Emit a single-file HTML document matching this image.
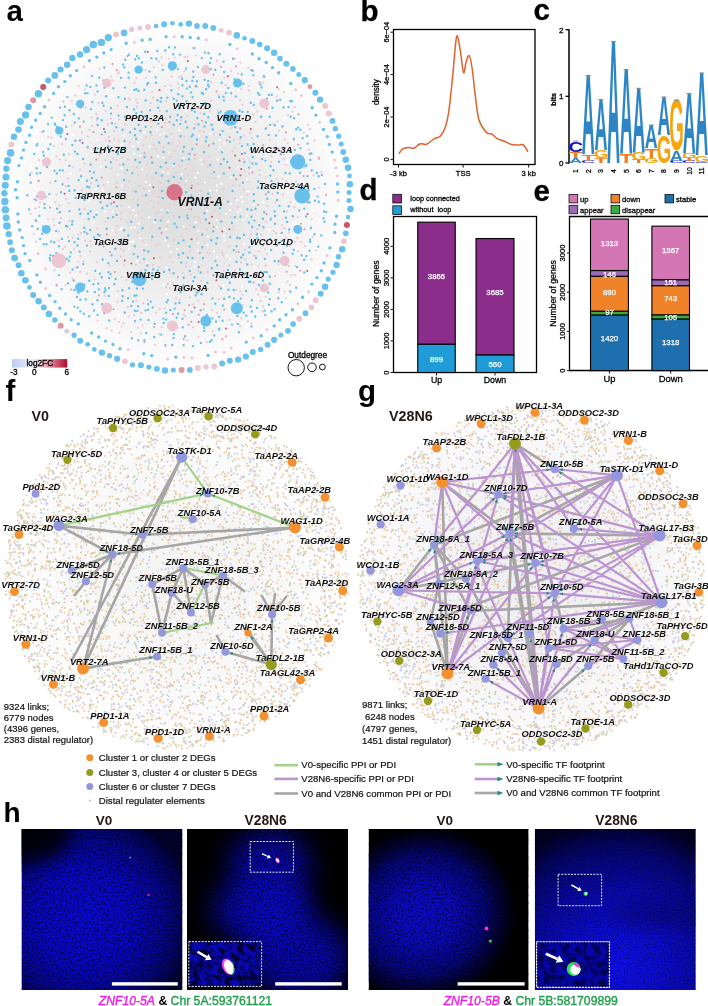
<!DOCTYPE html>
<html><head><meta charset="utf-8"><title>Figure</title>
<style>
html,body{margin:0;padding:0;background:#fff;}
body{width:708px;height:1006px;overflow:hidden;position:relative;}
svg{position:absolute;left:0;top:0;display:block;}
svg text{font-family:'Liberation Sans', Arial, Helvetica, sans-serif;}
</style></head><body>
<svg width="708" height="1006" viewBox="0 0 708 1006">
<defs><radialGradient id="ga" cx="177" cy="197" r="168" gradientUnits="userSpaceOnUse"><stop offset="0" stop-color="#dcdcdc"/><stop offset="0.3" stop-color="#e3e3e3"/><stop offset="0.6" stop-color="#efefef"/><stop offset="0.85" stop-color="#f7f7f7"/><stop offset="1" stop-color="#fdfdfd"/></radialGradient><linearGradient id="lfc" x1="0" x2="1" y1="0" y2="0"><stop offset="0" stop-color="#b9cdf3"/><stop offset="0.38" stop-color="#eef0f8"/><stop offset="0.5" stop-color="#f2d8de"/><stop offset="1" stop-color="#b3092f"/></linearGradient></defs>
<circle cx="177" cy="197" r="170" fill="url(#ga)"/>
<path d="M192.1 202.2h0M167.9 211.1h0M161.5 209.6h0M186.4 180.9h0M168.2 221.4h0M168 173.2h0M181.6 174.1h0M195.2 177.7h0M183.6 226.6h0M149.1 191h0M150 185.2h0M162.7 171.8h0M173.6 165.3h0M197.6 173h0M204.8 182.6h0M195.6 222.5h0M210.3 190.4h0M207.3 211.2h0M165.7 229.5h0M154.5 222.4h0M148.9 217.4h0M146.1 182h0M163.2 157.7h0M183.6 158h0M202 164.3h0M217 185.5h0M216.6 190.6h0M198.2 230.7h0M216.6 220.1h0M165.2 240.6h0M138.8 223.9h0M136.1 215.7h0M133.6 209.9h0M142.3 169.4h0M157.9 156.4h0M168.9 152.6h0M200.4 159.7h0M218.8 176.5h0M221.3 183.9h0M226 213.8h0M217.1 227.3h0M207.8 236.9h0M198.2 243.1h0M177.3 249.2h0M168.3 246.3h0M134.7 227.1h0M128.7 207.2h0M217.4 159.6h0M231.4 177.5h0M231.1 204h0M230.2 210.1h0M224 228.3h0M207.4 245.2h0M197.8 250.8h0M170.7 251.8h0M146.7 245.1h0M140.3 238.2h0M131.2 227.7h0M121.3 192.1h0M121.8 185.7h0M140.1 155.8h0M149.3 146.5h0M132.7 241.5h0M121.5 227.9h0M118.3 174.7h0M121.6 168.2h0M134.2 153.8h0M237.1 200h0M238.1 212.2h0M223.8 235.7h0M164.2 133h0M179.5 130.2h0M199 135.6h0M219.7 147.3h0M223.2 151.1h0M241.4 197.1h0M242.3 201.9h0M240.4 209.6h0M224.3 240.5h0M214 251.4h0M195 262.1h0M130.4 242.3h0M120.4 229.4h0M112.5 211.7h0M112.3 198.1h0M133.3 146.2h0M138.4 142.6h0M160.5 134.6h0M194.7 266.7h0M166.5 267.9h0M147.6 262.9h0M129.1 248.7h0M112.6 230.5h0M105.2 211.6h0M107.8 182.1h0M140.6 137.2h0M144.2 132.5h0M157.1 130.2h0M210.8 133.5h0M219.8 140.2h0M224.6 143.3h0M247.4 179.4h0M248.1 191.4h0M247 215.6h0M243.2 220.4h0M217.5 256.6h0M254 204h0M227.4 255.6h0M136.8 261.2h0M103 190.5h0M121.7 144.5h0M101.1 167h0M124.2 135.7h0M244 243.7h0M230 258.7h0M96.7 212.2h0M95.6 189.5h0M163.3 284.7h0M93.5 222.2h0M89.4 200.4h0M141.3 117.1h0M185.7 111h0M219.8 121.1h0M251.4 151.7h0M263.4 202.6h0M125.9 120.2h0M223.6 119.1h0M200.5 286.2h0M269.2 229.5h0M192.1 293.9h0M166.7 294.1h0M83.1 179.8h0M96.7 139.8h0M223.2 285.7h0M70.6 173.6h0M276.2 158.3h0M285.4 188.4h0M255.4 267.6h0M221.3 294.2h0M98.4 271.2h0M288.2 192.7h0M242 286.5h0M112.1 288.2h0M70.9 158.5h0M116.6 295.7h0M84.9 126.2h0M88 123h0M221.6 89.2h0M270.9 127.2h0M286.8 161.7h0M292.5 201.8h0M229.3 301.4h0M69.5 144.3h0M72.6 135.2h0M111.9 96.1h0M239.2 91h0M264 113.5h0M288.6 148.6h0M294.2 222.8h0M293.5 235.1h0M50.5 204.2h0M156.6 70.1h0M291 138.9h0M278.9 272.9h0M52.8 151.2h0M70.9 118.1h0M88.6 98.3h0M123.1 75.5h0M176.6 65.9h0M182.3 65.2h0M284.4 118h0M290.7 130.8h0M296.8 253h0M254.6 302.9h0M150.7 326h0M119.6 316.9h0M118.9 314.8h0M48.9 235h0M316.4 206.7h0M313.2 210.5h0M283.4 285.1h0M150 334.4h0M98.5 310.3h0M44.3 232.8h0M226.3 329.7h0M168.3 338.8h0M161.7 339.2h0M34.5 179.3h0M76 98.3h0M124.7 63.6h0M27.3 196.8h0M31.3 166.4h0M49.6 117.6h0M71.3 90.7h0M93 75.8h0M321.8 226.8h0M302 275.9h0M247 326.5h0" stroke="#ffffff" stroke-width="2.3" stroke-linecap="round"/>
<path d="M183.9 205.6h0M169.7 204.5h0M185.3 184.5h0M188.7 208.9h0M167.4 187.5h0M178.8 183.2h0M173.4 215.4h0M158.3 202.6h0M158.6 196.7h0M159.7 190.4h0M160.9 183.1h0M194.7 217.1h0M162.8 217.9h0M156.6 212.9h0M153.4 207.3h0M151.1 200.5h0M152.6 193.3h0M158.2 181h0M175.8 172h0M187.8 175.7h0M198.1 183.9h0M200.9 191h0M202.1 196.6h0M166.2 226.1h0M146.7 202.5h0M152.3 178.7h0M168.1 168.5h0M178.9 165.9h0M185.5 169h0M191.9 170.4h0M206.7 207.7h0M198.9 216.9h0M190.3 225.6h0M212.3 204.6h0M200.6 222.5h0M186.3 229.4h0M141.9 196.4h0M143.9 188.9h0M147 175.6h0M188.6 163.9h0M170 157.2h0M195 158.9h0M207.2 167.2h0M211.5 173.8h0M214.7 178.2h0M214.5 211.1h0M181.7 236.5h0M174.1 239.3h0M151 228.3h0M142.1 218h0M138.8 212.6h0M137.7 200.2h0M139.6 185.6h0M223.5 189h0M223.7 197h0M219.2 213.7h0M207.4 229.1h0M197.1 238.3h0M173.1 240.9h0M133 199.4h0M132.5 191.4h0M138 174.8h0M146.8 164.7h0M174.8 151.2h0M204 162.2h0M163.1 146.9h0M171.3 145.3h0M177.8 146.1h0M208.8 156.6h0M204.6 241.8h0M157.3 245.2h0M151.7 240.2h0M138.4 232.6h0M130.1 213.2h0M126.7 199.4h0M125.6 186h0M129.1 181.1h0M137.1 167.2h0M156 148.9h0M233.1 185.7h0M235 198.4h0M230.7 217.2h0M189.8 250.9h0M142.8 241.1h0M127.6 222.7h0M121.4 213.3h0M121 206h0M124.9 173.6h0M153.8 144.8h0M172.6 142.5h0M178.9 141.3h0M179.1 257.7h0M169.9 256.9h0M159.9 257.7h0M121.1 219.1h0M116.7 182.8h0M128.1 159.6h0M143.3 145h0M171.3 134h0M184.2 136.3h0M239.5 185.7h0M238.2 207.3h0M206.8 252.8h0M244.1 189.9h0M232.7 229.7h0M209.6 253.6h0M186.5 263.2h0M172.4 262.3h0M124.3 237.3h0M117 226.1h0M119.7 164.8h0M122.4 157.8h0M146.1 137.4h0M151.6 135.4h0M186.1 266.3h0M159.2 267.3h0M153.3 264.9h0M116.2 232.5h0M111.6 167.9h0M116.2 160.1h0M129.9 142.5h0M199.8 130.6h0M204 131.9h0M213.7 134.3h0M232.5 151.5h0M244.9 171.1h0M248.2 182h0M247.6 194.8h0M229 246.6h0M222.2 252.9h0M151 126.9h0M165 122.5h0M181 120.2h0M195.5 124h0M234.7 148.5h0M243.7 159.4h0M249.1 173.9h0M223.1 255.9h0M198.2 270.6h0M182.7 272.8h0M170 272h0M140.6 262.7h0M123.9 250.7h0M121 249.1h0M116.7 243.4h0M105.9 221.8h0M100.5 199.3h0M103.7 184.8h0M113.1 158.5h0M105.3 160.3h0M114.4 146.6h0M118.7 140.5h0M151.5 121.2h0M165.5 118.6h0M187.2 115.8h0M234.2 139.5h0M239.7 143.5h0M249.8 161.5h0M250.8 234.1h0M236.3 252h0M207.8 271.9h0M190.8 275h0M141.3 270.5h0M136 265h0M120.9 256.7h0M111.3 244.2h0M201 281.1h0M172.9 283.4h0M167.8 284.1h0M123.8 265h0M97.2 228.4h0M91.3 195h0M91.1 183.4h0M99.7 154.9h0M114.2 138.7h0M125.2 124.7h0M132 120.8h0M159.6 111h0M200.4 113.1h0M231.7 127.9h0M240.2 138.8h0M259.6 170.1h0M259.8 175.2h0M257.3 229.2h0M245.5 249.8h0M229.5 265.6h0M223.9 270.9h0M217.5 274.6h0M105.8 140.1h0M108.9 136.9h0M114.1 130.9h0M210 111.3h0M229.2 121.5h0M244.2 135.6h0M266.1 177.5h0M267.2 205.8h0M266.2 221.8h0M261.2 234.5h0M245.2 259.8h0M241 262.6h0M234.6 270.6h0M190 288.4h0M170.1 288.2h0M166.1 287.4h0M143.2 284.4h0M130.9 277.9h0M127.3 272.5h0M96.8 243h0M84.5 209.2h0M250.6 133.1h0M252.2 138.2h0M272.4 193.9h0M275.3 202.6h0M271.3 217.8h0M259.2 251.3h0M255.5 256.1h0M253.8 255.7h0M219.1 286.4h0M208 288.9h0M140.9 285.6h0M126.2 280.1h0M121.3 277.2h0M109.6 265.7h0M91.2 246h0M90.6 241.3h0M81.8 190.1h0M84.4 163.3h0M115.1 123.8h0M119 119.5h0M137 106.7h0M150.6 103.2h0M166.1 101.1h0M217.5 110.6h0M96.7 262.1h0M90.1 251.4h0M85.2 240.7h0M81 233.2h0M80 169.7h0M107.9 124.3h0M111.1 118.5h0M137.3 102.9h0M152.9 97.7h0M211.1 100.5h0M237.8 115.8h0M246.8 121.2h0M271.7 156.2h0M271.4 162.1h0M276.6 179.1h0M273.8 231h0M266.7 244.8h0M265.3 249h0M251.5 264.2h0M239.6 275.7h0M189.8 297.5h0M179.6 300h0M176.2 298.4h0M72.7 167.4h0M87.8 136.4h0M117.7 105.8h0M130.1 99.6h0M135.9 99.6h0M152.1 92h0M160.5 90.6h0M178.6 88h0M248.7 115.6h0M255.4 121.9h0M269.9 139.9h0M282.1 179.2h0M282.8 194.6h0M282 225.2h0M276.1 233.4h0M267.1 254.1h0M258 266.5h0M198.2 300.5h0M192.9 304.3h0M147.6 300h0M77.9 234.5h0M68.7 203h0M218.4 94.9h0M242.5 105h0M253.2 114.6h0M266.7 127.7h0M283.6 159.1h0M285.8 165h0M286.2 181.5h0M290.4 202.1h0M286.9 211.3h0M284.5 228.2h0M265.8 265.7h0M254.9 275.7h0M240.3 291.3h0M235.9 289.9h0M218.5 299.2h0M164.6 308.3h0M159.8 309.1h0M143 303.2h0M136.5 301h0M117.7 291.3h0M83.6 261.4h0M80.3 256h0M72.8 237.5h0M69.6 229.1h0M69.4 221.1h0M66.1 199h0M65.6 186.2h0M67.7 178.5h0M81.7 139.4h0M89.3 129.8h0M92.1 125.8h0M96.6 119.8h0M105.9 110.8h0M128.6 98.1h0M165 86h0M170.9 85.7h0M178.1 83.5h0M156.1 312.5h0M94.6 279.7h0M87.3 273.7h0M78.1 261.6h0M74.1 249.2h0M68.2 237h0M61 218.1h0M59.2 205.4h0M65.7 160.3h0M69.2 153.9h0M81.8 132.2h0M91.7 117.5h0M96.2 113.9h0M240.1 100.2h0M256.8 111.6h0M283.7 154.6h0M294.5 207.4h0M289.1 232.4h0M285.6 237.7h0M259.9 277h0M242.5 294.7h0M211.8 309.9h0M203.5 309.2h0M183.6 314.5h0M59.9 222.3h0M58.1 212.9h0M55.3 202.2h0M56.4 194.4h0M59.8 159.5h0M98 103.3h0M134.4 82.8h0M145.7 78h0M171.5 76.7h0M178.8 77.1h0M181 76.3h0M211.1 82.2h0M225.7 85.2h0M273.5 124.1h0M278.8 130.7h0M285 139.7h0M287.7 143.4h0M296 181.2h0M298.2 192.4h0M297.7 217h0M290.1 245.7h0M278.4 264.2h0M256.2 289.4h0M217 313h0M185.6 316.6h0M141.2 312.9h0M127.9 306.9h0M117.6 301.7h0M104.6 296h0M80.3 271.8h0M76 267.5h0M65.2 246.8h0M58.9 231.6h0M168.1 323.3h0M134.2 315.2h0M128.8 316.4h0M106.3 303.6h0M62.6 249h0M58.3 240.6h0M54.2 225.5h0M53.4 219.6h0M50.2 182.7h0M56.6 156.5h0M62.2 144.1h0M71.9 125.5h0M85.6 107.7h0M136.4 77.9h0M184.4 71.1h0M224.5 78h0M234.1 83.3h0M241.1 89.2h0M249 90.7h0M277.6 121.5h0M303.2 186.2h0M299.6 228.9h0M297.4 237.9h0M294.7 242h0M275 276.2h0M258.3 294.6h0M242.8 305.3h0M54.1 146.3h0M62.3 129.1h0M94.6 94.4h0M112.4 80.4h0M145.4 70h0M153.7 67h0M162.3 65.1h0M248.6 86h0M301.2 242.1h0M297.8 251.4h0M288.6 265.9h0M265.7 296.8h0M260.6 300.9h0M229.5 319.9h0M192.9 327.3h0M177.4 328.2h0M161.7 327.2h0M142.4 325.4h0M72.4 278.5h0M70 272.7h0M48.1 219h0M277.8 100.5h0M288.1 115.3h0M308.9 149.8h0M313.5 175.4h0M311.8 219h0M310.4 229h0M305.1 246.2h0M295.5 266.1h0M291.3 274.8h0M287.6 281.5h0M278.9 292.3h0M263.2 306.2h0M241.7 317.9h0M236.8 323.5h0M212.5 331.1h0M159.2 334.1h0M137.9 327.8h0M123.3 323.2h0M118.8 321.9h0M114.5 319.2h0M39.1 207.2h0M40 202.3h0M39.3 193.4h0M37.9 180.6h0M51.4 137.8h0M70.2 110.8h0M110.8 76.6h0M118 73.7h0M118.8 72.4h0M158.9 61.3h0M168.7 58.8h0M174.8 57.6h0M184.7 57.2h0M231.2 71h0M238.1 73.7h0M187.2 56.6h0M195.9 55.5h0M217 60.8h0M263.2 82.5h0M276.8 96.3h0M292.2 111.5h0M303.9 132.5h0M318.7 187.6h0M312.6 236.9h0M294.9 275.1h0M290 285.1h0M284.8 291.5h0M262.4 311.3h0M247.9 321.2h0M240.1 326.2h0M198.5 337.1h0M187.2 340.5h0M140.9 333.5h0M131 332.1h0M121.8 326.5h0M65.8 284.9h0M54.5 270.3h0M35.2 208.5h0M39 159.9h0M48.3 136.9h0M72 100.7h0M75.2 95.4h0M85 89.5h0M161.6 57.4h0M119.3 332.7h0M111.6 330.5h0M106.5 328.3h0M97.8 320.5h0M56.7 284.7h0M45 268.4h0M46.1 269.6h0M36.1 241.6h0M33.7 234h0M30.6 213.8h0M31.7 172.6h0M41.6 132.3h0M63.6 102.2h0M63.2 101h0M78.4 86.2h0M99.8 69h0M192.8 48h0M209.2 53.6h0M234.7 58.6h0M240.5 62.6h0M248.3 67.8h0M263.5 75.7h0M278.7 89.1h0M283.9 92.1h0M294.6 106.9h0M307.8 124.9h0M309.9 129.2h0M314.7 140.3h0M318.3 157h0M321.7 172h0M316.5 250.6h0M311.5 259.4h0M289.5 291h0M285.7 298.5h0M251.5 323.6h0M206.7 342.1h0M172.4 345.5h0M154.9 344.8h0" stroke="#ecc6d2" stroke-width="2.2" stroke-linecap="round"/>
<path d="M191.2 209.3h0M191.9 185.5h0M210.3 197.5h0M161.6 232.9h0M213.6 227h0M151.3 157.4h0M194.9 154.8h0M144.4 153h0M196.7 144.3h0M116.4 187.2h0M209 145.4h0M236.1 179.4h0M199.8 253h0M161.9 127h0M169.5 122.1h0M226.8 140.3h0M101.7 177.6h0M145 120.8h0M202.1 120.8h0M229.6 137.1h0M252.5 172.5h0M258.2 205h0M238.7 251.7h0M177.9 277h0M106.9 234.2h0M110.1 252h0M103.7 246.5h0M96.3 159.6h0M109.6 141.1h0M265.8 194.4h0M181.1 103.9h0M198.5 108.1h0M240.3 128.4h0M266.7 214.1h0M114.9 272h0M93.6 148.7h0M101.7 134.5h0M263.3 145.4h0M93.5 132.1h0M189.2 305.3h0M195.6 85.9h0M216.5 91.5h0M278.4 148.9h0M204.1 304.2h0M184.7 310.2h0M172.9 314.1h0M253.7 282.6h0M80 126.7h0M224.2 309.5h0M198.7 314.8h0M191.2 321.8h0M188.6 324.7h0M113.5 309.2h0M98.9 295.5h0M50 207.6h0M213.4 74.6h0M238.4 84.9h0M266.7 108.7h0M285.8 132.4h0M303.7 176.1h0M300.9 223.8h0M285.8 264.7h0M81.2 107.8h0M298.2 144.7h0M304.5 229.3h0M286.7 271.7h0M154.2 327h0M38.7 180.9h0M221.1 66.8h0M236.1 66.4h0M259.5 82.3h0M300.2 270.8h0M183.7 339h0M71.2 289.5h0M36.3 221.2h0M34.6 199.2h0M116.7 70h0M56.5 285.4h0M38.2 253.6h0M112.5 63.9h0M127.4 56.1h0M298.3 114.4h0M319.1 158.6h0M326.1 195.1h0M226 336.3h0M222.5 339.3h0M144.4 342.2h0" stroke="#dc98aa" stroke-width="2.1" stroke-linecap="round"/>
<path d="M191.3 188.1h0M153.3 187.2h0M212.1 216.8h0M209.3 223.3h0M191.6 239.2h0M222.3 231.6h0M120.8 198.6h0M114 202.3h0M229.5 167.7h0M229.4 229.3h0M240.4 175.4h0M153.9 258.2h0M235.1 155.5h0M239.5 160.6h0M241.3 169h0M241.8 153.9h0M131.3 263.4h0M124.6 260.6h0M216.4 280.2h0M103.9 129.1h0M250.8 128.9h0M82.6 143h0M159.4 90h0M194.6 307.4h0M64.6 193.8h0M198.5 322h0M67.4 134.1h0M227.9 76.2h0M307.5 213.9h0M53.2 256h0M187.8 60.9h0M226 328.6h0M147.8 52.1h0M277.1 87.3h0M307.2 271h0" stroke="#c9546f" stroke-width="2.0" stroke-linecap="round"/>
<path d="M186.1 192.3h0M187.7 199.5h0M174.1 188.7h0M191.3 195.8h0M162.8 198.1h0M162.2 191.1h0M187.1 215.4h0M179.4 217h0M167.6 212.5h0M168.4 181h0M173.8 176.9h0M181 178.6h0M193.7 203.7h0M187.7 218.3h0M174.7 223.7h0M161.9 175.5h0M202.6 204.7h0M176.8 227.1h0M160.8 220.6h0M155.3 219.9h0M146.1 195.3h0M156.1 173h0M208.2 193.8h0M205.7 201.2h0M204.5 213.2h0M205.8 219.5h0M194 226.9h0M159.6 228.3h0M160.6 167h0M166 162.7h0M174.2 163.8h0M182 160.6h0M152.2 162.8h0M188.8 159.2h0M217.3 205h0M167.2 237.6h0M137.9 205h0M135.8 191.5h0M220.1 208.2h0M202.2 234.4h0M183.5 240.4h0M178.5 243h0M152.3 236.7h0M142.5 228.2h0M163.6 151.9h0M183.1 151.6h0M189.4 153.9h0M210.1 165h0M214.1 172.1h0M184 146.9h0M192.4 149h0M204.1 152h0M223.8 173.5h0M228 201.6h0M221.4 221.6h0M213.2 231.3h0M189.8 246.6h0M131.2 221.7h0M132.3 173.1h0M139.7 162.2h0M144.6 157h0M220.8 164.1h0M232.6 190.9h0M217.2 238.1h0M211.2 240.3h0M202.2 247.2h0M183 253.3h0M178.6 254.7h0M124.1 179.9h0M127.2 170.1h0M135.3 159.8h0M159.2 142.5h0M168.7 143.2h0M192.5 258.2h0M187.9 257.7h0M148.3 251.5h0M144.2 250.2h0M128.3 235.5h0M124.2 230.3h0M116.7 214.9h0M116.9 206.3h0M123.3 164.5h0M137.8 149.3h0M166.4 136.4h0M180.5 136.3h0M191.5 136.6h0M197 139.5h0M205.9 141.3h0M222.1 152.2h0M223.8 159.3h0M227.3 161.9h0M233.8 175.3h0M234.8 217.3h0M231.9 222.8h0M216.3 243.6h0M192.8 134.8h0M206.5 137.3h0M213.4 143.6h0M242.9 182.8h0M240.5 216.5h0M230.2 237.1h0M202.9 258.2h0M181.3 262.4h0M134.8 246.3h0M113 217.1h0M111.3 203.6h0M198.7 266.9h0M169.3 269.8h0M144 259.1h0M137.9 256.8h0M133.7 254.1h0M125.4 244.1h0M121.4 239.5h0M108.2 218.1h0M107.2 205.8h0M117.9 153.8h0M121.4 150.9h0M124.7 147.9h0M136.2 138.9h0M150.5 132.2h0M173.7 124.7h0M180.3 123.9h0M187.2 127.4h0M194.1 128.3h0M247.4 209.2h0M237.2 237.7h0M124.6 140.9h0M135 135.2h0M140.4 130.9h0M145.7 126.8h0M158.3 123.6h0M176.8 120.3h0M185.6 121.7h0M198.5 124.4h0M204.4 126.4h0M212.8 129.5h0M220 134.8h0M229.9 141.7h0M244.4 162.1h0M249 167.6h0M253.9 194.2h0M253.9 201h0M251.4 210h0M251.5 216.8h0M248.9 222.6h0M244 234.9h0M239.7 238.3h0M236.7 246.1h0M233.8 250.1h0M215.5 261.1h0M189.8 271.1h0M173.6 273.2h0M164 271.7h0M157.6 270.4h0M153.2 269.3h0M147.4 265.5h0M106.7 228.8h0M102.4 208h0M100.6 202.2h0M106.2 166.9h0M110.9 162.3h0M117.7 151.7h0M96.4 180.3h0M109.9 151.2h0M130.2 132.2h0M134.9 128.9h0M138.7 124.8h0M170.2 117h0M177.6 115h0M181.2 117.3h0M197.3 118h0M205.9 122.4h0M211.7 124.7h0M222.6 131.1h0M242 146.1h0M244.8 153.1h0M252.5 163.5h0M258.2 181.5h0M258 187.7h0M255.5 208.8h0M254.4 220.6h0M252.2 226.9h0M217.2 265.3h0M211.7 268.2h0M200.7 272.5h0M194.6 277.2h0M183.7 277.8h0M158.7 276.9h0M152.2 273.2h0M145.5 270.3h0M115.3 248.8h0M96.4 214.8h0M98.2 185.9h0M213.6 275.4h0M193.1 281.2h0M183.3 285.5h0M152 278.9h0M142.6 275.2h0M135.2 274.1h0M117 260.9h0M111.6 255.2h0M99.6 235.5h0M97.9 234.4h0M94 217.2h0M90.5 211.2h0M89.3 187.2h0M92 177.9h0M93.9 172.5h0M100.6 152.7h0M108.2 146.3h0M122.6 129.7h0M145 116.3h0M166.8 111.1h0M179 108.2h0M191.8 110.1h0M194.9 111.7h0M204.3 113.9h0M208.3 117.3h0M218.4 119.7h0M237.4 132.1h0M240.7 137.3h0M247.6 144.5h0M250.6 148.9h0M252.8 157h0M256.2 163.8h0M262.2 188.5h0M264.2 212.2h0M262.9 218.7h0M259.3 225.3h0M256.9 234.3h0M251.8 241.4h0M249.5 247.3h0M243.2 254.7h0M241.2 257.5h0M236.5 261.8h0M228 269.9h0M96.3 152.3h0M97.6 148.5h0M116.4 127.2h0M131.7 118.7h0M136.3 113.2h0M141.5 112h0M150.1 110.3h0M158.2 107.8h0M177.9 105.8h0M218.8 113.1h0M235.3 127.3h0M253.7 144h0M255.1 151.6h0M262.2 159h0M268.1 185.1h0M268.4 192.3h0M267.3 198.8h0M263.5 227.2h0M257.2 238.5h0M249.4 252.5h0M222.2 277.3h0M207.2 282.6h0M175.2 289.6h0M99.2 244.9h0M94.1 237.4h0M90.3 230h0M88.6 219h0M88.1 213.7h0M84.6 200h0M86.6 193.9h0M87.2 186.8h0M87.1 180.7h0M89.9 171.1h0M90.6 164.8h0M265.4 160.6h0M270.6 166.2h0M270.2 175.6h0M271.5 181h0M273.7 186.3h0M274.6 211.5h0M270.6 219.5h0M264.8 240.5h0M262.8 245.2h0M247.3 264.5h0M239.9 269.5h0M233.9 274.6h0M234.3 276.9h0M227.1 278h0M198.6 291.3h0M196.8 292.9h0M180.5 292.3h0M143 288.6h0M132.4 281.8h0M108.4 263.1h0M102.7 259.5h0M87.2 233.6h0M84.6 232h0M84.3 227.8h0M80.4 213.7h0M79.3 209.4h0M81.3 197.2h0M81.1 176.3h0M105 131.9h0M111.9 123.2h0M124.9 116.8h0M134 109.4h0M157.5 100.2h0M160.6 101.7h0M173.6 98.8h0M176.8 100.6h0M186.4 101.1h0M202.6 104.9h0M205.2 102.7h0M209.8 106.5h0M220.7 111.6h0M231.3 118.7h0M234.6 121h0M110.6 274.2h0M108.5 272.3h0M87.1 245.6h0M75.7 197.7h0M74.6 190.3h0M78.7 180.1h0M83.1 159h0M87.7 147.3h0M118.6 115.6h0M126.9 106.9h0M145.7 100.5h0M161.3 98h0M167.4 97.6h0M178.3 94.2h0M182.3 96.3h0M192.5 97.1h0M234.3 112.1h0M257.5 136.3h0M265.9 151.3h0M273.4 170.3h0M278.3 183.2h0M277.7 193h0M277.1 200h0M279.5 205.9h0M275 216h0M275 223.8h0M270.1 239.1h0M256.1 258.1h0M244.3 274.2h0M229.8 282.8h0M221 288.5h0M201.5 294.2h0M195.8 295.4h0M167.9 299.9h0M136.9 288.5h0M129.1 288.2h0M115.7 278.9h0M69.3 190.7h0M68.6 185.9h0M77.4 154h0M97.6 125h0M101.8 120.3h0M111 113.6h0M171.5 90.3h0M186.8 88.4h0M191.1 92.4h0M201.9 93h0M203.1 93.7h0M219.2 97.2h0M223.9 100.4h0M239.5 110.7h0M242.4 111.8h0M274.8 152h0M279 161.8h0M284.1 211.4h0M271.1 249.9h0M264.8 258.9h0M248.3 277.6h0M233.7 290h0M228.3 289.8h0M212.5 298.4h0M179.4 302.7h0M175.5 303.5h0M166.7 302.3h0M150.7 301.6h0M136.5 295.4h0M134.4 295.7h0M122.4 290.2h0M114.3 284.3h0M109.2 278h0M99.9 273.6h0M78.2 238.7h0M72.1 224.4h0M72.5 221.3h0M69.5 211.1h0M189.9 86.8h0M196.5 86.5h0M206.3 89.1h0M206 89.2h0M223.5 96.8h0M247.7 112h0M265.7 128.7h0M268.6 134.9h0M276.2 148.4h0M280.7 154.3h0M285.5 173h0M288.7 206.2h0M285.8 217.8h0M287.2 221.9h0M281.8 232.9h0M281.4 241.1h0M278.5 243.3h0M276.6 245.4h0M260.8 271.6h0M250.4 281.8h0M249 281.8h0M229.4 296.9h0M224.2 298.8h0M215.2 303.8h0M174.7 308.6h0M170.3 309.9h0M152.7 307.4h0M148.2 304.2h0M133 301.6h0M128.1 298.3h0M122.8 296.2h0M109.1 288h0M101.8 277.3h0M95.3 270.7h0M79.6 251.6h0M77.5 245.5h0M74.5 242.3h0M67.3 226.4h0M69.5 165.8h0M74.9 151.6h0M79.9 140.4h0M97.6 118.4h0M111 108.1h0M124.9 98.7h0M138.6 91h0M144.3 89.8h0M182.5 85.2h0M178.1 313.8h0M166.1 312.8h0M148.1 309.6h0M145.6 310.4h0M138.2 306.3h0M131.3 305.9h0M122.1 300.9h0M105.5 290.4h0M105.1 288.1h0M98.2 283.6h0M83.2 264.1h0M69 241.1h0M66 226h0M60.1 212h0M61 192.3h0M62.5 184.2h0M62.8 170.4h0M72.3 144.9h0M75.3 140.7h0M103.7 105.7h0M118.5 97.2h0M134.4 89.9h0M136.4 89.2h0M147.1 84.4h0M148.3 82.9h0M155.9 82.7h0M182.1 78.8h0M186.5 81h0M192.3 80.9h0M196.9 81.3h0M208 84.7h0M208.8 86.6h0M225.9 92.9h0M231.2 93.3h0M235.7 96.4h0M261 116.9h0M261.3 116.8h0M270.1 124.9h0M276 135.5h0M289.8 173.5h0M292.8 216.2h0M289.2 229.5h0M274.7 261.2h0M266.8 272.3h0M264.6 271.9h0M246.1 291h0M234 298.4h0M222.8 305.5h0M200.6 310.2h0M191.6 311.9h0M59.4 222.9h0M57.1 208.7h0M55.5 181.1h0M56.8 173.2h0M59.8 170.3h0M63.8 154.7h0M83.7 121.6h0M90.9 109.1h0M102.3 102.8h0M106.1 96.3h0M124.9 87.6h0M155.6 77.4h0M193.5 77h0M204.6 79.8h0M208.2 80.9h0M221.7 82.7h0M228.3 87.9h0M250.7 102.7h0M253.8 104.9h0M269.7 116.8h0M274.8 125.3h0M289.8 151.9h0M291.2 161.2h0M294.8 164.7h0M297.9 184.4h0M300.3 198h0M299.3 210.5h0M295.7 227.1h0M286.9 245.9h0M283.5 252.8h0M278.7 261h0M269.8 276.8h0M263 280.5h0M258.9 285h0M240.9 298.6h0M238.1 301.3h0M207.3 316.3h0M206.9 315h0M182.5 318.8h0M176.6 317.7h0M166.3 319.6h0M163.5 318.6h0M137.4 310.9h0M134.9 310.8h0M108.7 295.9h0M104.3 292.2h0M98.9 289.4h0M93.4 284.2h0M89.3 280.7h0M77.6 267.2h0M69.8 256.6h0M70.7 252.4h0M61.9 238.9h0M235.1 308.2h0M219.1 316.9h0M212.3 318.4h0M206.6 319.2h0M163.8 323h0M154.7 323.8h0M148.6 319.9h0M140.6 319.6h0M124.8 312.5h0M94.8 292h0M84.3 284.8h0M72.6 269.5h0M68.8 260.7h0M66.6 258.8h0M58.9 246.2h0M56.2 230.9h0M49.4 194.1h0M54.4 170.8h0M65.8 139h0M74.8 122.6h0M78.8 118.4h0M92.3 102.1h0M113.3 88.2h0M128.7 77.8h0M149.4 71.6h0M162.8 69.9h0M171.2 69.7h0M178 69.1h0M186.1 68.6h0M193.2 71.6h0M282.5 126.5h0M294.8 150h0M298.4 155.6h0M300 172.7h0M303.7 188.3h0M304.8 199.3h0M304.3 208.6h0M293.7 249.8h0M292.6 253.8h0M284.1 264.6h0M269.9 283.8h0M262.6 288.7h0M251.9 300.2h0M49.6 163h0M60.8 136.5h0M66.2 126.7h0M73.9 114h0M82.2 103.8h0M97.6 91.4h0M104.5 87.5h0M121 77.9h0M128.6 72.6h0M169.1 66.6h0M197.9 67.1h0M210.8 69.1h0M215.3 69.9h0M224.2 72h0M234.6 79.1h0M243.4 83.7h0M258 93h0M259.5 94.9h0M266.9 98.6h0M272.5 107.8h0M293.9 139h0M300.4 148.1h0M306.6 165.1h0M305.4 166.3h0M307.5 176.1h0M307.7 185.6h0M308.6 190.2h0M308 202.6h0M309.4 202.2h0M306.1 216.5h0M268.3 292.6h0M250.6 306.7h0M243.7 312.6h0M237.4 316h0M222.6 320.7h0M216 321.5h0M204 327.7h0M182.7 327.2h0M171.5 328.1h0M135 321.3h0M102.1 304.2h0M97.4 300.2h0M87.3 291.4h0M73.7 280.5h0M58.8 255.1h0M56.4 253.3h0M54.2 242.2h0M51.1 241.5h0M47.9 227.1h0M44.6 207.9h0M44.6 204.1h0M45.4 196.9h0M47 167h0M241.8 74.4h0M260.5 84.5h0M261.5 87.5h0M268.9 94.9h0M271.7 94.7h0M277 100.7h0M283.5 107.4h0M290.8 116.7h0M296.2 129.3h0M298.1 127.6h0M302.5 138.3h0M309.9 153.8h0M310.3 159.9h0M311.7 170.5h0M314.3 189.1h0M314.9 200.8h0M311 227.8h0M310.1 239.8h0M301.6 255.4h0M297.2 267.1h0M279.1 289.3h0M269.7 299.1h0M257 307.9h0M251.8 311.5h0M246.3 315.6h0M232 324.6h0M218.9 329.4h0M219.4 328.7h0M204.3 330.9h0M185 336.3h0M173.9 334.1h0M161.3 334.6h0M146.2 332.9h0M104.3 313.1h0M92.5 304.3h0M85.7 299.3h0M78.4 292.8h0M74.3 290h0M68.1 283.2h0M59.2 266h0M55.1 264.8h0M50.5 255.1h0M46.5 244.2h0M42.3 233.8h0M43 226.8h0M39.4 215.9h0M37 196.6h0M40.3 172.9h0M43.8 155.4h0M48.3 149h0M50.5 144.2h0M57.2 127h0M58.3 127.6h0M63 120.1h0M64.6 115.3h0M69.4 110.1h0M87.6 93.1h0M85.2 93.3h0M90.4 86.9h0M96.5 85.4h0M103.6 80.4h0M124.3 67.3h0M141.9 62.5h0M156.5 58.8h0M210 62.9h0M201.8 58.1h0M211 58.2h0M223.5 61.6h0M253.3 75.1h0M280.2 99.8h0M288.5 107.1h0M294.1 118.3h0M300.3 129.8h0M307.2 135.9h0M307.7 143.6h0M311.4 153.4h0M316.9 173h0M318.7 176.3h0M317.6 196.6h0M318.8 201.8h0M314.5 234.2h0M310.2 241.9h0M309.5 250.8h0M306.3 256.1h0M304.1 259.8h0M278.3 298.3h0M268.9 304.8h0M264.6 310.6h0M255.2 316.5h0M238.1 324.1h0M214.2 335.5h0M173.5 338.1h0M154.2 337h0M109.1 320.4h0M97.6 314.9h0M94 310.5h0M80.3 299.7h0M76.9 296.9h0M58.9 275.1h0M50.2 260.3h0M49.8 258h0M43.7 244.2h0M40.1 239.1h0M37.8 228.9h0M35.6 220.1h0M36.1 200.1h0M36.9 173.4h0M36.7 168.3h0M43.1 152h0M55.2 124.8h0M54.9 123.7h0M64.9 106.8h0M86.6 85.4h0M99.2 77.6h0M123.2 64.4h0M135.3 59.3h0M139 58.2h0M151.5 58.3h0M173.2 54.2h0M179.8 54.6h0M138.3 340.2h0M131.8 338.3h0M89.2 316.2h0M83.8 313.7h0M80.3 311.4h0M77.8 307.6h0M74.4 306.6h0M61.6 289.2h0M32.1 226.3h0M29.1 209.4h0M27.4 195.3h0M30.8 182.6h0M29.9 174.7h0M34.2 153.9h0M36.6 145.5h0M37.5 143.9h0M43.4 131.3h0M48 124.1h0M51.7 117.6h0M60 107.6h0M67.4 97.1h0M92 76.1h0M104.3 67.5h0M125.2 59.8h0M129 54.8h0M137.1 55.9h0M145.2 51.7h0M157.3 51h0M165.3 50.5h0M169 47.3h0M174.8 47.5h0M194.3 48.1h0M204.9 52.6h0M208.4 52.9h0M219.7 54.3h0M233 58.7h0M251.3 70.1h0M252.7 70.7h0M264.2 76.7h0M290.4 100.9h0M291.9 101.2h0M321.9 175.1h0M325.1 183.9h0M324.2 203.8h0M326.3 212.1h0M324.1 211.5h0M323.7 218.2h0M324.5 221.7h0M321.2 235.4h0M318.2 246.6h0M304.4 272.4h0M296.2 287.7h0M290.5 291.8h0M281.7 302.3h0M274.7 309.3h0M271.6 311.2h0M265.2 315.1h0M251.5 326.4h0M238.9 332.2h0M211.7 340.2h0M209.9 341.8h0M200.9 342.9h0M193 346.1h0M183.6 345.2h0M172.2 344.9h0M165.3 345.2h0M144.4 340.2h0" stroke="#67c1ec" stroke-width="2.4" stroke-linecap="round"/>
<path d="M336.5 216.3h0M335 224.2h0M334.8 232.5h0M329.9 247.9h0M324 263h0M321.3 270.8h0M316.9 277.6h0M311.9 284.1h0M302.6 297.2h0M292.4 309.8h0M286 314.8h0M279.7 319.8h0M274.2 325.9h0M261.2 335.7h0M246.2 342.1h0M208.1 355.4h0M175.8 357.1h0M151.7 355.6h0M143.8 353.8h0M120 348.8h0M113 344.5h0M105.6 341.1h0M98.7 337h0M91.7 333h0M78.3 323.9h0M71.2 319.8h0M65.5 314h0M59.8 308.2h0M55.1 301.6h0M49.7 295.5h0M40.4 282.3h0M36.9 274.9h0M29.8 260.5h0M25.1 253.6h0M23.5 245.6h0M22.2 237.6h0M19.7 229.9h0M18.3 222h0M17.9 213.9h0M17.1 197.8h0M15.6 189.7h0M17.5 181.7h0M18.9 165.6h0M21.6 157.9h0M23.5 150.1h0M25.9 142.4h0M29.6 135.2h0M31.6 127.3h0M35.7 120.2h0M40.2 113.5h0M44.6 106.8h0M53.7 93.4h0M58.4 86.8h0M64.8 81.6h0M70.3 75.7h0M76.6 70.6h0M89.4 60.6h0M96.8 57.1h0M103.8 52.9h0M111.2 49.6h0M126.2 43.3h0M142.2 40.3h0M150.2 39.4h0M166.1 36.7h0M182.2 36.7h0M190.2 37.5h0M198.3 38.3h0M229.9 44.5h0M252.3 54h0M259 58.7h0M266.2 62.5h0M272.5 67.6h0M278.6 72.8h0M290.8 83.5h0M312.2 107.8h0M315.9 115.1h0M323.4 129.4h0M327.3 136.6h0M329.3 144.5h0M332.2 152.1h0M337.5 184h0M337.8 192.1h0" stroke="#67c1ec" stroke-width="3.4" stroke-linecap="round"/>
<path d="M338.1 200.2h0M327.2 255.6h0M308.7 291.7h0M297.8 303.8h0M266.9 329.6h0M253.2 338.1h0M231.2 348h0M224 352.2h0M215.6 352.1h0M192 357.9h0M183.9 357.3h0M167.6 358.9h0M128.3 349.7h0M45.6 288.5h0M49 100h0M83.8 66.7h0M134.4 42.5h0M174.2 36.8h0M206.2 39.7h0M237 48.7h0M295.8 89.8h0M301.4 95.6h0M319.7 122.2h0M334.6 159.9h0M335.8 167.9h0M337.5 175.9h0" stroke="#ecc6d2" stroke-width="3.0" stroke-linecap="round"/>
<circle cx="86.6" cy="49.6" r="3.7" fill="#67c1ec"/>
<circle cx="93.3" cy="44.6" r="3.8" fill="#67c1ec"/>
<circle cx="101.4" cy="42.4" r="3.7" fill="#67c1ec"/>
<circle cx="108.3" cy="37.6" r="3.6" fill="#67c1ec"/>
<circle cx="116" cy="34.6" r="3" fill="#ecc6d2"/>
<circle cx="124.1" cy="32.9" r="3.3" fill="#67c1ec"/>
<circle cx="131.6" cy="29.4" r="2.6" fill="#ecc6d2"/>
<circle cx="139.8" cy="28" r="2.5" fill="#ecc6d2"/>
<circle cx="148" cy="27" r="3" fill="#ecc6d2"/>
<circle cx="156.1" cy="26" r="2.3" fill="#67c1ec"/>
<circle cx="164.2" cy="24.2" r="3" fill="#67c1ec"/>
<circle cx="172.4" cy="23.2" r="2.3" fill="#67c1ec"/>
<circle cx="180.7" cy="24.4" r="2.4" fill="#67c1ec"/>
<circle cx="188.9" cy="23.6" r="3.2" fill="#67c1ec"/>
<circle cx="197" cy="25.9" r="2.8" fill="#67c1ec"/>
<circle cx="205.3" cy="25.9" r="3" fill="#67c1ec"/>
<circle cx="213.3" cy="27.9" r="2.9" fill="#67c1ec"/>
<circle cx="221.2" cy="30.3" r="2.4" fill="#ecc6d2"/>
<circle cx="229" cy="32.7" r="2.9" fill="#ecc6d2"/>
<circle cx="236.8" cy="35.4" r="3.3" fill="#67c1ec"/>
<circle cx="244.5" cy="38.2" r="2.3" fill="#67c1ec"/>
<circle cx="252.3" cy="40.9" r="3" fill="#67c1ec"/>
<circle cx="259.7" cy="44.5" r="2.8" fill="#67c1ec"/>
<circle cx="267.1" cy="48.3" r="3" fill="#67c1ec"/>
<circle cx="274.1" cy="52.8" r="3.2" fill="#67c1ec"/>
<circle cx="280" cy="58.6" r="2.8" fill="#67c1ec"/>
<circle cx="286.4" cy="63.8" r="3" fill="#67c1ec"/>
<circle cx="292.9" cy="68.9" r="2.8" fill="#67c1ec"/>
<circle cx="298.8" cy="74.5" r="2.5" fill="#67c1ec"/>
<circle cx="304.8" cy="80.2" r="3.1" fill="#67c1ec"/>
<circle cx="309.9" cy="86.7" r="2.4" fill="#dc98aa"/>
<circle cx="315.4" cy="92.8" r="3" fill="#67c1ec"/>
<circle cx="320.1" cy="99.6" r="3.2" fill="#67c1ec"/>
<circle cx="325.2" cy="106.1" r="3" fill="#ecc6d2"/>
<circle cx="328.8" cy="113.6" r="3" fill="#ecc6d2"/>
<circle cx="332.5" cy="120.9" r="2.9" fill="#67c1ec"/>
<circle cx="335.3" cy="128.7" r="2.7" fill="#67c1ec"/>
<circle cx="338.7" cy="136.2" r="2.6" fill="#67c1ec"/>
<circle cx="341.2" cy="144" r="2.5" fill="#67c1ec"/>
<circle cx="343.2" cy="152" r="2.9" fill="#67c1ec"/>
<circle cx="345.8" cy="159.8" r="3.2" fill="#67c1ec"/>
<circle cx="348" cy="167.8" r="3.3" fill="#67c1ec"/>
<circle cx="349.5" cy="175.9" r="2.4" fill="#67c1ec"/>
<circle cx="349.8" cy="184.2" r="3.3" fill="#67c1ec"/>
<circle cx="349.1" cy="192.5" r="2.5" fill="#67c1ec"/>
<circle cx="349" cy="200.6" r="2.5" fill="#67c1ec"/>
<circle cx="350.5" cy="209" r="3.3" fill="#67c1ec"/>
<circle cx="348.1" cy="217" r="2.3" fill="#67c1ec"/>
<circle cx="346.9" cy="225.1" r="3" fill="#c9546f"/>
<circle cx="345.8" cy="233.3" r="2.9" fill="#67c1ec"/>
<circle cx="343.9" cy="241.3" r="2.8" fill="#ecc6d2"/>
<circle cx="342.2" cy="249.3" r="3.3" fill="#67c1ec"/>
<circle cx="338.4" cy="256.7" r="2.8" fill="#67c1ec"/>
<circle cx="336.6" cy="264.9" r="3.2" fill="#67c1ec"/>
<circle cx="333" cy="272.3" r="2.6" fill="#67c1ec"/>
<circle cx="328.2" cy="279.1" r="2.6" fill="#67c1ec"/>
<circle cx="325.1" cy="286.7" r="3.3" fill="#67c1ec"/>
<circle cx="320.7" cy="293.7" r="3" fill="#67c1ec"/>
<circle cx="315.6" cy="300.2" r="3" fill="#ecc6d2"/>
<circle cx="311.4" cy="307.4" r="2.8" fill="#ecc6d2"/>
<circle cx="305.5" cy="313.2" r="2.9" fill="#67c1ec"/>
<circle cx="299.3" cy="318.7" r="3" fill="#ecc6d2"/>
<circle cx="293.1" cy="324.1" r="2.8" fill="#67c1ec"/>
<circle cx="288" cy="330.8" r="2.9" fill="#67c1ec"/>
<circle cx="280.9" cy="335" r="2.5" fill="#67c1ec"/>
<circle cx="274.2" cy="339.8" r="3.1" fill="#67c1ec"/>
<circle cx="267.6" cy="344.8" r="3" fill="#67c1ec"/>
<circle cx="260.7" cy="349.4" r="2.7" fill="#67c1ec"/>
<circle cx="252.8" cy="352" r="3" fill="#67c1ec"/>
<circle cx="245.9" cy="356.6" r="3.1" fill="#67c1ec"/>
<circle cx="238.1" cy="359.6" r="3.2" fill="#67c1ec"/>
<circle cx="229.8" cy="360.7" r="3" fill="#67c1ec"/>
<circle cx="222.1" cy="363.5" r="3" fill="#67c1ec"/>
<circle cx="214.3" cy="366.5" r="3" fill="#ecc6d2"/>
<circle cx="206" cy="366.9" r="2.7" fill="#ecc6d2"/>
<circle cx="197.9" cy="368" r="3" fill="#ecc6d2"/>
<circle cx="189.8" cy="369.9" r="2.9" fill="#67c1ec"/>
<circle cx="181.6" cy="370" r="3" fill="#dc98aa"/>
<circle cx="173.3" cy="369.9" r="2.5" fill="#67c1ec"/>
<circle cx="165" cy="370.5" r="3.2" fill="#67c1ec"/>
<circle cx="156.9" cy="368.8" r="2.9" fill="#67c1ec"/>
<circle cx="148.9" cy="367.1" r="2.6" fill="#67c1ec"/>
<circle cx="140.9" cy="365.3" r="3" fill="#67c1ec"/>
<circle cx="132.5" cy="364.8" r="2.6" fill="#67c1ec"/>
<circle cx="124.9" cy="361.3" r="2.8" fill="#ecc6d2"/>
<circle cx="117.1" cy="358.8" r="3.1" fill="#67c1ec"/>
<circle cx="109.5" cy="355.7" r="2.6" fill="#67c1ec"/>
<circle cx="101.9" cy="352.6" r="3.2" fill="#67c1ec"/>
<circle cx="94.3" cy="349.4" r="2.4" fill="#67c1ec"/>
<circle cx="87.7" cy="344.3" r="2.4" fill="#67c1ec"/>
<circle cx="80.2" cy="340.8" r="3" fill="#67c1ec"/>
<circle cx="74.1" cy="335.2" r="2.6" fill="#67c1ec"/>
<circle cx="66.8" cy="331.2" r="2.4" fill="#ecc6d2"/>
<circle cx="60.7" cy="325.7" r="3" fill="#dc98aa"/>
<circle cx="54.8" cy="319.9" r="2.7" fill="#67c1ec"/>
<circle cx="48.9" cy="314" r="3.3" fill="#67c1ec"/>
<circle cx="43.8" cy="307.6" r="3" fill="#67c1ec"/>
<circle cx="38.6" cy="301.2" r="3.3" fill="#67c1ec"/>
<circle cx="33.2" cy="294.9" r="3" fill="#67c1ec"/>
<circle cx="29.5" cy="287.4" r="2.4" fill="#67c1ec"/>
<circle cx="25.4" cy="280.3" r="3.3" fill="#67c1ec"/>
<circle cx="21.3" cy="273.2" r="3.3" fill="#67c1ec"/>
<circle cx="18.6" cy="265.3" r="3" fill="#67c1ec"/>
<circle cx="14.6" cy="258.1" r="3.4" fill="#67c1ec"/>
<circle cx="11.8" cy="250.3" r="3" fill="#67c1ec"/>
<circle cx="10.1" cy="242.2" r="2.9" fill="#67c1ec"/>
<circle cx="8.7" cy="234.1" r="3.2" fill="#67c1ec"/>
<circle cx="6.9" cy="226.1" r="3.8" fill="#67c1ec"/>
<circle cx="6.1" cy="217.9" r="3.4" fill="#67c1ec"/>
<circle cx="5.3" cy="209.7" r="3.8" fill="#67c1ec"/>
<circle cx="4.9" cy="201.5" r="3.7" fill="#67c1ec"/>
<circle cx="4.4" cy="193.3" r="3.2" fill="#67c1ec"/>
<circle cx="5.2" cy="185.2" r="3.5" fill="#67c1ec"/>
<circle cx="6" cy="177" r="3.5" fill="#67c1ec"/>
<circle cx="6.3" cy="168.7" r="3.1" fill="#67c1ec"/>
<circle cx="7.6" cy="160.6" r="3.6" fill="#67c1ec"/>
<circle cx="10.6" cy="152.9" r="3.8" fill="#67c1ec"/>
<circle cx="11.4" cy="144.5" r="3" fill="#ecc6d2"/>
<circle cx="14" cy="136.7" r="3.2" fill="#67c1ec"/>
<circle cx="18.5" cy="129.6" r="3.3" fill="#67c1ec"/>
<circle cx="20.4" cy="121.5" r="3.5" fill="#67c1ec"/>
<circle cx="25.6" cy="114.9" r="3.6" fill="#67c1ec"/>
<circle cx="28.5" cy="107" r="3.3" fill="#67c1ec"/>
<circle cx="33.2" cy="100.2" r="3" fill="#dc98aa"/>
<circle cx="38.4" cy="93.8" r="3.7" fill="#67c1ec"/>
<circle cx="43.2" cy="87.1" r="3" fill="#c9546f"/>
<circle cx="48.2" cy="80.5" r="3" fill="#67c1ec"/>
<circle cx="54.8" cy="75.4" r="3.4" fill="#67c1ec"/>
<circle cx="60.5" cy="69.5" r="3.1" fill="#67c1ec"/>
<circle cx="67.1" cy="64.7" r="3.3" fill="#67c1ec"/>
<circle cx="72.4" cy="58" r="3.2" fill="#67c1ec"/>
<circle cx="80" cy="54.5" r="3.2" fill="#67c1ec"/>
<circle cx="138.6" cy="69.6" r="4.2" fill="#67c1ec"/>
<circle cx="172.4" cy="65.8" r="4.6" fill="#67c1ec"/>
<circle cx="106.8" cy="83" r="4.6" fill="#ecc6d2"/>
<circle cx="80.1" cy="103.9" r="4.2" fill="#67c1ec"/>
<circle cx="59.2" cy="130.6" r="4.2" fill="#67c1ec"/>
<circle cx="46.5" cy="161.9" r="4.6" fill="#ecc6d2"/>
<circle cx="41.4" cy="195.4" r="4.6" fill="#ecc6d2"/>
<circle cx="205.8" cy="69.6" r="4.5" fill="#ecc6d2"/>
<circle cx="237.6" cy="83" r="4.5" fill="#67c1ec"/>
<circle cx="264.3" cy="103.4" r="5" fill="#ecc6d2"/>
<circle cx="230.4" cy="117.9" r="7.8" fill="#67c1ec"/>
<circle cx="297.8" cy="161.9" r="7.6" fill="#67c1ec"/>
<circle cx="302.2" cy="195.8" r="7.8" fill="#67c1ec"/>
<circle cx="46.3" cy="229.4" r="4.5" fill="#67c1ec"/>
<circle cx="59" cy="260.7" r="7.4" fill="#ecc6d2"/>
<circle cx="80.1" cy="287.4" r="5" fill="#67c1ec"/>
<circle cx="106.8" cy="308.2" r="5.4" fill="#ecc6d2"/>
<circle cx="139.3" cy="279" r="7.2" fill="#67c1ec"/>
<circle cx="172.4" cy="326" r="5.4" fill="#ecc6d2"/>
<circle cx="297.8" cy="229.4" r="4.5" fill="#67c1ec"/>
<circle cx="284.6" cy="260.7" r="5" fill="#ecc6d2"/>
<circle cx="264.3" cy="287.9" r="4.5" fill="#ecc6d2"/>
<circle cx="236.8" cy="308.2" r="6" fill="#67c1ec"/>
<circle cx="205.8" cy="321" r="5.5" fill="#67c1ec"/>
<circle cx="174.5" cy="192.3" r="8.2" fill="#d9738c"/>
<g font-style="italic" font-weight="bold" font-size="9.3" fill="#111">
<text x="172.5" y="108.9">VRT2-7D</text>
<text x="125" y="120.9">PPD1-2A</text>
<text x="216.5" y="120.9">VRN1-D</text>
<text x="93.5" y="152.9">LHY-7B</text>
<text x="250" y="152.9">WAG2-3A</text>
<text x="259" y="189.4">TaGRP2-4A</text>
<text x="76" y="199.4">TaPRR1-6B</text>
<text x="93.5" y="245.4">TaGI-3B</text>
<text x="250" y="245.4">WCO1-1D</text>
<text x="126" y="278.4">VRN1-B</text>
<text x="214" y="278.4">TaPRR1-6D</text>
<text x="172.5" y="291.4">TaGI-3A</text>
</g>
<text x="177.5" y="206.2" font-size="12.2" fill="#111" font-weight="bold" font-style="italic">VRN1-A</text>
<text x="6.5" y="20.8" font-size="29.5" font-weight="bold">a</text>
<rect x="11.9" y="359.1" width="55.3" height="8.5" fill="url(#lfc)"/>
<text x="39.8" y="366.3" font-size="8.3" text-anchor="middle" stroke="#000" stroke-width="0.3">log2FC</text>
<text x="13.8" y="375.3" font-size="8.2" text-anchor="middle" stroke="#000" stroke-width="0.3">-3</text>
<text x="34.2" y="375.3" font-size="8.2" text-anchor="middle" stroke="#000" stroke-width="0.3">0</text>
<text x="66.8" y="375.3" font-size="8.2" text-anchor="middle" stroke="#000" stroke-width="0.3">6</text>
<text x="307.5" y="357.7" font-size="8.3" text-anchor="middle" stroke="#000" stroke-width="0.3">Outdegree</text>
<g fill="none" stroke="#111" stroke-width="1"><circle cx="296.2" cy="367.7" r="8.2"/><circle cx="312" cy="367.3" r="4.3"/><circle cx="322.4" cy="367" r="2.9"/></g>
<g stroke="#000" stroke-width="0.28">
<text x="360.5" y="20.8" font-size="29.5" font-weight="bold">b</text>
<rect x="393.5" y="29.5" width="141.5" height="135" fill="none" stroke="#000" stroke-width="1.3"/>
<line x1="390.5" y1="32.2" x2="393.5" y2="32.2" stroke="#111" stroke-width="1"/>
<text x="389.3" y="32.2" font-size="7.4" text-anchor="middle" transform="rotate(-90 389.3 32.2)">6e−04</text>
<line x1="390.5" y1="74.6" x2="393.5" y2="74.6" stroke="#111" stroke-width="1"/>
<text x="389.3" y="74.6" font-size="7.4" text-anchor="middle" transform="rotate(-90 389.3 74.6)">4e−04</text>
<line x1="390.5" y1="117" x2="393.5" y2="117" stroke="#111" stroke-width="1"/>
<text x="389.3" y="117" font-size="7.4" text-anchor="middle" transform="rotate(-90 389.3 117)">2e−04</text>
<line x1="390.5" y1="159.4" x2="393.5" y2="159.4" stroke="#111" stroke-width="1"/>
<text x="389.3" y="159.4" font-size="7.4" text-anchor="middle" transform="rotate(-90 389.3 159.4)">0</text>
<text x="379.2" y="92" font-size="8.2" text-anchor="middle" transform="rotate(-90 379.2 92)">density</text>
<line x1="398.5" y1="164.5" x2="398.5" y2="167.5" stroke="#111" stroke-width="1"/>
<text x="398.5" y="175.5" font-size="7.6" text-anchor="middle">-3 kb</text>
<line x1="463.2" y1="164.5" x2="463.2" y2="167.5" stroke="#111" stroke-width="1"/>
<text x="463.2" y="175.5" font-size="7.6" text-anchor="middle">TSS</text>
<line x1="528.7" y1="164.5" x2="528.7" y2="167.5" stroke="#111" stroke-width="1"/>
<text x="528.7" y="175.5" font-size="7.6" text-anchor="middle">3 kb</text>
<path d="M399 153.8C399.6 152.9 401.1 149.8 402.8 148.8C404.4 147.7 407.1 147.6 409.0 147.5C410.9 147.4 412.1 148.9 414.0 148.2C415.9 147.6 418.2 144.4 420.2 143.8C422.3 143.1 424.2 145.1 426.5 144.2C428.8 143.4 431.7 140.1 434.0 138.8C436.3 137.4 438.4 138.1 440.2 136.2C442.1 134.4 443.8 131.9 445.2 127.5C446.7 123.1 447.8 118.8 449.0 110.0C450.2 101.2 451.7 85.4 452.8 75.0C453.8 64.6 454.5 54.0 455.2 47.5C456.0 41.0 456.4 35.3 457.2 35.8C458.1 36.2 459.2 43.9 460.2 50.0C461.3 56.1 462.5 70.4 463.5 72.5C464.5 74.6 465.1 65.3 466.0 62.5C466.9 59.7 468.0 54.7 469.0 55.5C470.0 56.3 471.0 60.9 472.0 67.5C473.0 74.1 474.1 86.2 475.2 95.0C476.4 103.8 477.1 113.8 479.0 120.0C480.9 126.2 484.4 130.1 486.5 132.5C488.6 134.9 490.1 133.2 491.9 134.2C493.7 135.2 495.1 137.4 497.2 138.6C499.3 139.8 502.0 140.3 504.4 141.3C506.8 142.3 509.2 143.9 511.6 144.5C514.0 145.1 516.9 144.9 518.7 144.9C520.5 144.9 521.2 144.2 522.3 144.5C523.3 144.8 524.0 145.4 525.0 146.7C526.0 147.9 527.5 151.1 528.0 152.0" fill="none" stroke="#e0612a" stroke-width="1.5" stroke-linejoin="round"/>
<text x="533.5" y="20.2" font-size="29.5" font-weight="bold">c</text>
<line x1="569" y1="29.2" x2="569" y2="163.6" stroke="#000" stroke-width="1.5"/>
<line x1="565.5" y1="29.7" x2="569" y2="29.7" stroke="#000" stroke-width="1.3"/>
<text x="563.4" y="32.6" font-size="8" text-anchor="end" stroke="#000" stroke-width="0.3">2</text>
<line x1="565.5" y1="96.3" x2="569" y2="96.3" stroke="#000" stroke-width="1.3"/>
<text x="563.4" y="99.2" font-size="8" text-anchor="end" stroke="#000" stroke-width="0.3">1</text>
<line x1="565.5" y1="163" x2="569" y2="163" stroke="#000" stroke-width="1.3"/>
<text x="563.4" y="165.9" font-size="8" text-anchor="end" stroke="#000" stroke-width="0.3">0</text>
<text x="556.5" y="99.3" font-size="7.2" text-anchor="middle" font-weight="bold" transform="rotate(-90 556.5 99.3)">bits</text>
<text transform="translate(569.25 163.00) scale(0.01787 0.00679)" x="0" y="0" font-size="1000" font-weight="bold" stroke="none" fill="#2c86c6">A</text>
<text transform="translate(569.25 158.33) scale(0.02263 0.00969)" x="-20" y="0" font-size="1000" font-weight="bold" stroke="none" fill="#ef7e22">T</text>
<text transform="translate(569.25 151.66) scale(0.02016 0.01507)" x="-40" y="-10" font-size="1000" font-weight="bold" stroke="none" fill="#1414c8">C</text>
<line x1="573.2" y1="141.0" x2="578.2" y2="141.0" stroke="#888" stroke-width="1"/>
<text x="575.7" y="171" font-size="6.8" text-anchor="middle" dominant-baseline="central" transform="rotate(-90 575.7 171)">1</text>
<text transform="translate(581.85 163.00) scale(0.02016 0.00283)" x="-40" y="-10" font-size="1000" font-weight="bold" stroke="none" fill="#1414c8">C</text>
<text transform="translate(581.85 161.00) scale(0.02263 0.00969)" x="-20" y="0" font-size="1000" font-weight="bold" stroke="none" fill="#ef7e22">T</text>
<text transform="translate(581.85 154.33) scale(0.01787 0.11440)" x="0" y="0" font-size="1000" font-weight="bold" stroke="none" fill="#2c86c6">A</text>
<line x1="585.8" y1="75.6" x2="590.8" y2="75.6" stroke="#888" stroke-width="1"/>
<text x="588.3" y="171" font-size="6.8" text-anchor="middle" dominant-baseline="central" transform="rotate(-90 588.3 171)">2</text>
<text transform="translate(594.45 163.00) scale(0.02263 0.00776)" x="-20" y="0" font-size="1000" font-weight="bold" stroke="none" fill="#ef7e22">T</text>
<text transform="translate(594.45 157.66) scale(0.01870 0.01131)" x="-40" y="-10" font-size="1000" font-weight="bold" stroke="none" fill="#f5a60f">G</text>
<text transform="translate(594.45 149.66) scale(0.01787 0.07271)" x="0" y="0" font-size="1000" font-weight="bold" stroke="none" fill="#2c86c6">A</text>
<line x1="598.4" y1="99.6" x2="603.4" y2="99.6" stroke="#888" stroke-width="1"/>
<text x="600.9" y="171" font-size="6.8" text-anchor="middle" dominant-baseline="central" transform="rotate(-90 600.9 171)">3</text>
<text transform="translate(607.05 163.00) scale(0.01787 0.17644)" x="0" y="0" font-size="1000" font-weight="bold" stroke="none" fill="#2c86c6">A</text>
<line x1="611.0" y1="41.6" x2="616.0" y2="41.6" stroke="#888" stroke-width="1"/>
<text x="613.5" y="171" font-size="6.8" text-anchor="middle" dominant-baseline="central" transform="rotate(-90 613.5 171)">4</text>
<text transform="translate(619.65 163.00) scale(0.02263 0.01357)" x="-20" y="0" font-size="1000" font-weight="bold" stroke="none" fill="#ef7e22">T</text>
<text transform="translate(619.65 153.66) scale(0.01787 0.12215)" x="0" y="0" font-size="1000" font-weight="bold" stroke="none" fill="#2c86c6">A</text>
<line x1="623.6" y1="69.6" x2="628.6" y2="69.6" stroke="#888" stroke-width="1"/>
<text x="626.1" y="171" font-size="6.8" text-anchor="middle" dominant-baseline="central" transform="rotate(-90 626.1 171)">5</text>
<text transform="translate(632.25 163.00) scale(0.02263 0.00485)" x="-20" y="0" font-size="1000" font-weight="bold" stroke="none" fill="#ef7e22">T</text>
<text transform="translate(632.25 159.66) scale(0.01870 0.01131)" x="-40" y="-10" font-size="1000" font-weight="bold" stroke="none" fill="#f5a60f">G</text>
<text transform="translate(632.25 151.66) scale(0.01787 0.09210)" x="0" y="0" font-size="1000" font-weight="bold" stroke="none" fill="#2c86c6">A</text>
<line x1="636.2" y1="88.3" x2="641.2" y2="88.3" stroke="#888" stroke-width="1"/>
<text x="638.7" y="171" font-size="6.8" text-anchor="middle" dominant-baseline="central" transform="rotate(-90 638.7 171)">6</text>
<text transform="translate(644.85 163.00) scale(0.01870 0.00754)" x="-40" y="-10" font-size="1000" font-weight="bold" stroke="none" fill="#f5a60f">G</text>
<text transform="translate(644.85 157.66) scale(0.02263 0.01357)" x="-20" y="0" font-size="1000" font-weight="bold" stroke="none" fill="#ef7e22">T</text>
<text transform="translate(644.85 148.33) scale(0.01787 0.03393)" x="0" y="0" font-size="1000" font-weight="bold" stroke="none" fill="#2c86c6">A</text>
<line x1="648.8" y1="125.0" x2="653.8" y2="125.0" stroke="#888" stroke-width="1"/>
<text x="651.3" y="171" font-size="6.8" text-anchor="middle" dominant-baseline="central" transform="rotate(-90 651.3 171)">7</text>
<text transform="translate(657.45 163.00) scale(0.01870 0.03957)" x="-40" y="-10" font-size="1000" font-weight="bold" stroke="none" fill="#f5a60f">G</text>
<text transform="translate(657.45 134.99) scale(0.01787 0.05526)" x="0" y="0" font-size="1000" font-weight="bold" stroke="none" fill="#2c86c6">A</text>
<line x1="661.4" y1="97.0" x2="666.4" y2="97.0" stroke="#888" stroke-width="1"/>
<text x="663.9" y="171" font-size="6.8" text-anchor="middle" dominant-baseline="central" transform="rotate(-90 663.9 171)">8</text>
<text transform="translate(670.05 163.00) scale(0.02016 0.00283)" x="-40" y="-10" font-size="1000" font-weight="bold" stroke="none" fill="#1414c8">C</text>
<text transform="translate(670.05 161.00) scale(0.01787 0.01454)" x="0" y="0" font-size="1000" font-weight="bold" stroke="none" fill="#2c86c6">A</text>
<text transform="translate(670.05 150.99) scale(0.01870 0.07160)" x="-40" y="-10" font-size="1000" font-weight="bold" stroke="none" fill="#f5a60f">G</text>
<line x1="674.0" y1="100.3" x2="679.0" y2="100.3" stroke="#888" stroke-width="1"/>
<text x="676.5" y="171" font-size="6.8" text-anchor="middle" dominant-baseline="central" transform="rotate(-90 676.5 171)">9</text>
<text transform="translate(682.65 163.00) scale(0.02016 0.00283)" x="-40" y="-10" font-size="1000" font-weight="bold" stroke="none" fill="#1414c8">C</text>
<text transform="translate(682.65 161.00) scale(0.02263 0.00485)" x="-20" y="0" font-size="1000" font-weight="bold" stroke="none" fill="#ef7e22">T</text>
<text transform="translate(682.65 157.66) scale(0.01870 0.00659)" x="-40" y="-10" font-size="1000" font-weight="bold" stroke="none" fill="#f5a60f">G</text>
<text transform="translate(682.65 152.99) scale(0.01787 0.08628)" x="0" y="0" font-size="1000" font-weight="bold" stroke="none" fill="#2c86c6">A</text>
<line x1="686.6" y1="93.6" x2="691.6" y2="93.6" stroke="#888" stroke-width="1"/>
<text x="689.1" y="171" font-size="6.8" text-anchor="middle" dominant-baseline="central" transform="rotate(-90 689.1 171)">10</text>
<text transform="translate(695.25 163.00) scale(0.02016 0.00188)" x="-40" y="-10" font-size="1000" font-weight="bold" stroke="none" fill="#1414c8">C</text>
<text transform="translate(695.25 161.67) scale(0.01870 0.00942)" x="-40" y="-10" font-size="1000" font-weight="bold" stroke="none" fill="#f5a60f">G</text>
<text transform="translate(695.25 155.00) scale(0.01787 0.11925)" x="0" y="0" font-size="1000" font-weight="bold" stroke="none" fill="#2c86c6">A</text>
<line x1="699.2" y1="73.0" x2="704.2" y2="73.0" stroke="#888" stroke-width="1"/>
<text x="701.7" y="171" font-size="6.8" text-anchor="middle" dominant-baseline="central" transform="rotate(-90 701.7 171)">11</text>
<text x="359.5" y="199.6" font-size="29.5" font-weight="bold">d</text>
<rect x="392.8" y="194.3" width="8.7" height="8.7" fill="#8b2d8b" stroke="#111" stroke-width="0.8"/>
<rect x="392.8" y="205.8" width="8.7" height="8.7" fill="#1f9bd7" stroke="#111" stroke-width="0.8"/>
<text x="410.3" y="201.3" font-size="7.3">loop connected</text>
<text x="410.3" y="212.2" font-size="7.3">without&#160; loop</text>
<rect x="393.5" y="216.5" width="143" height="156" fill="none" stroke="#000" stroke-width="1.3"/>
<line x1="390.5" y1="372.5" x2="393.5" y2="372.5" stroke="#111" stroke-width="1"/>
<text x="388.6" y="372.5" font-size="7.6" text-anchor="middle" transform="rotate(-90 388.6 372.5)">0</text>
<line x1="390.5" y1="340.9" x2="393.5" y2="340.9" stroke="#111" stroke-width="1"/>
<text x="388.6" y="340.9" font-size="7.6" text-anchor="middle" transform="rotate(-90 388.6 340.9)">1000</text>
<line x1="390.5" y1="309.4" x2="393.5" y2="309.4" stroke="#111" stroke-width="1"/>
<text x="388.6" y="309.4" font-size="7.6" text-anchor="middle" transform="rotate(-90 388.6 309.4)">2000</text>
<line x1="390.5" y1="277.9" x2="393.5" y2="277.9" stroke="#111" stroke-width="1"/>
<text x="388.6" y="277.9" font-size="7.6" text-anchor="middle" transform="rotate(-90 388.6 277.9)">3000</text>
<line x1="390.5" y1="246.3" x2="393.5" y2="246.3" stroke="#111" stroke-width="1"/>
<text x="388.6" y="246.3" font-size="7.6" text-anchor="middle" transform="rotate(-90 388.6 246.3)">4000</text>
<text x="379" y="293.7" font-size="8.7" text-anchor="middle" transform="rotate(-90 379 293.7)">Number of genes</text>
<rect x="417.75" y="344.14" width="37.50" height="28.36" fill="#1f9bd7" stroke="#000" stroke-width="1.1"/>
<rect x="417.75" y="222.16" width="37.50" height="121.97" fill="#8b2d8b" stroke="#000" stroke-width="1.1"/>
<text x="436.5" y="362.3" font-size="7.8" fill="#fff" text-anchor="middle" stroke="#fff" stroke-width="0.25">899</text>
<text x="436.5" y="279.1" font-size="7.8" fill="#fff" text-anchor="middle" stroke="#fff" stroke-width="0.25">3866</text>
<line x1="436.50" y1="372.5" x2="436.50" y2="375.5" stroke="#111" stroke-width="1"/>
<text x="436.5" y="382.6" font-size="8.8" text-anchor="middle">Up</text>
<rect x="476.00" y="354.83" width="38.00" height="17.67" fill="#1f9bd7" stroke="#000" stroke-width="1.1"/>
<rect x="476.00" y="238.57" width="38.00" height="116.26" fill="#8b2d8b" stroke="#000" stroke-width="1.1"/>
<text x="495" y="366.6" font-size="7.8" fill="#fff" text-anchor="middle" stroke="#fff" stroke-width="0.25">560</text>
<text x="495" y="295.3" font-size="7.8" fill="#fff" text-anchor="middle" stroke="#fff" stroke-width="0.25">3685</text>
<line x1="495.00" y1="372.5" x2="495.00" y2="375.5" stroke="#111" stroke-width="1"/>
<text x="495" y="382.6" font-size="8.8" text-anchor="middle">Down</text>
<text x="533.5" y="200.8" font-size="29.5" font-weight="bold">e</text>
<rect x="569" y="194.4" width="8.7" height="8.5" fill="#d376b3" stroke="#111" stroke-width="0.8"/>
<text x="580" y="201.6" font-size="7.6">up</text>
<rect x="611" y="194.4" width="8.7" height="8.5" fill="#f0822a" stroke="#111" stroke-width="0.8"/>
<text x="622" y="201.6" font-size="7.6">down</text>
<rect x="665" y="194.4" width="8.7" height="8.5" fill="#1e6fae" stroke="#111" stroke-width="0.8"/>
<text x="676" y="201.6" font-size="7.6">stable</text>
<rect x="569" y="205.3" width="8.7" height="8.5" fill="#9d68b5" stroke="#111" stroke-width="0.8"/>
<text x="580" y="212.5" font-size="7.6">appear</text>
<rect x="611" y="205.3" width="8.7" height="8.5" fill="#3aa846" stroke="#111" stroke-width="0.8"/>
<text x="622" y="212.5" font-size="7.6">disappear</text>
<path d="M712 216.5H569.5V370.5H712" fill="none" stroke="#000" stroke-width="1.3"/>
<line x1="566.9" y1="370.6" x2="569.9" y2="370.6" stroke="#111" stroke-width="1"/>
<text x="564.8" y="370.6" font-size="7.6" text-anchor="middle" transform="rotate(-90 564.8 370.6)">0</text>
<line x1="566.9" y1="331.4" x2="569.9" y2="331.4" stroke="#111" stroke-width="1"/>
<text x="564.8" y="331.4" font-size="7.6" text-anchor="middle" transform="rotate(-90 564.8 331.4)">1000</text>
<line x1="566.9" y1="292.2" x2="569.9" y2="292.2" stroke="#111" stroke-width="1"/>
<text x="564.8" y="292.2" font-size="7.6" text-anchor="middle" transform="rotate(-90 564.8 292.2)">2000</text>
<line x1="566.9" y1="253.0" x2="569.9" y2="253.0" stroke="#111" stroke-width="1"/>
<text x="564.8" y="253.0" font-size="7.6" text-anchor="middle" transform="rotate(-90 564.8 253.0)">3000</text>
<text x="556" y="293.4" font-size="8.7" text-anchor="middle" transform="rotate(-90 556 293.4)">Number of genes</text>
<rect x="590.50" y="314.94" width="37.90" height="55.66" fill="#1e6fae" stroke="#000" stroke-width="1.1"/>
<rect x="590.50" y="311.13" width="37.90" height="3.80" fill="#3aa846" stroke="#000" stroke-width="1.1"/>
<rect x="590.50" y="276.25" width="37.90" height="34.89" fill="#f0822a" stroke="#000" stroke-width="1.1"/>
<rect x="590.50" y="270.52" width="37.90" height="5.72" fill="#9d68b5" stroke="#000" stroke-width="1.1"/>
<rect x="590.50" y="219.05" width="37.90" height="51.47" fill="#d376b3" stroke="#000" stroke-width="1.1"/>
<text x="609.5" y="340.8" font-size="7.8" fill="#fff" text-anchor="middle" stroke="#fff" stroke-width="0.25">1420</text>
<text x="609.5" y="315.3" font-size="7.8" fill="#fff" text-anchor="middle" stroke="#fff" stroke-width="0.25">97</text>
<text x="609.5" y="294.7" font-size="7.8" fill="#fff" text-anchor="middle" stroke="#fff" stroke-width="0.25">890</text>
<text x="609.5" y="277.1" font-size="7.8" fill="#fff" text-anchor="middle" stroke="#fff" stroke-width="0.25">146</text>
<text x="609.5" y="246.2" font-size="7.8" fill="#fff" text-anchor="middle" stroke="#fff" stroke-width="0.25">1313</text>
<line x1="609.45" y1="370.6" x2="609.45" y2="373.6" stroke="#111" stroke-width="1"/>
<text x="609.5" y="382.2" font-size="9.4" text-anchor="middle">Up</text>
<rect x="651.90" y="318.93" width="37.60" height="51.67" fill="#1e6fae" stroke="#000" stroke-width="1.1"/>
<rect x="651.90" y="314.78" width="37.60" height="4.16" fill="#3aa846" stroke="#000" stroke-width="1.1"/>
<rect x="651.90" y="285.65" width="37.60" height="29.13" fill="#f0822a" stroke="#000" stroke-width="1.1"/>
<rect x="651.90" y="279.73" width="37.60" height="5.92" fill="#9d68b5" stroke="#000" stroke-width="1.1"/>
<rect x="651.90" y="226.15" width="37.60" height="53.59" fill="#d376b3" stroke="#000" stroke-width="1.1"/>
<text x="670.7" y="344.7" font-size="7.8" fill="#fff" text-anchor="middle" stroke="#fff" stroke-width="0.25">1318</text>
<text x="670.7" y="319.7" font-size="7.8" fill="#fff" text-anchor="middle" stroke="#fff" stroke-width="0.25">106</text>
<text x="670.7" y="301.2" font-size="7.8" fill="#fff" text-anchor="middle" stroke="#fff" stroke-width="0.25">743</text>
<text x="670.7" y="285.3" font-size="7.8" fill="#fff" text-anchor="middle" stroke="#fff" stroke-width="0.25">151</text>
<text x="670.7" y="252.7" font-size="7.8" fill="#fff" text-anchor="middle" stroke="#fff" stroke-width="0.25">1367</text>
<line x1="670.70" y1="370.6" x2="670.70" y2="373.6" stroke="#111" stroke-width="1"/>
<text x="670.7" y="382.2" font-size="9.4" text-anchor="middle">Down</text>
</g>
<defs><radialGradient id="gf" cx="177" cy="577" r="172" gradientUnits="userSpaceOnUse"><stop offset="0" stop-color="#f4f4f5"/><stop offset="0.6" stop-color="#f9f9fa"/><stop offset="1" stop-color="#fefefe"/></radialGradient><radialGradient id="gg" cx="532" cy="578" r="174" gradientUnits="userSpaceOnUse"><stop offset="0" stop-color="#ececf2"/><stop offset="0.55" stop-color="#f4f4f7"/><stop offset="1" stop-color="#fcfcfd"/></radialGradient></defs>
<circle cx="177" cy="577" r="171" fill="url(#gf)"/>
<path d="M80 483L320 531M174 524L246 649M314 526L181 639M71 598L102 496M256 584L252 704M190 443L229 539M140 544L167 434M216 727L85 687M151 681L132 463M212 696L52 488M246 522L237 607M227 642L179 691M263 579L147 654M212 501L271 613M134 429L194 528M177 526L279 664M143 615L142 535M207 641L62 514M255 540L138 655M117 568L262 479M193 526L255 706M274 639L145 721M119 668L166 495M153 630L114 595M152 515L221 610M270 569L180 652M95 522L267 548M227 595L81 614M245 468L324 541M135 532L272 561M225 642L79 570M331 576L113 651M76 584L207 502M103 628L25 546M277 551L178 663M290 648L168 719M92 678L141 458M131 501L302 575M152 707L55 559M145 692L135 473M253 583L159 697M61 604L231 453M103 682L91 469M93 693L147 457M281 561L102 652M252 707L78 561M131 458L245 582M200 458L266 609M93 494L300 547M272 594L240 678M200 692L124 568M123 587L132 531M148 641L126 591M65 602L124 477M181 626L109 514M166 638L38 581M96 659L119 590M70 546L166 425M234 453L292 605M100 660L67 579M288 547L121 644M225 539L286 559M89 500L170 432M125 629L112 530M327 551L241 710M49 489L185 475M43 656L95 516M163 638L62 559M52 623L77 482M256 584L157 726M193 500L239 554M291 569L227 664M98 475L233 549M184 471L257 546M148 672L94 548M175 524L253 588M38 617L236 486M272 586L109 665M151 479L324 576M71 670L119 537" stroke="#ececec" stroke-width="0.35" fill="none"/>
<path d="M299.2 579.4h0M212.7 450.3h0M334.2 611.2h0M292.8 540.9h0M226.5 521.5h0M205 523.7h0M37.7 665.9h0M292.5 573.3h0M141.7 671.9h0M184.4 533.6h0M290.2 615.5h0M221.3 658.3h0M169.8 735.6h0M300.9 661h0M41.8 543.5h0M237.8 681.5h0M76.5 544.3h0M103.2 638.9h0M279.4 572.6h0M89.1 650.3h0M102.3 609.9h0M300.1 505.9h0M171.8 589.7h0M234.6 608.4h0M14.6 616.2h0M223.1 738.7h0M232.1 496.4h0M61.1 495h0M108.8 637.4h0M32.6 575.9h0M185.2 710.8h0M325.6 624.4h0M219 448.2h0M159.4 717.5h0M187.9 623.9h0M106.3 503.4h0M223.4 413.1h0M289.2 475.3h0M282.5 690.9h0M293.6 690.5h0M51.4 636h0M324.5 570.9h0M322.9 629.5h0M25.2 614.5h0M145.1 541.4h0M112.3 434.1h0M243 657.8h0M288.4 550.1h0M85.8 679.5h0M198.2 673h0M98 559.6h0M300.9 584.1h0M210.7 425.3h0M252.1 702.1h0M210.5 598.4h0M267.5 700.6h0M123.1 597.3h0M49.2 529.7h0M151.3 649.2h0M225.3 726.6h0M21.3 596.5h0M127.5 527h0M106.4 638.2h0M154.8 486.1h0M257.4 648.6h0M319.9 558.4h0M235.2 552.3h0M182.2 586h0M203 502h0M186.2 441.7h0M174.1 742.7h0M113.5 709.4h0M290.2 574.1h0M20.6 527.5h0M328.3 607h0M132.7 529.8h0M36.2 506.2h0M183.4 503h0M49.6 656.7h0M91.4 556.5h0M287.5 636.8h0M311.2 511.7h0M309.3 487.4h0M280.1 668.7h0M161.8 591.9h0M271.7 502.3h0M216.6 566h0M198.3 506h0M80.9 506.3h0M71.4 601.5h0M289 550.3h0M36.5 564.6h0M220.4 615.3h0M176.5 746.9h0M274.6 649.3h0M82.1 455.7h0M56.4 690.1h0M235.1 549.6h0M6.1 584.3h0M199.3 655.9h0M309.4 511.9h0M259.9 434.2h0M109.6 676h0M41.1 491.7h0M198.4 478h0M248.2 480.6h0M308.1 532.6h0M97.5 473.2h0M280.4 533.3h0M170.8 532.9h0M215.9 426.3h0M62.6 493.7h0M131.5 708.8h0M148.1 429.5h0M246.6 541.3h0M79.8 483.5h0M244.5 713.9h0M77.3 556.9h0M231.5 441.4h0M109.2 669.4h0M34.5 639.2h0M240.9 493.6h0M74 590.3h0M290.3 681.8h0M306.2 633.5h0M345.3 554.1h0M281.5 695h0M72.9 613.3h0M233.8 696.4h0M238.3 569.5h0M229 537.3h0M317.5 577.4h0M16.4 610.6h0M120.8 688.5h0M150.5 697.5h0M68 507h0M192.4 661.5h0M168.9 432h0M14.9 631.8h0M211.9 623.9h0M223.9 438.4h0M19.4 618.8h0M94.2 433.8h0M181.6 416.9h0M126.2 662.7h0M189.3 741.7h0M280.9 524.7h0M90.8 707.6h0M240.9 720.3h0M175.1 725h0M327.5 640h0M200.8 527.3h0M78.3 534.6h0M339.7 538h0M251.4 485.9h0M253.8 431.8h0M206.1 743.6h0M203 520.8h0M325.9 492.6h0M116.1 609.8h0M58.3 497.8h0M43.7 546.4h0M235.6 679.8h0M291.3 595.5h0M22.8 576.5h0M9 591.9h0M333.3 567h0M156.8 505.8h0M273.3 674.2h0M177.2 680.3h0M321.5 597.4h0M50.5 488.6h0M193.6 713.4h0M240 571.4h0M168.6 407.7h0M283.7 641.4h0M118.3 709.9h0M171.6 612.7h0M87.6 551.9h0M176 492.5h0M83.8 681.6h0M69 612.1h0M315.4 486.3h0M142.4 531.3h0M254.9 430.1h0M302.2 691.4h0M66.9 678.2h0M165.6 735.5h0M117.2 589.9h0M254 617h0M277.4 512.9h0M146.4 574.9h0M162.1 609h0M96.8 492.3h0M146.1 577.8h0M229.4 479.5h0M182.3 613.3h0M161.5 696.8h0M26.1 523.3h0M244.4 458.6h0M83.4 434.2h0M81.5 547.8h0M83.3 692.8h0M114.6 709h0M89.6 668.3h0M219.4 436h0M111.8 466.8h0M277 608.5h0M211 661.4h0M334.3 534.6h0M90.3 704.3h0M71.8 573.4h0M184.1 518.2h0M174.1 681.9h0M137.2 603.7h0M63.6 678.2h0M70.4 571.6h0M330 633.7h0M123.6 611.4h0M55.7 488.8h0M341.9 582.2h0M188.9 674.1h0M302 517.3h0M131.3 680.4h0M24.1 503.6h0M200 462.9h0M265.5 586.9h0M226.9 735h0M312.2 548.5h0M32.2 615.1h0M70.6 465.1h0M68.9 514.3h0M255.3 566.7h0M148.5 447.1h0M231.3 593.3h0M145 725.9h0M217.7 507.2h0M57.4 661.6h0M83.6 602.4h0M173 460.5h0M53.7 630.5h0M124.1 686h0M69.4 669.1h0M34.3 483.9h0M282.1 654.5h0M276.6 445.3h0M176.1 534.3h0M94.6 627.4h0M247.5 670.4h0M58.4 603.1h0M277.7 496.8h0M244.1 562.4h0M196.1 579h0M86.4 472.6h0M255.5 515.2h0M158.2 535.4h0M154.1 524.4h0M221.5 704.6h0M180.1 586h0M131.9 736.6h0M261.1 565.1h0M184 717.4h0M165.4 530h0M239.2 527.5h0M188.6 504.2h0M147.3 720.6h0M114.5 573.7h0M60.6 561.6h0M262.4 615.1h0M255.1 427.4h0M271.8 617.4h0M157.1 612.4h0M60.6 695.1h0M211.2 700.3h0M255 518.3h0M131.3 610.2h0M283.7 496.4h0M169.9 731.9h0M232.7 521.1h0M117.4 417.4h0M311.8 610.2h0M219.4 618.4h0M144.5 732.5h0M224.6 597.7h0M260.2 427.2h0M223.1 425.1h0M121.5 668.5h0M56.3 543h0M143 632h0M317.9 571.2h0M120.9 427.3h0M212.7 662.5h0M167 453.8h0M142.4 620.7h0M34 667.5h0M163.9 724.1h0M169.6 589.7h0M97.2 494.4h0M71.6 479.8h0M55.7 653h0M304.6 526.7h0M157.4 499.5h0M147.9 691.9h0M180.8 585.9h0M112.3 496.5h0M183.5 422.2h0M282 539.6h0M127.4 487.4h0M316.4 670.8h0M186 696.7h0M111.7 729.4h0M116.3 654.5h0M162.9 748.2h0M294.1 633h0M166.8 492.9h0M301.9 540.1h0M142.5 561.3h0M58.3 452.6h0M274.2 672.9h0M176.2 503.5h0M38.8 616.9h0M272.8 608.1h0M224.2 716h0M56.4 668.1h0M65.4 507.5h0M151.8 671.9h0M20.1 575.3h0M187.3 589.1h0M290.1 602.7h0M88.7 635.5h0M147.3 493.8h0M188.4 570.9h0M129.3 566.5h0M22.2 576.5h0M92.8 572.6h0M329.8 501.3h0M219.3 737.3h0M15 570.3h0M307.5 499.6h0M103.2 561.2h0M12.8 537.1h0M263 486.4h0M169.4 599.8h0M57.5 652.9h0M152.1 458.8h0M70 619.9h0M271.5 449h0M69.5 709.6h0M141.2 472h0M277 492.7h0M209 534.5h0M127.8 448.9h0M268.1 546.4h0M317.2 556h0M88.4 471.2h0M240.8 591.1h0M337.7 604.6h0M92.6 608.6h0M67.5 660.5h0M178 712.2h0M275.6 517h0M226.6 475.8h0M168.4 575.7h0M295.3 502.1h0M280.7 599h0M209.7 483.5h0M33.4 552.1h0M95.6 710.9h0M250.2 431.3h0M220.9 436.9h0M189.2 418.5h0M317.2 611.8h0M222.8 741.2h0M241.6 514.7h0M190.6 648.7h0M81.8 686.4h0M280.2 559.1h0M224.9 666.2h0M189 710.5h0M57.8 648.8h0M340 596.6h0M113.4 665.4h0M159 410h0M139.5 418.1h0M239.5 465.7h0M181.5 745.7h0M184.3 727.5h0M122.9 635.4h0M193.2 562.3h0M264.9 600.4h0M196.2 590.5h0M67.9 464.4h0M139 716.8h0M21.7 589.8h0M160.1 700.3h0M190.5 527.9h0M136.3 726.9h0M185 583.4h0M228.4 472.8h0M67 546.8h0M150.3 490.6h0M28.8 648.9h0M35.4 546.3h0M237.4 465.5h0M85.7 567.3h0M179.5 481h0M210.5 531.1h0M114.5 600.3h0M271.9 654.9h0M228.9 679.8h0M262.4 651.2h0M138.9 528.7h0M21.8 519.1h0M66.7 454.8h0M37.2 599.1h0M278 589.2h0M330 598.6h0M150.4 713.4h0M37.1 623.7h0M282.3 653.1h0M241.4 674h0M235.4 690.4h0M129.8 622.6h0M154.2 499.3h0M77.5 607.1h0M82.1 568h0M72.8 450.3h0M323.9 551.8h0M268.9 497h0M153 635.4h0M140.3 536.9h0M47.5 634.8h0M23.6 565.8h0M285 684.5h0M35 671.6h0M210.8 432.2h0M70.4 669.3h0M99 532.1h0M321.1 599.6h0M124.8 737.4h0M47.6 631.8h0M315.8 665.7h0M62.5 623h0M209 557.4h0M93.2 452.5h0M92.2 499.3h0M180.9 716.3h0M336.1 620.3h0M291.8 577.3h0M305.3 671.6h0M270 593.2h0M219.9 441.6h0M77.9 444.4h0M251.8 468.7h0M128.6 635.6h0M205.6 685.5h0M95.4 477.7h0M161.9 739.6h0M187.2 507.8h0M160.8 675h0M315.6 620.5h0M335.1 594h0M148.4 532.9h0M172.7 510.8h0M116.1 675.9h0M223.8 640.2h0M8 562.6h0M81 503.4h0M232.6 710.1h0M130.2 547.6h0M298.3 458.4h0M151.9 669.3h0M218.7 730.7h0M185.9 597.1h0M255.1 676.4h0M95 497h0M233.1 599.6h0M160.2 701.8h0M230.5 559.1h0M159.7 418.1h0M35.5 506.1h0M182.9 443.5h0M194.3 606h0M287.3 686.8h0M222.9 584.7h0M29.2 551.4h0M300.8 640.8h0M281.7 692.1h0M128.8 496.4h0M190.5 660.4h0M131 539.3h0M273.5 666.5h0M300.4 633.6h0M241 558.4h0M108.6 594h0M316.8 626.7h0M219.6 413.7h0M172.8 529.2h0M18.9 568.1h0M62.2 607.4h0M143.7 690.6h0M208.3 518.2h0M169.3 585.6h0M234.4 446.6h0M200 460.2h0M253.1 561.2h0M338.1 631h0M230.2 431h0M225 473.8h0M209 569.9h0M181.9 553.9h0M85.3 491.1h0M170.9 642.3h0M298.3 536.4h0M199.5 740.5h0M109.5 686.8h0M38.9 610.5h0M202.2 696.6h0M275.8 556.1h0M228.5 683.4h0M120.8 699.1h0M113.6 523.7h0M243.4 724.8h0M114.5 436.4h0M127.2 497.9h0M144 646.1h0M44.4 476.1h0M50.5 561.9h0M291.7 451.9h0M111.9 581.3h0M218.8 732.8h0M324.4 625h0M263.2 665.6h0M168.7 489.8h0M269.7 639.6h0M311.7 504.1h0M222.9 494.3h0M120.4 725.3h0M174.2 532.3h0M59.8 701.6h0M205.4 557.4h0M127.5 685.7h0M140.5 464.8h0M240.5 493.6h0M175.6 722.9h0M169.9 636.1h0M87.2 492.9h0M301.5 462.1h0M341.8 586.5h0M27.7 564.7h0M99.8 601.9h0M104.9 650.6h0M70.5 474.2h0M180.3 535.1h0M219 510.5h0M58.9 519.2h0M194.8 727.1h0M147.4 658.1h0M307.3 517.1h0M108.9 439.5h0M35 517.5h0M40.3 615.6h0M236.6 436.7h0M237.6 512.1h0M101.4 646.3h0M78.4 559.1h0M84.2 710.9h0M54 694.7h0M322.6 495.9h0M69.5 640.4h0M51.3 516.3h0M61.9 575.1h0M259 659.8h0M132.9 423.4h0M188.4 581.8h0M159.3 717.8h0M160.5 662.8h0M168.1 645.1h0M138.1 518.6h0M115.1 625.6h0M137.2 495.8h0M156 580.2h0M325 591.1h0M270.1 557.4h0M65.3 657.6h0M60.4 610.5h0M311.8 579.7h0M182.9 470.4h0M306.3 489.1h0M119.7 686.7h0M32.8 618.5h0M181.1 475.7h0M290.9 674.3h0M63.4 457.6h0M257.5 495.6h0M287.4 643.9h0M206.9 588.4h0M21.3 634h0M82.5 637.1h0M165.4 479.8h0M328.6 653.5h0M224.3 452.5h0M149.7 642h0M110.1 567.4h0M132.7 658.4h0M345.7 551.2h0M342.1 551.1h0M238.4 459h0M101.4 649h0M149 427.6h0M70.1 691.3h0M303.4 576.6h0M149.3 427.1h0M113.6 558h0M245.7 623.5h0M143.3 649.9h0M247.9 531.5h0M193.5 615.4h0M32.2 524.3h0M211.1 625.6h0M143 722.7h0M322.7 549.1h0M17.3 575.3h0M321.7 669.1h0M183.4 574.5h0M211 637.7h0M246 444.3h0M173.1 738.1h0M305 662.2h0M21.8 527.9h0M226.4 678.3h0M113.8 434h0M335.2 620.1h0M242 677.7h0M224.8 480h0M170 582.8h0M143.3 424.6h0M134.9 681h0M172.7 452.5h0M74.9 495.9h0M159.3 717.9h0M246.7 698.9h0M45.2 526.4h0M120.3 468.7h0M115.6 419.9h0M211.7 729.7h0M90.9 584.2h0M73.3 637.2h0M107.7 427.9h0M142.1 521.1h0M75.7 689.4h0M34.9 653.2h0M307.8 494.8h0M180.9 581.4h0M235.7 694.6h0M100.8 523.8h0M298.1 647.3h0M260.3 682.4h0M151.9 625.3h0M156.7 556.4h0M152 715.4h0M95.1 602h0M62.5 655.6h0M211.5 735.5h0M136 491.4h0M86.5 465.5h0M250.1 730.4h0M185.3 732.8h0M90.5 469.2h0M289.7 585.8h0M196.9 471.5h0M157.3 549h0M76.7 511.8h0M46.7 560.8h0M243.7 427.8h0M216.1 568.9h0M285.5 470.5h0M230.1 675.3h0M7.8 573.4h0M283.6 487.5h0M290.8 615.6h0M52.5 620.1h0M289 572.2h0M215.4 724.6h0M164.6 537.1h0M67.6 520.8h0M186.1 607h0M134.2 419.2h0M133.4 418.2h0M169.1 593.1h0M140.4 702.1h0M104.8 456h0M286.3 630.5h0M131.9 739.6h0M103.9 698.1h0M201.6 411.5h0M123.5 604.1h0M183 565.6h0M150.8 732.9h0M207.8 414.3h0M31 549.9h0M180.2 638h0M272.1 507.2h0M310.9 471.4h0M262.7 494.3h0M94.2 623.3h0M122.9 586.3h0M186.2 485.2h0M146.9 608.6h0M148.3 649.9h0M141.5 421h0M80.2 658.9h0M57 501.6h0M258.3 458.2h0M168.6 543.1h0M339.8 579.9h0M228.4 447.8h0M274.9 516.5h0M209.9 421.7h0M200.2 578.6h0M53.2 599.4h0M22.3 583.7h0M136.1 499.9h0M345.4 603.2h0M286.6 555.9h0M123.6 432.6h0M206.4 511.3h0M74.5 538.5h0M253.8 507.8h0M166.1 583.5h0M127 499.9h0M194.5 529.3h0M298.3 460.9h0M200.5 436.3h0M61.8 458.2h0M245.5 658.3h0M123.3 428.2h0M169.6 531.2h0M34.7 517.6h0M256.7 624.9h0M192.3 587.4h0M153.3 695.7h0M60.1 454.6h0M253.9 443.7h0M44.4 648.7h0M118.1 420.5h0M247 437.8h0M183.2 483.5h0M237.3 734.7h0M297.9 550h0M151.5 422h0M312.9 613.7h0M339.8 608.6h0M177.5 730.8h0M329.2 595.9h0M191.3 508.7h0M222.2 726h0M170.6 465.6h0M327.3 585.2h0M281.6 609.1h0M241.2 434.2h0M220.3 531.8h0M81.6 514.2h0M159.9 587.3h0M29.5 501.4h0M318.2 547.9h0M187.2 645h0M182.4 525.5h0M203.6 704.5h0M279.7 565.8h0M70.1 483h0M170.8 745.5h0M239.8 538.2h0M174.6 491.2h0M131.2 619.2h0M244.5 490.1h0M297.8 662h0M92.8 553.6h0M169.2 511.7h0M98.2 457.8h0M155.9 691.4h0M59.7 629.9h0M52 603.6h0M315.7 629.7h0M213.5 521.3h0M252.7 576.6h0M315.7 525.9h0M191.7 543.6h0M160.5 497.1h0M144.2 594.6h0M119.1 580.2h0M88.2 491.5h0M67.4 451.3h0M273.3 542.2h0M45.1 624.4h0M270.1 682.2h0M42.6 566.5h0M201.5 699.5h0M5.9 560.4h0M40.4 638.9h0M284.5 591.4h0M101.7 651h0M127.8 724.7h0M165.4 408.6h0M335.9 572.5h0M221.4 561.5h0M133.2 513.2h0M39.9 525.1h0M94.7 485.4h0M261.4 565.5h0M248.2 555.6h0M265.2 647.2h0M282.3 464.6h0M118.4 722h0M175.9 627.8h0M298.4 693.3h0M199.2 510.4h0M291 494.8h0M260.7 448.3h0M95.3 657.2h0M40 475.2h0M294.6 700.9h0M134.7 634.5h0M200.8 745.3h0M211.2 604.2h0M118.9 696.6h0M91.6 644.5h0M158.9 731h0M329.8 524.2h0M201.5 432.5h0M47.5 482.4h0M288.6 459.8h0M188.8 502.9h0M220 594.1h0M21.8 600.6h0M37.1 527.5h0M259.6 516.5h0M49.4 565.6h0M26.9 564.9h0M137.9 665.2h0M271.1 650.7h0M90.4 562.2h0M203.4 555.6h0M15.7 544.9h0M220.9 569.8h0M140.4 530.9h0M324.2 503.7h0M64.4 621.2h0M41 532.6h0M247.8 717.2h0M241.7 662.3h0M163.1 473.6h0M260.3 721h0M271.7 708.2h0M284.6 671.7h0M336.2 518h0M253.4 484.7h0M171.1 476.7h0M216.9 600.9h0M39.3 490.8h0M257.4 435h0M316.3 505.8h0M344.5 582h0M239 560.3h0M160.3 663.7h0M253.2 717.1h0M234.2 734.6h0M162.7 429.1h0M278.8 693.3h0M160.3 650.8h0M116.5 514h0M170.5 471.6h0M144.3 613.9h0M206.8 546.9h0M269.1 649.8h0M338.6 572.2h0M296.4 480h0M319.1 668.5h0M171.7 477.8h0M158.2 630.2h0M287.6 542.8h0M112.9 532.1h0M31.8 561.1h0M117.9 716.8h0M130 706.1h0M294 700.1h0M114.2 657.3h0M207.6 536.1h0M6 578.8h0M93.5 704.6h0M275.6 652h0M138.8 539.9h0M204.3 655.8h0M315.3 560.2h0M87.6 636.2h0M225.6 418.5h0M179.5 454.4h0M87.2 717.2h0M263.5 454.9h0M102.9 699.5h0M303.4 592.2h0M202.4 556.9h0M78.8 638.1h0M78 687h0M239 688h0M115 564.1h0M53.6 515.7h0M64.4 612.8h0M180.3 707.6h0M198.9 554h0M149.7 703.1h0M227.3 585.2h0M159.7 597.8h0M334.4 555.4h0M270 454h0M96.3 580.3h0M144.2 623h0M114.8 581.3h0M119.1 417.1h0M189 426.6h0M313.4 579.5h0M317.1 623h0M144.8 575.2h0M80.4 697.5h0M81.6 475.9h0M316.6 502.2h0M201.1 714.5h0M116.8 440.2h0M27.1 544.3h0M84 603.1h0M60.1 505.6h0M252.7 719.3h0M210.2 485.6h0M310.2 603.4h0M157.5 489.2h0M150 655h0M83.3 662.9h0M225.1 565.8h0M346.5 583.4h0M165.2 631.4h0M255.9 614.4h0M267 460.7h0M275.1 450.5h0M228.8 534.8h0M294.9 688h0M57.3 458h0M115.9 584.9h0M100.9 628.3h0M253.9 452.1h0M76.1 627.8h0M161.1 409.4h0M180 526.1h0M270.9 632.2h0M348 580.3h0M138.4 735.4h0M90.7 588.3h0M13.6 606.8h0M343.6 588.7h0M156.9 557.6h0M48.6 516.3h0M303.8 551.9h0M210.1 548.5h0M140.6 631.4h0M146.1 668.1h0M48.5 471.8h0M221.1 655.8h0M297.1 693.5h0M333 507.3h0M215.6 437.2h0M129.5 599.6h0M27.7 560.8h0M195.2 552.6h0M324.7 654.1h0M188.6 520.9h0M99.5 507.1h0M178.9 447.4h0M215.8 686.1h0M301 580.2h0M338.3 549.3h0M262 429.2h0M131.3 429.1h0M37.1 665.6h0M136.2 427.3h0M203 640.1h0M198.9 673.1h0M125.7 610.5h0M67.6 675.7h0M312.5 501.5h0M240.3 614.1h0M46.2 527.2h0M179.9 505.7h0M220 524.6h0M149.4 598h0M243.7 617.8h0M69.5 636.7h0M55.8 559.6h0M214 581.1h0M87.9 628.8h0M304.4 644.1h0M210.6 612.2h0M143.9 668.2h0M21.7 643.4h0M196 439.5h0M326 522.3h0M193.9 576.1h0M101.3 559.4h0M107.2 446h0M346 583.9h0M101.4 720.1h0M196.7 434.4h0M109.2 676.5h0M330.9 612.2h0M66.6 445.6h0M30.6 487h0M291.4 450h0M80.2 448.6h0M65.7 652.4h0M186.8 731.6h0M109.4 604.3h0M83.5 670.3h0M201 697h0M141 596.6h0M228.1 486.7h0M206.5 615.4h0M14.9 540.7h0M106.4 636.1h0M130.3 513.9h0M81.4 541.1h0M47 637.9h0M138.4 699.4h0M18.1 515.8h0M27.5 521.9h0M242.6 424.7h0M202.9 620.4h0M313.3 655h0M119.7 529.9h0M132.2 536.5h0M32 500.9h0M236.7 428.4h0M281.1 695.9h0M206 468.1h0M81.4 443.9h0M318.2 562.8h0M186 653.9h0M9.6 546.4h0M129.2 489.6h0M44.4 568.2h0M152.7 712.1h0M231.3 678.2h0M138.4 473.3h0M204.1 471.7h0M169.2 407h0M195.3 673.4h0M38.7 645.3h0M311 540.8h0M35.7 523.2h0M151.7 515.2h0M113.3 449.4h0M33.1 501.9h0M213.2 580.3h0M183.5 518.7h0M227.4 435.6h0M246.9 463.4h0M329.4 580.5h0M99.7 639.2h0M17.2 562.7h0M61.7 465.3h0M185 729.5h0M278.8 688.6h0M141.5 537.5h0M263.2 570.9h0M238.3 582.8h0M10.3 577.9h0M208.4 491.6h0M312 509.8h0M37.9 656.3h0M78 531.5h0M44.9 487.5h0M96.8 685.9h0M218.9 554.2h0M208 592.4h0M36.2 531.7h0M82.4 488.7h0M144.5 455.3h0M120.5 526.9h0M315.6 564.8h0M190.8 586.7h0M30.3 487.2h0M119.5 707.5h0M278.6 513.7h0M78.5 508.5h0M193.6 535.6h0M209.4 634h0M23.6 522.4h0M120.5 515.2h0M135.7 732.9h0M186.4 481.5h0M263.8 528h0M74.8 446.7h0M157.5 687.2h0M226.9 556.1h0M256.4 494.2h0M185.6 602.4h0M114 558.3h0M266.2 431.5h0M169.2 571.8h0M36.1 487.9h0M53.1 473.4h0M97.9 656.3h0M113.8 596.7h0M11.1 614.9h0M279.4 457h0M67.7 471.2h0M51.4 567.8h0M190 746.1h0M234.3 433.9h0M14.1 583.5h0M264.7 543.3h0M92.7 520.2h0M292.4 689.1h0M268.6 495.8h0M234.1 517.8h0M147.3 602.9h0M239.1 562.1h0M114.8 441.5h0M140.2 741.1h0M113 551.6h0M311.1 605.1h0M79.3 640h0M265.8 591.5h0M196.4 616.8h0M11.9 571.7h0M302.4 675.3h0M212.6 622.8h0M120 453.4h0M103.1 656.7h0M331.8 612.3h0M147.6 446.3h0M295.3 487.2h0M252.2 624.8h0M339.5 520.9h0M19.8 624.8h0M238.1 731.4h0M249 731.8h0M134.3 505.4h0M162.8 502.1h0M29.7 502h0M55.6 515.1h0M108.8 516.5h0M140.6 666.7h0M122.3 447h0M71.1 455.2h0M284.8 519h0M252.7 485.9h0M20.8 552.8h0M285.5 509.3h0M215.5 679.5h0M331.8 574.9h0M300.1 486.4h0M241.1 490.4h0M109.4 636.6h0M141.6 493.3h0M194.6 723.6h0M217.9 668h0M51.6 635.3h0M325.2 508.1h0M245.6 426.2h0M259.4 612.3h0M154.5 530.9h0M73.3 702.3h0M225.1 668.2h0M334.1 628.6h0M245.1 602.3h0M39.5 663.8h0M175.5 426.7h0M68.8 446.6h0M190.2 723.3h0M190 432.6h0M226.1 725.6h0M277 568.7h0M128.1 546.1h0M136.1 423.5h0M330 575.3h0M208.9 701h0M166.6 657.2h0M18.8 553.2h0M279.6 554.4h0M300.3 687.6h0M78.4 687.8h0M110.6 477.8h0M204.5 412.4h0M185.4 493.1h0M233.8 512.9h0M271.4 436.1h0M306.2 464.6h0M136.3 458.7h0M40.8 569.2h0M49.6 464h0M231.9 434.5h0M254.4 475.7h0M86.8 601.5h0M223.2 417h0M334.3 641.9h0M344.4 604h0M228.1 455.6h0M169.8 683.5h0M294.9 625.7h0M328.8 590.2h0M54.3 498.6h0M316.4 649.7h0M47.3 561.8h0M26.7 495.2h0M243.1 615.2h0M190.6 730.3h0M213.5 662h0M22.9 586.4h0M188.6 457.1h0M324.5 505.8h0M128.1 475.4h0M120.3 563h0M201.2 450.2h0M103.3 522.8h0M141 417.5h0M315.6 615h0M204.8 693.5h0M138.2 457.4h0M130 635.9h0M99.5 636.7h0M125.4 621.9h0M132.5 549.9h0M330.8 519h0M69.1 508.2h0M149.8 485.1h0M165.5 516.5h0M325.1 605h0M99.9 717h0M259.4 667.5h0M167.1 731.4h0M250.9 423.9h0M293.5 473.4h0M133.1 680.6h0M163.6 619.9h0M114.3 678.7h0M174.3 641.6h0M205.7 539.1h0M85.3 581.1h0M156.6 408.7h0M279.1 447.8h0M124.4 469.1h0M118.8 499h0M166.2 615.7h0M290.3 677.2h0M78.7 711.9h0M264.6 655.7h0M174.7 714h0M307.6 572.5h0M266.4 708.3h0M77.4 682.8h0M247.5 571.7h0M132.7 689.4h0M85 443.7h0M274.3 688.5h0M241.7 582.9h0M96.3 587.3h0M113.1 451.3h0M227.4 588.3h0M178.8 745h0M218.4 635.6h0M271.5 571.4h0M253.6 562.1h0M326.2 646.2h0M252.7 549.3h0M29.1 518.1h0M280.3 572.8h0M224.4 741h0M256 486.9h0M148.3 495.1h0M94.7 552.6h0M128.7 488.2h0M182 536.4h0M240.8 653.8h0M130.1 437h0M251.1 672.1h0M99 455.9h0M316.1 662.5h0M345.2 573.4h0M330.1 530.7h0M233.3 644.6h0M328.1 536.4h0M175.3 413.1h0M83.5 541.4h0M152.3 719.6h0M129 670h0M189.6 701.1h0M340.3 603.9h0M291.2 633.5h0M205.4 500.8h0M88.2 502.5h0M149.8 651.2h0M143.9 716.7h0M265.3 720.2h0M217.9 447.1h0M151 719.5h0M175.2 661.4h0M222.6 686.8h0M132.4 559.2h0M168.1 540.2h0M237.3 453.8h0M346.4 576.6h0M50.5 570.6h0M54.7 552.1h0M63.7 484.9h0M250.5 481.2h0M231.1 471.4h0M242.6 545.2h0M199.8 670.6h0M211.6 535.9h0M325.8 560.8h0M58.6 525h0M255.6 568.2h0M117 455.7h0M9.2 552.5h0M212.2 584.3h0M94.9 588.3h0M204 421.9h0M184.7 550.7h0M115.8 571h0M114.4 612.4h0M171.6 592.4h0M12.1 566.6h0M151.5 682.4h0M196 741.2h0M250.3 441.3h0M179.8 494.6h0M267.6 625.3h0M93.6 654.7h0M33.8 570.6h0M80.4 558.1h0M53.5 677.4h0M253.5 728.5h0M248 487.5h0M107.5 543.2h0M288.6 555.9h0M281.2 586.6h0M318.7 609.6h0M266 458.6h0M207 624.1h0M300.7 547.3h0M133.8 687.4h0M212.5 647.2h0M226.6 451.7h0M164.4 654.6h0M20.1 622.1h0M53.1 472.3h0M46.3 565.5h0M173.2 550.1h0M113.2 603h0M59.6 477.7h0M325.1 616.6h0M258.6 579.4h0M106.2 731.8h0M307.1 508.8h0M136.6 565.5h0M195.6 663.2h0M100.3 482h0M214 436.6h0M120 568.1h0M133.3 673.5h0M201.2 725.2h0M179.2 591.7h0M72.4 581.4h0M123.5 429.4h0M137.6 469.5h0M121.2 737.4h0M71.7 569.1h0M232.3 641.4h0M270.5 524.3h0M21.8 516.6h0M14.8 542.9h0M158.1 727.6h0M55.4 672.2h0M246.7 678.4h0M126.6 424h0M62.6 516.4h0M230.6 682.1h0M306.5 530.9h0M116.8 431.6h0M84.5 622.3h0M172 607.4h0M260.3 702.2h0M176 590.7h0M147.5 685.1h0M311.8 475.5h0M17.4 513.4h0M297.6 487.2h0M88.1 515.4h0M218.5 628.1h0M287.3 470h0M164 454.9h0M157.6 456.6h0M70.2 609.5h0M87.9 685.1h0M121.3 428.2h0M170.4 704.9h0M212.9 738.4h0M252.6 435.8h0M156.1 718.7h0M256.5 593.4h0M270.8 603.8h0M177.1 461.4h0M183.3 420h0M156.1 619.1h0M280 704.7h0M187.3 683h0M87.4 536h0M242 454.4h0M238.9 713.6h0M49.1 467.9h0M74.6 460.3h0M147.6 467.8h0M241.4 643.2h0M186.3 595h0M116.4 667.9h0M237.5 681.3h0M139.9 577.1h0M50.6 658.8h0M231.1 594h0M80.7 692.4h0M284.6 568.5h0M338.5 565.3h0M116.9 691.6h0M324.8 610.2h0M180.2 498.7h0M84.5 447.9h0M93 659h0M170.6 658.8h0M262.8 549h0M182.8 417.7h0M143.3 619.6h0M171.6 448.2h0M170 711.4h0M74.7 573.7h0M154.4 482.5h0M127.4 660.2h0M179.9 664h0M66.5 692.2h0M164.1 633.9h0M69.3 571.4h0M313.1 574.5h0M118.8 621.6h0M31.5 540.5h0M139.6 498.1h0M146.5 530.2h0M107 651.3h0M89.8 708.5h0M111 663.4h0M71 567.4h0M62.2 591.2h0M172.7 716.6h0M260.9 617.4h0M22.4 649.9h0M197.9 595.2h0M165.2 748.3h0M181.1 461.3h0M242.7 515h0M23.9 520.9h0M238.8 597.5h0M157.8 465h0M23.4 606.2h0M299.6 677.7h0M24.2 582.5h0M150.1 656h0M70.7 564.2h0M106.3 611.6h0M305.7 587.5h0M253.6 486.3h0M262.8 534.2h0M309.6 674.1h0M65.4 463.5h0M172.7 535.6h0M101.2 479.7h0M22.6 518.6h0M267.5 640.7h0M257.2 488.1h0M129.1 418.3h0M302.1 502.4h0M340.2 584.1h0M227.9 515h0M71.4 695.8h0M225.7 429.7h0M76.5 629.3h0M104.2 716.6h0M234.8 608.6h0M36.3 609.3h0M199.4 673.9h0M176 540.2h0M104 692.1h0M9.7 549h0M265.5 645.2h0M276.6 672.8h0M146.2 505.6h0M221.4 474.1h0M195.1 615.3h0M77.4 457.6h0M46.9 664.3h0M331.9 559.4h0M23.4 510.6h0M279.7 689.7h0M217.4 441.3h0M148.5 442.2h0M249.4 553.8h0M84.5 486.6h0M111.6 699h0M90.3 719.3h0M252.4 698.7h0M38.7 678.7h0M288.4 614.9h0M48.6 478.6h0M53.3 667.3h0M30.9 623.6h0M261.6 694.8h0M21.8 606.1h0M140.5 658.2h0M317.5 502h0M338.3 550.2h0M105.8 475.7h0M322.1 647.6h0M305.2 474.7h0M134.1 652.4h0M49.4 526.1h0M60.9 473.1h0M190 667.9h0M190.1 700.3h0M93.7 638.9h0M140.4 617.4h0M80.5 482.3h0M247.2 465.7h0M74.5 445.1h0M207.8 624.7h0M305.8 551.4h0M101.1 594.3h0M76.5 547h0M198.4 457.3h0M198.2 632.3h0M65.4 704.4h0M6.9 576.3h0M33.3 610h0M109.7 496.7h0M213.1 418.3h0M294.3 684.1h0M265.9 438.1h0M67.8 628.7h0M107.5 693.3h0M65.7 467.4h0M210.9 686.4h0M247.4 420.3h0M244.5 631.4h0M194.5 411h0M121.1 458.2h0M288.2 456.7h0M339.1 523.2h0M20.6 588.1h0M145.4 590.1h0M48.5 689h0M295.4 611.5h0M215.1 568.4h0M321.4 545.8h0M132.3 534.5h0M140.7 550h0M166.6 687.5h0M25 566h0M191.8 650.9h0M188 662.7h0M180.6 723.6h0M309.5 613.1h0M288.7 552.3h0M33.8 545.5h0M288.1 605.2h0M171 671h0M190.1 481.5h0M82.9 446.6h0M120.6 418.2h0M49.9 625.9h0M162.5 645.7h0M64.7 602.2h0M161.2 473.8h0M278.6 602.2h0M240.3 420.3h0M98.6 626.2h0M127.9 533.4h0M179.1 717.6h0M257.5 699.2h0M296.3 695.8h0M238.9 598.8h0M96.3 576h0M167.9 657.7h0M160.2 652.5h0M272.6 702.6h0M271.5 657h0M256.5 447.6h0M243.5 424.7h0M280.3 576.2h0M260.6 684.4h0M297.2 493h0M85.5 439.6h0M206 477.5h0M155.2 635.3h0M69.3 692.5h0M332.4 514.5h0M321.3 550.8h0M191.4 539.4h0M64.5 704.5h0M156.2 453.7h0M163.5 534.1h0M232.1 653.2h0M165.5 489.3h0M286.7 572.5h0M287.3 647.4h0M76.8 471.7h0M174.6 661.7h0M329.7 603.3h0M98.5 428.8h0M274.8 475.2h0M211.1 700.5h0M13.1 552.2h0M168 475.1h0M92.2 440.7h0M166.5 681.8h0M76.9 711.3h0M97 623.8h0M274 549.2h0M134.9 621.9h0M81.2 467.1h0M324.7 506.7h0M325.9 601.4h0M114 573.5h0M207.8 478.5h0M154.3 684.3h0M72.6 557.3h0M165.1 528.3h0M283.4 640h0M26.6 514.3h0M258.5 644.5h0M103.7 717h0M333.7 529.8h0M59.3 561.9h0M331.9 590.1h0M75.4 592.5h0M78.3 665.3h0M126.7 477.5h0M276.9 582.8h0M314.7 521.6h0M62.3 668.3h0M79.8 705.7h0M192.8 744.3h0M129.5 714.1h0M52.1 470.7h0M301.7 540.4h0M109 713.4h0M284.4 527.7h0M258.4 521.2h0M233.6 735.9h0M187.4 545.6h0M240.8 616.4h0M60.7 591.3h0M281.7 676.8h0M58 541.5h0M77.1 630.9h0M253.5 730.2h0M255.4 442.9h0M311.8 545.7h0M188.2 634.5h0M318.6 668h0M275.2 438.1h0M131.7 454.6h0M266 583.9h0M43.7 536.1h0M331.4 566.2h0M20.5 549.6h0M58.6 483.4h0M327.5 549h0M296.7 481.7h0M262 488.4h0M178.2 422.6h0M235.6 606.7h0M158.2 500.6h0M229.5 528.5h0M203.2 491.6h0M113.9 703.6h0M185.1 547.8h0M342.4 574.6h0M309.6 685.6h0M99.9 532.5h0M240.8 431.2h0M265.4 554.2h0M22.7 614h0M227.2 718.4h0M50.5 597.4h0M240.6 698.5h0M132.7 722.3h0M28.9 627h0M210.7 730.8h0M236.1 540h0M210.2 510.6h0M10.1 541.2h0M189.7 731.9h0M319.3 533h0M45.8 604.1h0M54.1 603.7h0M91.9 449h0M172.8 728.8h0M168 573h0M165.2 527.2h0M109.2 595.6h0M256.8 606.5h0M203.7 696.3h0M114.5 544.7h0M102.1 509.7h0M259.1 515.1h0M148.4 529.7h0M24.8 603.9h0M220.7 541h0M324.7 597.9h0M109.1 463.2h0M165.8 678.3h0M78.1 523.3h0M320.1 501.8h0M286.3 452.4h0M155 487.9h0M111.8 704.2h0M89.3 694.1h0M264.3 590.2h0M160.1 700.8h0M236.6 426.7h0M117.1 447.3h0M55.7 682.7h0M184.7 465.5h0M120.5 453.5h0M285.2 704.9h0M252.9 513.1h0M141.2 696.9h0M288.8 482.6h0M131.1 491.1h0M138.4 417h0M176.3 413.3h0M258.2 645.5h0M119.4 485.4h0M121.8 696.8h0M311.5 478.6h0M255.4 548.8h0M88.7 582.9h0M338.8 623.2h0M24.4 596.3h0M245.5 567.2h0M28.2 658.2h0M137 427.7h0M178.4 724.3h0M75.6 598.8h0M108.4 530.8h0M122.5 617h0M162.2 500.6h0M102.6 465.2h0M314.9 538.2h0M80.4 612.6h0M106 656.2h0M141.2 468.6h0M47.3 558.1h0M190.2 443.3h0M297.6 476.9h0M83 717.9h0M62.7 680.1h0M317 484.6h0M95.7 482.9h0M86.4 544.9h0M33.8 514.2h0M29 660.7h0M55 675.1h0M66.4 508.3h0M37 594.3h0M167 602.1h0M162.2 607.4h0M236.3 722h0M65.8 658.5h0M17.7 533.2h0M200.2 407h0M204.9 573.2h0M15.2 589.5h0M20.2 529.4h0M255.9 522.2h0M64.6 468.9h0M277.6 543h0M130.4 580.9h0M120.4 452.6h0M191.8 482.2h0M124.5 414.4h0M88.5 430.9h0M48.4 652.8h0M196.2 585.8h0M279.5 642.1h0M125.5 723.6h0M93.2 727h0M344.9 543.6h0M34.1 593.6h0M292.5 663h0M30 551.1h0M177.4 621.5h0M39.4 594.8h0M267.8 461h0M328.1 508.8h0M275.1 701.3h0M115.1 656.4h0M16.7 605h0M66.6 637.3h0M105 691.9h0M153.3 688.1h0M181.9 430.7h0M260.5 666.6h0M64.6 706.9h0M126.4 527.5h0M44.4 666.5h0M93.1 716.2h0M296.4 483.5h0M169 611.8h0M199.6 587.7h0M330.9 556.1h0M125.8 445.1h0M335.5 574.1h0M90.4 519.6h0M11.3 611.7h0M263.5 600.1h0M80.3 467.1h0M229.1 453.3h0M79.2 658.2h0M201.4 490.5h0M335.9 546.3h0M84.5 518.6h0M22.2 637.8h0M209.4 657.4h0M168.2 539.8h0M334.9 525.4h0M288.1 676.5h0M218.2 710.9h0M252.7 642.3h0M289.1 638.6h0M54.3 569.7h0M97.8 539.6h0M252.2 710.2h0M221.2 713.3h0M316.3 500.5h0M225.5 579.9h0M47.6 583.7h0M259.5 501.3h0M229.1 714.7h0M211.3 612.4h0M9 573.1h0M96.2 707.6h0M275.4 711h0M195.7 481.2h0M191.8 650.2h0M283.3 493.2h0M259.3 604.5h0M150.9 705.8h0M113.8 548.3h0M84.9 704.4h0M29.2 641.3h0M90.5 676.4h0M192.9 428.2h0M279.6 509.1h0M304.7 543.6h0M40.4 676.2h0M101.1 538.7h0M182 572.4h0M126 723.9h0M191.3 661.5h0M101.6 436.6h0M274.3 516.9h0M256.4 601.7h0M214.8 520.3h0M170 536.7h0M80.7 674.6h0M56.4 540.3h0M261.1 595h0M250.4 615.9h0M318.4 641.3h0M155.7 439.6h0M160.3 718.8h0M202.7 553h0M272.2 464.9h0M143.7 515.6h0M99.8 694.9h0M106.6 555.9h0M252.7 691.5h0M66.8 595.8h0M201.3 632.3h0M221.8 416.7h0M218.4 663.5h0M127.6 716.4h0M159.4 684.4h0M118.3 724.2h0M103 447.2h0M81.5 516.7h0M273.7 483.3h0M182.8 668.8h0M136.3 430.8h0M315.9 638.8h0M177 568.9h0M339.9 587.6h0M238.6 420.5h0M239.6 510.6h0M128 477.6h0M197.6 502.7h0M47.2 615.2h0M123.4 632.6h0M250.1 680.6h0M248.5 694.4h0M319.8 557.1h0M34.8 616.6h0M248.5 466.1h0M23.7 521.8h0M137 621.4h0M137.5 413.9h0M308.8 548.5h0M239.5 609.4h0M54.5 458.2h0M148.7 469.7h0M281.1 710.3h0M266.7 515.5h0M216.7 576.9h0M49 518.4h0M168.9 670.1h0M160.9 423.6h0M109.3 556h0M15.9 588.3h0M158.3 688.4h0M180.9 574.1h0M23 505.3h0M98 726.8h0M116.7 619.1h0M190.7 704.9h0M188.9 411.6h0M100.2 529.3h0M79.8 448.9h0M225.3 724.3h0M60.7 501.9h0M103.6 553.4h0M271 631.6h0M269.3 605.8h0M40.8 630h0M209.9 690.9h0M117.4 647.2h0M135 727.6h0M180 499h0M150.5 586.4h0M128.8 510.9h0M263 540.5h0M61.2 544.2h0M146.6 410.4h0M105.1 461.6h0M116 479.9h0M331.3 568h0M217 663.5h0M34 487.7h0M244.1 538.4h0M96.2 616.1h0M159.5 532.1h0M118.2 680.2h0M14.8 526.2h0M156 666.3h0M136.5 733.1h0M262.6 634.8h0M190.2 559.2h0M97.1 698.1h0M161.5 685.5h0M278.6 706.3h0M156.1 515.3h0M322.2 515.1h0M348.2 593.6h0M150.5 627.7h0M209.2 501h0M226.4 585.8h0M76.5 606.2h0M170.6 589.8h0M169.5 651.6h0M208.8 604h0M284.5 559.6h0M131.1 668.5h0M129.8 707.1h0M212.2 533.4h0M278.1 495.1h0M153.3 440h0M89.3 621.6h0M82.6 707.9h0M220.4 415.2h0M97 490.9h0M18.8 603.5h0M258.4 509.7h0M231.4 585.2h0M304.8 626.1h0M215.5 615.9h0M28.6 571.8h0M43.6 540h0M40.4 599.4h0M110.8 455.2h0M169.9 662.5h0M255.3 518.3h0M227.3 673.5h0M194.4 691.8h0M262.4 639.1h0M301.1 615.7h0M71.9 473.2h0M130.5 448.7h0M46.7 468h0M179.9 496.5h0M189.4 575.7h0M41.2 477.5h0M154.8 496.5h0M157.3 698.1h0M297.9 493.1h0M163 694.4h0M238.1 606.7h0M279.2 510.3h0M185.9 431h0M280.3 607.3h0M228.7 720.3h0M201.6 737h0M60.1 550.4h0M270.4 579.4h0M74.2 531.2h0M61.7 690.9h0M300.7 502.1h0M162.7 667.3h0M107.6 423.2h0M39.4 652.2h0M198.8 728.4h0M127.3 692.5h0M188.3 680.3h0M206 531.5h0M47.7 602.9h0M153.9 447.8h0M75.8 591.3h0M341.5 608.9h0M320.2 669.9h0M204 501.8h0M163.7 490.2h0M197.6 519h0M36.1 501.5h0M106.3 515.5h0M308.1 582.3h0M266 452.9h0M202.6 695.4h0M190.1 673.5h0M219.2 676.1h0M28.3 559.8h0M213.7 434.7h0M131.3 510.9h0M206.1 611.5h0M66.6 653.8h0M141.1 458.2h0M134 681.5h0M304.2 543h0M245.3 481.8h0M119.4 680.4h0M202.3 516.5h0M100.9 662.6h0M51 675.7h0M77 557.5h0M173.1 741.6h0M101.8 523.3h0M28.5 563.3h0M66.4 639.2h0M188.3 705.5h0M192.7 586.9h0M217.8 410.5h0M121.3 448.2h0M161.6 460.8h0M57.7 505.9h0M239.2 651.3h0M161.8 410.9h0M247.2 626.5h0M224.3 740.9h0M40.5 488h0M265.8 496.6h0M205.5 643.8h0M211 735.4h0M20.2 535.2h0M178.8 624.1h0M301.5 605.2h0M237.1 587.1h0M315.4 513.4h0M106.4 638.8h0" stroke="#f3c9a0" stroke-width="2.0" stroke-linecap="round"/>
<path d="M130.8 524.6h0M205.4 502.3h0M113.2 673.6h0M101 548.8h0M292.1 546.6h0M53.7 485.8h0M130.3 699.5h0M267.2 582.8h0M37.3 483.7h0M175.7 649h0M13.8 573.8h0M42.2 477.6h0M128.8 430.5h0M291.2 591.3h0M153.3 434.6h0M93.7 583.9h0M9.6 598.5h0M203.9 433.8h0M271.7 460.9h0M31 638.1h0M131.1 695.3h0M345 595.7h0M206.7 508.5h0M150.5 662.3h0M324.8 643.9h0M163 546.9h0M239.1 548.2h0M161.7 468.1h0M302.5 518.7h0M338.5 575h0M198.6 621.6h0M287.3 595.4h0M248 542.3h0M60 548.7h0M121.7 484.3h0M136.1 646.1h0M155 439.6h0M33 617h0M257.7 587.1h0M77.8 516.8h0M208.8 681.8h0M182.9 703.1h0M193.2 456.7h0M83.2 624.7h0M135.7 645h0M153.5 699.8h0M275.9 705.8h0M126 414.7h0M23.5 648.5h0M206 601.4h0M140.8 416.8h0M195.7 438.7h0M174.2 480.4h0M177.3 430.7h0M12.5 537.2h0M103.7 617.5h0M127 444.8h0M121 664.1h0M116.9 541h0M216.3 443.7h0M162.3 729.6h0M310.3 548.3h0M57.4 491.5h0M294.4 595.7h0M299 499.7h0M241.4 647.2h0M254.5 694h0M240.1 593.4h0M300 511.2h0M137.2 639h0M18.6 548.2h0M123.7 535.2h0M105.3 440.9h0M53.3 562.1h0M273.3 477.9h0M154.4 581.2h0M110.6 605h0M22.2 586.4h0M69.9 679.6h0M194.3 562.9h0M170.4 685.1h0M104.6 486.8h0M314 475.9h0M303.6 502.1h0M68.5 614.8h0M134.8 689h0M47.2 653.4h0M207.8 662.1h0M340.9 528.2h0M342.7 621.5h0M124.1 567.1h0M94.1 682.3h0M177.5 605.9h0M146.9 585.6h0M39.1 671.2h0M292.8 459.8h0M10.6 564h0M30.3 533.5h0M109.9 472.5h0M331.4 538.2h0M229 453.9h0M243.2 704.9h0M284.5 703.8h0M321.1 618.9h0M243.7 512.2h0M302.1 626.9h0M205.7 622.2h0M56.2 483.7h0M194.4 506.1h0M196.9 507.7h0M32 654.1h0M84.4 604.6h0M278.7 628.1h0M320.8 523.5h0M86.2 540.1h0M264 710.6h0M336.6 589.2h0M131.3 675.7h0M236.3 612.4h0M140.3 637.3h0M285.8 709.7h0M161.8 640.1h0M291 514.1h0M273.5 590.7h0M35.3 569.9h0M340.2 584.5h0M53.8 548.5h0M254.8 449.8h0M145.7 730.6h0M221.7 564h0M91.1 650.8h0M200.9 492.5h0M18.1 512.1h0M231.9 612.9h0M162.9 502.7h0M213.6 582.2h0M91.8 515.3h0M65.8 561h0M304.7 497.1h0M197.5 626.9h0M308 650.3h0M110 461.8h0M62.9 466.1h0M57.4 582.1h0M152.9 573.2h0M85.8 577.6h0M57.2 477.1h0M169.8 482.4h0M26.2 505.4h0M114.6 463.3h0M234.2 482h0M67.5 622.1h0M214.8 507.5h0M143.4 447.4h0M228.3 438.5h0M119 426.9h0M211.9 432h0M302 587.8h0M247.3 446.2h0M92.3 482.1h0M9.9 558.5h0M323.2 541.8h0M169.7 602.8h0M303.9 654.7h0M289.6 592.2h0M304.7 650.6h0M281.5 555.7h0M243.9 524.2h0M277.2 603.8h0M302.3 575.3h0M181.9 696.2h0M158.4 684.4h0M66.9 673.7h0M282.3 513.6h0M65.6 680.4h0M156.6 528.5h0M33 660.3h0M77.6 461.4h0M147.1 637.3h0M103.5 531.2h0M183 569.3h0M120.4 472.8h0M236.5 424.5h0M97.6 666.2h0M166 494.5h0M334 557.6h0M230.2 441.1h0M334.8 533h0M224.1 722.5h0M190.8 655.7h0M165.6 667.5h0M186 412.4h0M153.7 636.3h0M85 529.2h0M256.7 656.7h0M222.4 526.7h0M56.5 533.4h0M116.4 685.5h0M158.4 736.5h0M72.8 573.4h0M27.8 523.2h0M314 499.3h0M240 522.5h0M186.7 551.7h0M76.1 484.6h0M113.5 444.1h0M270.4 551.9h0M188.2 641.4h0M183.8 622.7h0M330.2 608.4h0M341.3 552.7h0M268.7 480h0M148.3 408.1h0M219.4 448.3h0M329.7 625.8h0M23.4 608.4h0M208.2 413.5h0M58.7 689h0M133.6 477.2h0M166.2 491.9h0M154 477h0M84.8 578.8h0M88 508.7h0M170.4 630.3h0M136.6 592h0M295.7 566.5h0M306.5 500.2h0M290.5 668.3h0M153.1 735.2h0M14 559.6h0M183.7 674.5h0M24.3 625h0M66.6 446.2h0M221 597.3h0M276.7 711.1h0M164.8 651.3h0M43.7 481.4h0M162.3 539.4h0M197 521h0M281.5 477h0M64.4 510.6h0M341.1 588.1h0M87.3 645.1h0M46.3 600.2h0M93 553h0M98.9 586.8h0M208.2 670h0M326.9 615.3h0M141.8 592.3h0M285.5 619.4h0M259.3 447.8h0M190.8 625.9h0M314.4 664.5h0M147.9 446.4h0M89.9 520h0M89.6 705.8h0M195.3 656.2h0M186.5 459h0M81.5 611.3h0M124 421.8h0M81 600.9h0M174.7 545h0M240.6 508.4h0M136.8 479.2h0M257.4 670.9h0M149.1 594.2h0M101.7 669.4h0M180.2 530.5h0M184.4 738.2h0M144.3 721h0M319.5 611.2h0M180.2 458.9h0M239.2 667.2h0M319 654.6h0M228.5 669.7h0M186.8 568.4h0M129.7 709h0M133.8 413.7h0M284.9 503.4h0M181.8 418.3h0M147.5 433h0M318.5 579h0M88.2 471.1h0M124 524.6h0M29.4 547.9h0M322.2 636.9h0M292.4 455.2h0M107.3 669.7h0M256.1 475h0M316.4 648h0M137.2 555.5h0M52 567.4h0M226 538h0M37.9 521.3h0M271.1 686.3h0M59.2 511.2h0M271.7 518.4h0M98.6 723.4h0M134.8 643h0M230.4 439.5h0M224.1 721.6h0M202.6 703.3h0M58.6 687.9h0M59.9 486.6h0M124.8 647.5h0M269.8 528.8h0M259.1 433.6h0M163.2 743.5h0M217.3 475.3h0M255.4 673.2h0M90.2 594h0M267.7 586.6h0M271.9 687.8h0M263.8 550.6h0M95.4 574.3h0M258.7 519.4h0M216.3 465h0M204.6 417.2h0M330.1 629.4h0M18.9 604.4h0M162.3 736.4h0M117.2 551.2h0M239.5 605h0M37.6 653.9h0M110.6 727.5h0M52.4 636.8h0M77.3 700.6h0M140.1 735.7h0M274.2 508.2h0M152.9 648.8h0M320.8 628.3h0M258 496h0M257 466.4h0M304 554.4h0M236.6 663.4h0M252.4 720.4h0M300.4 516.4h0M121.1 448.2h0M59.1 495.5h0M197.8 580.8h0M161.5 662.9h0M36.5 524.6h0M172.7 611.3h0M133.4 625.1h0M184.4 570.4h0M223.4 485.1h0M282.4 668.3h0M44.4 525.6h0M34.9 667.4h0M101 475h0M124.2 619.1h0M254.1 634.5h0M259.8 562.5h0M250.2 459.6h0M151.6 550.9h0M324.9 604.4h0M88.1 510.9h0M136.3 545.8h0M73.4 505.2h0M326.3 616.6h0M229.6 495.3h0M9.1 540h0M17.5 541.6h0M90.4 538.1h0M211.5 437.3h0M284.5 462.4h0M302.5 472.7h0M126.3 734.7h0M251.8 430.1h0M158.8 739.3h0M96.8 646.8h0M164 630.7h0M80.2 480.4h0M303.3 548.6h0M275.3 692h0M10.6 595.8h0M150 579h0M184.3 679.2h0M255.6 634.4h0M142.8 541h0M93.8 538.2h0M185.9 418.5h0M142.3 551.9h0M68.1 463.5h0M174.5 496.7h0M303.5 469.8h0M85.5 540.9h0M214 657.3h0M205.4 663.4h0M57.2 629.2h0M48.3 591.9h0M330.9 638.8h0M41.6 566.6h0M182.4 543.3h0M199.6 714.5h0M85.3 459.7h0M21 515h0M235.2 592.3h0M256 716.4h0M245.9 609.4h0M31.4 498.5h0M327.3 583.9h0M138.7 550.3h0M191.9 720.6h0M279 607.3h0M226.7 547.6h0M152.2 678.8h0M179.1 571.3h0M101 454.5h0M13.9 627.5h0M144.5 411.3h0M50.3 629.2h0M203.3 601.3h0M33.2 642.7h0M322.5 577.1h0M202 446.9h0M85.4 508.9h0M214.5 726.2h0M249 432.1h0M133.9 705.2h0M169.7 592.4h0M184.8 601.3h0M21.2 565.4h0M191.7 542.2h0M169 574.6h0M44.7 663.9h0M62.1 677h0M91.3 530.2h0M87.1 669.9h0M26.4 645h0M58.1 628.2h0M108.3 605.7h0M192 744.3h0M126 680h0M101.7 505.6h0M260.5 626.8h0M266.1 544.4h0M311.4 507.3h0M27.3 648.2h0M261.8 637.4h0M165.8 660.2h0M148.2 437.1h0M139.6 734.5h0M49.9 568.2h0M40.4 551.7h0M306.2 530.2h0M238.5 507h0M180.1 690.7h0M221.7 610.1h0M137.1 423.3h0M95.3 469h0M201.9 414.3h0M48 548.6h0M249.3 555.7h0M70 659.1h0M205 430.8h0M180.9 655.4h0M106.1 543.1h0M147.1 713.3h0M95.5 582.8h0M324.8 644.9h0M290.1 454.5h0M193.6 727.7h0M125.8 423.9h0M119.4 505.9h0M53.8 473.8h0M259.9 491.7h0M81 686.2h0M309.2 669.5h0M85 590.8h0M342 583h0M81 596.3h0M149.2 663.4h0M42.1 604.4h0M281.1 678.3h0M149.6 556.8h0M319.8 551h0M111.6 651.3h0M295.1 465.4h0M283.1 474.5h0M162.1 459.4h0M109.3 428.1h0M273 549.1h0M148.5 461.2h0M177.8 587h0M307.8 594.5h0M250.2 535h0M99.1 554.2h0M163 509.7h0M78 692.2h0M23.5 526.1h0M197.3 741.3h0M171.6 432h0M237.6 437.7h0M176.6 571h0M49.6 470.3h0M286.4 632.4h0M289.9 706.1h0M246 692.4h0M67.5 520.7h0M245.2 430.8h0M74.1 694.1h0M226 542.5h0M67.4 563.5h0M127.8 597h0M105.1 551.5h0M268 581.1h0M184.1 528.6h0M152.5 678.1h0M35 535h0M193.6 602.3h0M232.9 461.3h0M80.7 685.7h0M61.1 582.7h0M260.5 710.6h0M316.7 573.8h0M50.6 594.6h0M153.9 487.1h0M235.9 649.2h0M336.5 580.8h0M166.3 515.3h0M16 563.3h0M303.8 499.6h0M25.3 641.7h0M116.8 498.9h0M158.3 680h0M243.8 614.1h0M246.7 712.2h0M329.1 512.2h0M267.8 594.8h0M131.2 552.2h0M203 658h0M270.1 564h0M278.7 450.7h0M175.5 415.7h0M312.6 530.9h0M202.5 567.4h0M65.2 633.5h0M243.3 651.7h0M87.6 694h0M163.1 660.5h0M256.3 519.5h0M105 681h0M226.6 522.3h0M191 460.3h0M44.3 481.2h0M161.4 676.6h0M173.8 594.2h0M176.1 715h0M304.2 672.9h0M291 697.7h0M129.5 428.4h0M242.1 735.5h0M44 579.2h0M227.7 448.8h0M90.1 620.3h0M72.8 700.7h0M216.5 464.9h0M257 703.7h0M25.2 619.3h0M143.7 434.5h0M59 603.1h0M114 467.8h0M185.1 741.2h0M323.9 630.6h0M75.3 511.2h0M250.6 713.3h0M158 467.1h0M13.9 620.8h0M297.4 638.6h0M264.3 507.6h0M304.7 477.3h0M168.4 451.7h0M156.6 461.7h0M182.2 618.6h0M88.5 511.5h0M47 616.4h0M49.4 522.7h0M328.5 652.1h0M28 544.5h0M202.4 532.3h0M90.1 534.7h0M92.4 537.5h0M69.9 551h0M178 585.8h0M39.7 541.2h0M293.7 509.1h0M246.7 681.9h0M110.8 532.8h0M138.6 632.1h0M10.6 555.4h0M256.9 463.9h0M23.6 500.3h0M180.8 724.2h0M169.5 539.6h0M283.7 675.1h0M182 445.1h0M64.7 477.8h0M87.4 602.4h0M63.7 555.2h0M84.6 609.8h0M289.6 549h0M209.4 414.6h0M303.9 605.5h0M223.2 472h0M304.9 538.9h0M70.6 444.4h0M36.9 532.7h0M202.3 691.8h0M104.3 685.1h0M255.5 701.4h0M223.1 727.1h0M136.3 577.3h0M64.2 543.5h0M218.6 505.8h0M255.3 573.9h0M46.8 585h0M229.8 541.7h0M110.5 608.2h0M39 488.4h0M324.1 591.4h0M116.7 453h0M327.8 620.9h0M40.8 509.5h0M65.5 477.7h0M159.8 503.2h0M105.2 439.8h0M213.8 740.8h0M141.4 426.7h0M202.4 624.7h0M207.8 446.4h0M186.9 652.3h0M271.4 490.1h0M289.1 467.6h0M305.6 680.5h0M91.4 668.4h0M290.1 582.6h0M20.1 545.3h0M323.3 590.4h0M135.4 700.9h0M235.1 722.2h0M271.1 699.7h0M193.2 421.9h0M78.3 690.4h0M47.2 503.6h0M25.8 618.6h0M250 452.6h0M199.2 499h0M146.4 524.8h0M159.7 412.7h0M312.6 524.9h0M95.9 600.7h0M128.4 659.5h0M236.2 548.9h0M76 642.4h0M162.6 562.9h0M310.2 678.8h0M137.4 693.5h0M49.7 562.6h0M277.9 588.6h0M12.8 627.2h0M86.4 542.5h0M181.7 646h0M298.1 554.5h0M65.8 695h0M248.4 613.7h0M242.8 728.2h0M92.5 439.6h0M299.3 461.4h0M86.5 595.2h0M85.9 542.6h0M103.4 682.8h0M189.4 503.5h0M67.1 469.1h0M241.8 498h0M64.4 627.4h0M252.6 670.7h0M215.2 598.7h0M202.7 452h0M105.1 505.4h0M198.5 731.4h0M290.2 476.5h0M346.2 556.1h0M31.5 533.7h0M183.7 741.2h0M171.3 673.2h0M124.6 468.7h0M88.5 570.8h0M116 416.4h0M222.8 437.7h0M204.1 437.7h0M309.7 526.9h0M113.9 532.5h0M102.4 447.4h0M44.4 591.6h0M109.5 645.2h0M212.9 420.7h0M320.4 486.3h0M54.8 568.8h0M194.4 567.5h0M99.5 631.7h0M216.1 728.9h0M34.8 557.8h0M266.1 619.8h0M175.9 515.4h0M117.5 503.7h0M81.3 624h0M332.9 565.5h0M323.1 512h0M56.7 561.3h0M189.1 437.9h0M112.2 549.9h0M145.2 640.6h0M280.9 655.9h0M91.8 553.2h0M116.6 585h0M52.8 470.8h0M347.7 584.6h0M200.6 616.6h0M199.3 435.8h0M262.9 710.1h0M47.1 556.2h0M308.1 631.2h0M305.3 553.3h0M294.1 694.3h0M59.3 674.8h0M271.9 483.6h0M141.8 455.7h0M261.4 561.4h0M125.9 512.3h0M94.1 433.3h0M113.5 483.4h0M40.9 632.4h0M320.5 620.5h0M113.2 696.5h0M139.7 528.7h0M296.8 469.3h0M267 526.7h0M255.3 679.9h0M103.4 716.6h0M121.2 635.6h0M202.7 485h0M306.4 649.8h0M156.8 505.7h0M61.6 685.9h0M250.2 697.1h0M268.7 692.6h0M69.5 643.9h0M185.5 436h0M207.5 639.7h0M119.6 622.8h0M193.3 704h0M317.8 483.2h0M280.2 466.9h0M182 725.7h0M242.5 477h0M224.6 476.5h0M266 651h0M322.1 518.6h0M196.1 645.2h0M147.9 720.1h0M213.7 678.3h0M82.4 575.8h0M241.2 714.3h0M207.7 556h0M124 554.7h0M324.2 567.4h0M11.7 610.1h0M84.7 461.9h0M278.4 541.2h0M284.5 670.2h0M8.5 575.6h0M140.5 601.2h0M150.4 442.3h0M91 705.1h0M179.3 544h0M138.9 458.4h0M342.8 548.2h0M90.2 640.8h0M266.7 539.4h0M172 428.3h0M289.9 584.2h0M26.2 512.9h0M44.2 613.9h0M251.8 660.8h0M63 510.6h0M314.7 555.6h0M174.7 614.1h0M191.5 580.5h0M260.2 571.5h0M142 598.4h0M64.7 465.1h0M175.2 560h0M147.6 670.6h0M298.6 550.4h0M109.8 518h0M172.7 457.4h0M160.1 658.6h0M199 475.9h0M26.5 594.9h0M165.6 517.4h0M245.1 428.9h0M95.6 556.7h0M22.9 607.2h0M133.2 611.9h0M256.5 667.7h0M79.4 478.4h0M210.2 641.3h0M216.4 687.7h0M268.9 718.8h0M174.9 416.9h0M185.2 474.6h0M310.5 561.3h0M289.7 558.5h0M56.9 639.1h0M272.4 655.1h0M76.8 591.3h0M243.9 527.8h0M214.7 570.2h0M44.6 685.4h0M91.1 436.5h0M191.8 597.6h0M231.3 491.2h0M147.2 563.8h0M267 690.7h0M92.9 612.5h0M251.1 589.1h0M136.1 741.6h0M114.4 559.8h0M229.1 530.3h0M259 617.3h0M286.7 447h0M305.8 579.6h0M196.2 598.4h0M168.4 503.6h0M172.4 700.8h0M226.5 700.7h0M270.2 499.2h0M130 658.1h0M99.9 553.1h0M136.9 637.4h0M127.7 706.8h0M67.8 637.2h0M96.2 505.7h0M245.2 584h0M314.5 555.4h0M41.9 642.4h0M118.5 727.8h0M120.1 648.5h0M118.1 513.9h0M217.7 698.4h0M164.9 593.6h0M298.6 625.6h0M20.2 510.4h0M44.1 596h0M127.1 432.9h0M250.9 543.5h0M80.2 480.6h0M193.7 681.6h0M121.3 604.7h0M308 608h0M144.5 413.9h0M246.9 724.9h0M8.8 574.7h0M289.9 541.9h0M278.5 449h0M119.7 667.1h0M332.2 546.9h0M285.3 522.8h0M114.3 581.7h0M166.5 421.8h0M101.5 695.6h0M176.4 657.5h0M209.3 658.4h0M331.2 507.3h0M301.6 614.1h0M87.8 609.9h0M236.2 469.4h0M237.8 691.7h0M270.2 646.5h0M237 553.1h0M150.1 729.8h0M21.2 537.4h0M236.5 447.4h0M162.8 516.7h0M17.4 584.5h0M292.1 567.2h0M93.5 680.6h0M76.9 710.7h0M191.9 410.6h0M149.9 412.6h0M193.6 410.9h0M315.4 529.8h0M182 748.8h0M75.6 475.5h0M208.6 719.9h0M319.7 618.5h0M288.1 596h0M102.7 719.2h0M214.9 572.3h0M74.2 623.6h0M94.8 627.6h0M187.3 706.1h0M264.1 522.6h0M184.4 698.5h0M186.4 718.8h0M128.9 723.6h0M108.5 484.4h0M93.2 525.9h0M223.9 559.7h0M324.3 634.6h0M211.9 550h0M202.2 608.1h0M281.4 684.9h0M199.9 523.6h0M328.3 626.5h0M233.7 438.3h0M172.9 686.1h0M57 485h0M140.4 563.9h0M39.7 668.9h0M70.5 588.4h0M262.3 566.8h0M306.7 598.4h0M293.2 701.1h0M49.8 586.6h0M240 507.1h0M126.5 730.7h0M248.2 551.2h0M314.6 629.6h0M172.9 547.5h0M332.7 528.9h0M108.4 469.4h0M235.2 684.3h0M256.3 612h0M218.4 555.4h0M252.8 429.2h0M122.9 736.1h0M79.4 672.9h0M171.2 668.8h0M195.7 648.4h0M240.2 698.2h0M53.5 512.6h0M126.6 548h0M174 660.6h0M336.1 621h0M249.9 470.4h0M196.3 742.5h0M24.2 635.8h0M43.7 631.8h0M148.4 594.9h0M247.7 563.5h0M133 718.9h0M144.9 506.8h0M7.9 582.1h0M307.6 490.4h0M112.4 616.5h0M166.1 520.9h0M102.1 633.1h0M253.1 683.9h0M240.2 723.4h0M12.9 571.8h0M320.6 653h0M172.3 585.8h0M144.9 655.1h0M320.9 655.8h0M222.2 615.2h0M309.4 523.9h0M251.6 711.2h0M244 477h0M254.4 544.3h0M211.8 640.5h0M244.3 609.3h0M300.6 682.8h0M40.1 499.7h0M97.7 678.2h0M19.3 523.1h0M205 728.8h0M324.7 641.1h0M97.1 622.9h0M178 409.6h0M213.1 550.4h0M193.8 612.4h0M30.1 563h0M159.5 496.7h0M131.9 730.9h0M89.6 464h0M64.6 649.5h0M268.7 665h0M164.8 616.4h0M128.2 421.9h0M217 435.6h0M144.4 421.1h0M177.6 439.8h0M244.2 663.5h0M277.9 505.2h0M105.3 478.4h0M92.7 490.9h0M70.8 685.7h0M231.7 438.7h0M115.6 733h0M124.9 595.1h0M129.6 610.2h0M93 452.4h0M166.8 451.7h0M14.1 582.2h0M247.9 566.6h0M224.6 532.5h0M320 638.1h0M191.2 735.7h0M86.1 494.9h0M63.5 483.2h0M241.8 450.1h0M80.7 697.7h0M117.8 585.9h0M269.6 436h0M55.5 678.5h0M29.1 631.7h0M300.6 552.9h0M134.7 734.4h0M30.1 601.2h0M316.6 667h0M316.7 606.5h0M274.4 627.2h0M235.9 584.6h0M130.9 725.6h0M167.5 746.4h0M23.5 525.5h0M315.6 629h0M204.2 480.2h0M135.5 664.1h0M90.2 611.5h0M332 602.7h0M254 686.4h0M173 582.1h0M313.1 635.7h0M293.3 469h0M93.5 491.9h0M200.2 590h0M57.4 648.3h0M32.4 544.8h0M128.7 539.8h0M303 555.5h0M78 579.3h0M137.1 557.2h0M197.1 577.8h0M251.2 633.4h0M175.8 744.7h0M193.8 598.9h0M179 472.1h0M223.6 544.4h0M185.6 510.6h0M307 649.5h0M146.3 477.8h0M113.5 721.7h0M323.4 634.5h0M109.6 475.2h0M150.9 438.1h0M105.7 521.6h0M191.5 676.3h0M210.1 409.1h0M172.3 561.5h0M191 655.7h0M216.5 544.7h0M43.2 544.7h0M73 589.9h0M230.3 483.8h0M79.1 636.2h0M245.6 665.9h0M115.9 621.1h0M79.2 627.2h0M91.7 688.1h0M195.6 487.6h0M187.7 708.1h0M228.3 575.4h0M20.2 515.2h0M249.3 514.4h0M46 640.4h0M300.3 513.9h0M269.6 586.6h0M124.1 499.6h0M91.7 468.5h0M332.5 629.6h0M223.3 728.3h0M72.6 591.6h0M81.6 489h0M271.1 584.2h0M258.9 651.4h0M11 553.1h0M181.1 686h0M120.6 712h0M15.6 574.2h0M228.6 616.5h0M251.3 568.7h0M60.7 481h0M66.5 567.3h0M125.2 713h0M171.9 657.4h0M132.3 605.3h0M11.9 534.6h0M180.4 610.5h0M163.4 701.9h0M223.4 703.3h0M73.7 711.4h0M305.7 684.2h0M125.8 535h0M191.9 424.1h0M323.6 507.3h0M269.5 575.8h0M129.5 441.4h0M197.5 700.4h0M190.5 598.8h0M334.9 509.5h0M220.1 485.5h0M49.4 560.8h0M17.4 621.6h0M210.8 496.3h0M277.4 487.7h0M223.2 528h0M286 488.9h0M118 584.3h0M286.9 471.6h0M286.4 461.5h0M75.9 517h0M80.2 523.9h0M90.6 570.9h0M28.9 553.1h0M146 605.5h0M54.7 539.5h0M37.4 667.2h0M64.1 582.5h0M110.6 729.8h0M69.9 475.2h0M335.6 543.6h0M152.8 543.5h0M144.6 616.5h0M138 678.3h0M122.4 583.5h0M238.5 670.4h0M208.8 486.2h0M40 639.9h0M142 505.9h0M87.3 442.2h0M302.3 632.8h0M118.3 670h0M85.1 555.3h0M185.7 571.7h0M140.5 691.2h0M48.5 561.9h0M316.9 500.1h0M139.6 442.5h0M173.1 503.6h0M168.9 732.9h0M89.2 613.6h0M297.3 569.5h0M16.9 625.2h0M188 448h0M250.7 440.2h0M347.5 585.2h0M64.7 584.9h0M188.9 736.9h0M98 673.4h0M260.1 560.7h0M310.8 649.9h0M244.4 690.4h0M144.3 411.7h0M134.1 612.6h0M36.4 542.5h0M212.5 603.6h0M177 632.3h0M272 704.6h0M158.7 673.3h0M164.2 495.7h0M172.4 685.3h0M189.7 635.1h0M41.4 517.7h0M55.8 634.1h0M310.2 639h0M122.6 621.6h0M229.4 579.2h0M83.1 624.5h0M255.2 490h0M64 686.6h0M319.6 634.1h0M66.4 456.5h0M46 500.1h0M240.6 692.1h0M178.8 608.9h0M30.9 659.1h0M164 664.8h0M194.9 553h0M21.7 517.7h0M190.3 660.6h0M62.7 473.3h0M262.7 574.3h0M59.9 500.6h0M88.1 600.4h0M28.3 612h0M233.9 607.9h0M331.5 633.5h0M132.2 524.5h0M178.9 549.8h0M80.7 623.3h0M111.4 681.8h0M190.2 565.1h0M251.4 496h0M324.9 560.2h0M193.1 582.8h0M294.7 463.7h0M124.2 445.1h0M69.5 495.1h0M328 606.5h0M99.1 470.3h0M180.5 566.6h0M223.6 703h0M133.3 497.4h0M319.6 495.2h0M166.5 671.8h0M342.9 582.3h0M136 656.7h0M189 518.2h0M197.1 461.5h0M201.6 418.7h0M24.9 594.7h0M151.5 472.7h0M191.8 459.9h0M264.9 697.1h0M85.3 442.2h0M102.6 552h0M175.9 414.4h0M131.3 546h0M148.4 608.1h0M9.6 573.6h0M134.6 556.2h0M245.1 703.2h0M76 518h0M162.4 742.6h0M93.6 687.1h0M205.7 739.7h0M78.1 467.7h0M51 693.1h0M72.9 479.9h0M225.9 720.8h0M168.9 521.8h0M265.1 697.6h0M203.5 721.5h0M311.3 676.1h0M26.3 639.5h0M95.2 713.7h0M141.8 410.2h0M115.5 691h0M17.8 633.4h0M101 662.3h0M196.3 657.9h0M112 487.3h0M100.4 682h0M321.9 587h0M174.9 583.2h0M184.1 507.6h0M164.2 631.5h0M129.2 671.9h0M32.8 516.7h0M267.2 485.6h0M196.8 741.2h0M97 555.7h0M114.2 646.9h0M113.8 523.1h0M16.7 631h0M257.8 556.4h0M293.5 685.2h0M219.7 680.1h0M303.1 638.7h0M87 600.5h0M118.2 499.2h0M81.1 552.4h0M225.8 531.1h0M190.6 523.5h0M109.3 440.5h0M116.5 580.1h0M333.4 555.9h0M117.4 694.8h0M25.5 522h0M55.7 616.9h0M264.7 429.1h0M244.9 602.5h0M62.1 457.2h0M172.5 522.1h0M324.4 582.7h0M340.5 597.7h0M335.8 548h0M128.1 638.2h0M157.6 611.4h0M234.6 459.4h0M242.7 457.5h0M93.9 428.2h0M81.2 499h0M227.6 627.3h0M296 667.8h0M79.9 514.7h0M245.4 424.2h0M243.7 421.5h0M63.1 593.2h0M175.9 494.2h0M45.7 623.1h0M188.3 574.3h0M116.5 503.1h0M122.4 573.7h0M183.6 453.7h0M6 594.8h0M164.9 408.8h0M146.1 638h0M65.7 489.2h0M55.6 696.4h0M299.6 468h0M103.8 732.5h0M144.4 455.2h0M77.2 451.3h0M109.9 502.8h0M73.9 488.6h0M251.3 550.6h0M85 462.8h0M44.5 589.8h0M162.5 630h0M303.1 592.5h0M205.4 500.4h0M38.9 666.9h0M97.8 431.7h0M231.5 504.5h0M164 406.1h0M226.8 726.8h0M77.9 697.8h0M125.8 612.5h0M169.8 710.5h0M234.2 667.7h0M234.2 629.9h0M18.7 585.4h0M101.8 677.4h0M111.3 575.9h0M151.7 641.4h0M317 509.9h0M193.2 448h0M152.3 432.5h0M169.7 618.1h0M103.8 570.9h0M72.6 509.7h0M200 497.3h0M177.3 549.3h0M185.7 743.1h0M210.9 416.2h0M200.8 739.2h0M35.1 568.4h0M123.8 417.1h0M53.1 659.3h0M215.5 477h0M122.3 667.2h0M264.6 721.2h0M178.4 548.8h0M142.3 512.8h0M233.4 473.6h0M123.7 694.3h0M6.8 572.3h0M196.8 503.2h0M254.6 724.9h0M65.5 700.8h0M76.2 661.7h0M243.4 684.1h0M292.7 598.2h0M318 550h0M64.8 608h0M193.6 564.6h0M8.6 542.3h0M115.6 667.3h0M212.9 451.4h0M181.6 499.1h0M176.3 650.2h0M120.6 712.6h0M136.2 416.3h0M271.2 560.9h0M297.2 573.8h0M93.4 591.8h0M151.9 468.9h0M122.7 608.9h0M303.4 515.8h0M156.8 672h0M345.8 559.2h0" stroke="#cdcea2" stroke-width="2.0" stroke-linecap="round"/>
<path d="M260 575.7h0M224.9 624.8h0M326 547.4h0M46.4 504.4h0M61.9 539.3h0M134.7 636.6h0M32.9 484.9h0M179.1 697.5h0M200.6 511.8h0M276.5 566.6h0M211.6 719.7h0M194.3 598.2h0M199 433.7h0M191 582.9h0M195.7 533.4h0M231.5 440.4h0M284.6 699h0M194 684.9h0M176.1 528.2h0M253.1 700.3h0M210.4 737.3h0M97.2 513.4h0M191.7 465.9h0M149.2 560.2h0M198.5 726.7h0M129.2 449.3h0M176.6 726.1h0M264.2 453.3h0M96.7 578.2h0M279.6 677.4h0M202.8 620.6h0M124.2 524.7h0M129.7 552.3h0M321.6 544.4h0M69.4 666.8h0M98.4 602.4h0M324.4 543.4h0M109.4 519.3h0M297 482.2h0M166.5 580.1h0M136.5 447.2h0M152.5 711.5h0M253.2 471.4h0M243.3 491.4h0M121.4 429h0M250.9 568.5h0M52.3 625.7h0M155.4 658.5h0M171.4 702.7h0M297.7 554.1h0M60.2 453.2h0M52.1 492.1h0M313 539h0M136.3 605.8h0M187.2 438h0M96.7 616.9h0M79.1 692.1h0M150.5 532.7h0M171.1 675.5h0M278.4 708h0M261.9 604.8h0M170.9 647.5h0M194.4 491.2h0M170 702.1h0M111.3 731.9h0M201.9 667.6h0M256 507h0M124.2 453.2h0M104.4 684.1h0M106.7 484.1h0M18.8 596.7h0M68.6 696h0M115.7 604.7h0M266.2 487.6h0M213 738.7h0M80.7 535.6h0M64.5 534.4h0M307.8 584.2h0M179.6 430.8h0M245.8 641.3h0M227 584.1h0M52.5 479.2h0M25.8 615.6h0M237 513.9h0M227.9 596h0M35.4 628h0M248 730.3h0M237.1 662.9h0M20.1 562.3h0M201.4 581.8h0M88.8 636.2h0M23.3 600.3h0M216.4 707.2h0M294 466.4h0M203.9 661.2h0M291.2 687.1h0M126.5 438.9h0M331.8 517.9h0M314.6 485.1h0M132.5 426.1h0M237.1 682.5h0M74.5 462.3h0M234.9 681h0M84.9 485.3h0M257.3 571.1h0M207.2 733.9h0M120.6 634.1h0M48.4 541.8h0M22.2 598.7h0M193.7 449.8h0M108.6 649.7h0M168.9 696.4h0M255.6 442.1h0M184.8 644.3h0M225 618.8h0M205.9 533.8h0M327.6 543h0M33.5 617.3h0M68.5 618.4h0M158.5 746.3h0M34.3 587.9h0M55.9 630.6h0M40.8 512.4h0M211.2 557.9h0M23.5 504.3h0M207.5 485h0M118.2 703.9h0M222 715.1h0M121.3 544.5h0M276.2 691.6h0M177.6 732.2h0M146.5 684h0M108.8 477.1h0M276.7 533.7h0M147.8 689.5h0M178 567.6h0M78.1 498.1h0M328.3 625.6h0M79.3 504.8h0M318.1 574.8h0M68.6 543.8h0M161.7 569.4h0M96.6 689.6h0M52.5 670.6h0M202.7 718.4h0M146.7 606.6h0M136.7 420.2h0M22.1 624.3h0M64.6 590.9h0M220.1 455.9h0M329 508.4h0M88.5 657.1h0M286 505h0M151.7 547.4h0M42 525.2h0M264.7 439.8h0M133.6 509h0M79.7 677.9h0M197.8 495.5h0M337.5 579.5h0M56.4 467.9h0M110.8 562.7h0M146.4 624.9h0M143.6 558.9h0M209.4 717.1h0M258.5 607.2h0M111.2 435.2h0M223.3 540.2h0M304.7 619.9h0M116.9 511.2h0M136.8 549h0M199.6 721.2h0M150.2 669.8h0M332 532.6h0M295.9 594h0M167.9 480.2h0M254.5 479.7h0M31 615.6h0M68 615.3h0M324.3 566.8h0M95.2 566.1h0M193 746.3h0M254.8 515.3h0M336.7 538.7h0M181.9 457.2h0M253.1 587.4h0M77 535.9h0M211.7 425.4h0M138.5 444h0M144 446.3h0M278.7 601.8h0M172.8 568.6h0M214.9 660.7h0M147.4 728.1h0M64.8 675.9h0M163.8 633.3h0M231.3 583.5h0M100.4 725.3h0M300.6 487.7h0M109.5 452.4h0M147.9 710.1h0M167.9 432.6h0M91.9 682.9h0M30.5 564.9h0M297.5 476.7h0M95.3 618.9h0M59.3 683.4h0M186.7 733h0M27 582h0M119.5 672.3h0M215.7 413.7h0M191.2 585h0M167.8 699.5h0M158.2 529.3h0M163.8 687.4h0M97.4 716.5h0M309.4 483h0M206.7 692.8h0M73.5 656.6h0M105.8 509.9h0M241.5 652.3h0M80.2 454.5h0M294.2 561.5h0M188.2 696.6h0M313.4 588.3h0M203 466.7h0M55.2 671.7h0M81.1 636.1h0M188.3 535.3h0M274 460.2h0M107.7 439.9h0M331.6 564.1h0M314.6 506.9h0M41.5 602.3h0M144.6 550.4h0M135.9 595.3h0M159.2 680.3h0M103.3 729.3h0M80.2 505.6h0M298.9 675.6h0M215.6 417.1h0M73.7 470.1h0M96.4 429.3h0M193.6 655.2h0M292.6 546h0M58.5 504.5h0M155.2 683h0M260.8 553.5h0M156.5 705.3h0M133 522.5h0M73.2 654h0M100.9 724.2h0M71.4 609.7h0M93.7 519.7h0M275.7 652.4h0M313.8 488.2h0M186.8 515.7h0M216.2 722h0M299 641.3h0M302 607.7h0M218 693.7h0M281.6 664.2h0M97.1 504.9h0M83.5 505.9h0M223.9 740.9h0M285.1 599.2h0M217 586.3h0M199.5 627.4h0M294.3 669h0M99.3 442.4h0M119.6 656h0M156.7 686.5h0M114.5 543.4h0M138.1 651.2h0M295.3 685.8h0M55.2 559.3h0M81.6 476.9h0M291.1 611.1h0M310.7 475.6h0M227.1 597.2h0M100.2 627.4h0M232 505.8h0M258.1 682.3h0M151.9 590.9h0M201.9 440.3h0M186.5 627h0M253.4 504.3h0M279.8 623h0M98.1 669.6h0M150.3 575.2h0M128.4 614h0M238.2 605.5h0M222.5 415.4h0M142 720.7h0M296.6 675.4h0M127.8 419.5h0M229 709h0M30.9 545h0M169.1 527.8h0M81.7 445.9h0M289.1 642.2h0M131.7 421.7h0M231.5 456.2h0M321.6 528.1h0M79.9 451.8h0M107.9 603.1h0M206 434.5h0M226.3 419.9h0M58.4 665h0M306.7 542.1h0M183.5 707.9h0M158.6 601.7h0M274.2 534.2h0M169.6 445.6h0M168.6 601h0M61.9 688.3h0M58.3 529h0M135.6 495.4h0M315.9 500.2h0M187.3 672.9h0M177.6 593.8h0M231.1 536.4h0M122.4 584.8h0M112.1 715.6h0M152.2 552.2h0M23.3 554.4h0M333.7 536.7h0M32.1 596.4h0M68.6 532.7h0M323.2 648.7h0M205.2 654.2h0M193.4 703.3h0M61.1 663.5h0M221.8 712.8h0M195.5 484.1h0M277.9 638.5h0M167.6 587.8h0M144.9 638.5h0M204.4 426.4h0M181.9 479h0M59 521.8h0M81.9 505.3h0M308.8 495.8h0M291 676.2h0M144.5 605.8h0M73.7 595.1h0M111.6 709.5h0M141.9 741.6h0M10.3 544.2h0M221.5 681.1h0M129.2 511.7h0M158.5 713h0M238.1 545h0M19.2 585.9h0M187.1 469.6h0M120.1 667h0M127.5 663.5h0M54.6 479.4h0M93.5 435.5h0M118.9 585.6h0M250.3 710.2h0M332.4 645.5h0M253.8 443.8h0M240.8 570.4h0M188.8 729.3h0M44.5 650.9h0M246.9 670.5h0M219.8 699.7h0M152.9 726.6h0M189.6 704.9h0M191.7 466h0M85.6 689.1h0M219.7 561.6h0M152.1 642.5h0M78.9 699.8h0M281.5 528.2h0M338.5 614.2h0M130.2 623h0M31.8 656h0M234.8 528.6h0M214.7 421.8h0M15.2 552.1h0M226.6 715.4h0M49.5 650.2h0M46.6 628.5h0M300.6 535.5h0M258 657.8h0M161.7 530.2h0M231.3 475.1h0M31.4 580.5h0M169.6 686.4h0M87.8 436.8h0M301.3 626.4h0M340.3 582.3h0M310.7 643.1h0M234.7 453.6h0M214.6 639.5h0M259 475.8h0M345.1 610.8h0M32.4 520.7h0M323.1 509h0M184.8 464.2h0M277.3 639.2h0M163.6 610.3h0M263.8 442.2h0M192.4 655.2h0M221.9 667.1h0M112.5 577.2h0M269.1 636.2h0M93.7 476.2h0M183.4 738.6h0M107.6 602.3h0M150.3 676h0M261.9 428.2h0M245.3 602.5h0M225.5 622.2h0M270.8 703.4h0M25 656.3h0M294.7 639.4h0M167.2 462h0M135.6 412.8h0M142.6 456h0M260.6 484.1h0M112.7 663.3h0M100.5 452.3h0M280.7 609.3h0M254.7 699.6h0M124.5 712.9h0M58.8 504.8h0M164.1 418h0M172.3 738h0M76.8 574.7h0M10.7 545.6h0M275 671.5h0M114.5 489.1h0M99.2 537.3h0M101.2 717.5h0M27.5 626.4h0M41.9 567.8h0M139.7 662.6h0M189.2 535.8h0M69.4 455.8h0M259.5 627.2h0M56.7 565.8h0M152 440h0M72.7 508.7h0M234.2 687.6h0M235.6 504.1h0M325.7 578.1h0M144.8 537.8h0M79.8 609.2h0M82.2 642.8h0M193.9 598.4h0M156.3 650.8h0M230.9 469.1h0M232.9 630.5h0M240.4 479h0M257.9 534h0M286.1 485.8h0M324.9 609.9h0M253.3 436.4h0M142 716h0M72.6 707.6h0M204.4 746.2h0M334.1 551.2h0M107.4 620.6h0M159.2 709.4h0M114.8 642.7h0M294.2 687.4h0M69.1 558.1h0M254.3 467h0M14.1 548.9h0M138.5 718.1h0M21.9 631.7h0M164 706.7h0M260 517.6h0M174.4 610.1h0M237.3 675.9h0M142.9 433.4h0M328 652.6h0M228.9 552.3h0M99.5 466.8h0M206.3 484.1h0M29.5 656.7h0M249.8 676.3h0M101.6 424.3h0M290.2 510.1h0M245.5 661.3h0M236.1 554.3h0M60.9 515.8h0M260.3 492.9h0M264.8 590h0M99.2 439.6h0M99.1 717.9h0M94.7 575.4h0M206.2 415.9h0M76.6 696.7h0M47.2 655.2h0M240.3 585.3h0M344 540.7h0M104.8 673.1h0M344 583.3h0M252.6 458.5h0M53.1 602.2h0M96.3 449.9h0M158.2 718.5h0M107.4 675.3h0M166.3 620h0M198.4 701h0M339.3 624.1h0M267.3 505.2h0M287 703.9h0M235.7 467.3h0M224.8 487.8h0M275.3 620h0M107.3 661.9h0M340.3 541.7h0M207.4 708.1h0M264.7 716.7h0M189.2 624.8h0M105.8 712.5h0M252 447.9h0M98.2 545.8h0M335 601.6h0M131 683.5h0M136.1 581.7h0M53 636.2h0M152.1 710.2h0M247.1 638h0M234.8 503.4h0M164.3 466h0M138.3 577.8h0M47.1 635.5h0M168.5 569h0M167.7 410.2h0M79.7 523.2h0M267.6 550h0M146.4 446.5h0M182.8 676.3h0M190.6 742.1h0M117.9 588.8h0M126.7 689.5h0M326.1 531h0M115.3 545.3h0M90.5 455.3h0M273.6 696.4h0M191.4 519.3h0M108.4 464.5h0M217.4 588.3h0M179.1 681.9h0M41.7 656h0M215 607h0M18.9 546.9h0M194.9 608.6h0M85.8 440.1h0M123.4 487.6h0M184.9 426.5h0M314.9 563.2h0M324.4 577.9h0M172.5 521.1h0M112.8 684.7h0M232.9 697.9h0M28.3 628.5h0M146.7 546h0M121.1 424h0M303 498.6h0M53.8 652.7h0M160.6 659.5h0M47.9 496.5h0M206.4 606.8h0M53.5 620.4h0M235.3 659.9h0M208.4 658h0M167.2 695.1h0M159.3 415.1h0M293.4 669.4h0M88.6 683.5h0M244.3 599.7h0M248.1 539.5h0M196.8 510h0M212.6 722.7h0M249.3 551.7h0M330.5 635.5h0M320.6 527.9h0M250.1 519.2h0M73.4 674.5h0M250.2 461h0M83 536.8h0M218.2 606.7h0M307 527.8h0M267.9 535.2h0M219.8 679h0M149.5 646.6h0M249.1 612.6h0M217.5 461.8h0M320.9 488.8h0M143.3 435.9h0M310.7 618.9h0M203.2 594.1h0M105.9 423.4h0M21.4 620.8h0M225 602.9h0M300.7 458.4h0M204.1 605.6h0M275.9 716.4h0M19 545.2h0M291 451.3h0M268.5 608.9h0M216.8 508.7h0M122 437h0M35.8 534.8h0M257.8 652.2h0M296.3 694.9h0M60.8 702.5h0M17.6 520.5h0M262.1 583.1h0M312.9 630.2h0M114.5 704.2h0M247.3 543.2h0M155.1 443.3h0M256.4 652.4h0M254.2 589.9h0M225.7 492.1h0M239.9 534.4h0M236.4 729.2h0M216.2 652.9h0M220.5 720.4h0M106.9 714.5h0M149.6 463h0M251.1 527.9h0M138.3 641.6h0M260.3 432h0M111.6 706.8h0M113.7 622.3h0M71.3 683.3h0M163.8 628.5h0M49.1 607.3h0M237.5 485.2h0M24.1 523.4h0M122.7 466.1h0M285.5 690.7h0M214 571.9h0M84.3 608.2h0M242.6 427.1h0M92.8 516h0M211.5 649.5h0M287.8 592.6h0M243.4 446.6h0M256.5 639.2h0M243.7 646.1h0M143.6 490.1h0M68.9 544.6h0M115.1 453.4h0M58.4 463h0M98.1 670.3h0M300.2 513.1h0M199.3 687.9h0M42.4 608.2h0M253.6 518.7h0M278.9 572.1h0M76.6 586.6h0M317.7 532.6h0M309.7 565.4h0M264.5 522.8h0M261.9 504.3h0M257.6 710.6h0M190.3 674.4h0M273 581.4h0M126.7 552.6h0M198.7 469h0M233.2 579.3h0M160.3 527.3h0M237.3 474.3h0M154.5 589.9h0M99.9 667.9h0M275.6 474.1h0M177.6 473.8h0M69.6 703.9h0M264.7 557.7h0M76.8 528.7h0M34.7 564.3h0M276.7 532.9h0M159.9 406.2h0M33.5 590.1h0M83.3 703.1h0M101.3 681.5h0M303.7 513.5h0M278.8 705.7h0M114.3 726.6h0M47.7 509.9h0M317.7 508.7h0M202.4 719.1h0M252 714.8h0M88.7 711.3h0M65.6 485.8h0M322.9 494.1h0M239.7 587.5h0M304.5 522h0M339.3 595.3h0M91 700.8h0M75.8 705.7h0M93.3 613h0M209.9 581.3h0M64.5 598.8h0M263.9 566.5h0M337.4 619.9h0M278.2 682.1h0M70.2 632.6h0M61.9 675h0M219.8 737.4h0M137.9 587.8h0M96.6 628.8h0M303.4 592.6h0M115.2 676.3h0M313.3 550h0M169.9 412.1h0M80.8 560.7h0M290.6 535.4h0M42.9 498.5h0M217.7 446.7h0M224.5 554.3h0M167.5 506.5h0M143.4 705h0M332 523.8h0M237.9 640.1h0M263.3 545.1h0M81.7 472.8h0M162.9 477.3h0M46.2 477.7h0M316.5 641.4h0M169.1 706.9h0M144.8 595.4h0M147.9 744.4h0M325.9 509.1h0M185.6 743.8h0M204.6 555.2h0M132.1 424.6h0M197.6 422.2h0M326.4 540h0M131.2 496.5h0M123.1 603.5h0M90.8 594h0M27.2 589.8h0M53.6 498.4h0M322.6 587.5h0M128.6 641.1h0M206.9 590.2h0M58.3 464.8h0M66.1 589.1h0M154.5 550.2h0M149.4 731.3h0M297.7 536.2h0M165 588.2h0M237.2 684h0M101.9 662h0M149.3 548.2h0M170.9 546.2h0M241.9 444.8h0M298.7 553.8h0M145.5 461.2h0M248.6 457.7h0M295.3 602.9h0M266.8 593.3h0M306.7 492.1h0M125.4 691.6h0M19.8 560.7h0M294.9 683h0M325.7 632.9h0M221.9 432.3h0M79.5 564.8h0M233.1 567.4h0M115.7 684.2h0M285.4 646h0M154.4 544.4h0M93.6 584.3h0M43.5 674.1h0M61.1 611.9h0M50.7 683.5h0M27.7 516.5h0M229.9 448.4h0M144.6 729h0M320.1 636.5h0M178 470.1h0M136.7 648h0M299.2 647.9h0M147.4 738.4h0M308 468.3h0M301.9 682.5h0M155.2 628.5h0M167.8 607.1h0M77.4 632.4h0M224.1 549.8h0M182.5 677.2h0M275.6 505.1h0M174.2 604.1h0M188.4 574.5h0M234.4 588h0M310.7 651.7h0M36.5 534.9h0M54 671.3h0M193 601.5h0M294.2 583.4h0M100.8 578.1h0M176.3 689.7h0M232.1 577.7h0M303.8 515.4h0M212.3 651.6h0M68.5 466.8h0M265.4 449.9h0M124.6 576.5h0M218.5 526.7h0M35.3 544.2h0M19.1 557.1h0M171.9 718.6h0M127.4 642h0M38.5 588.4h0M254.4 471.3h0M154.7 738.5h0M195.9 619.9h0M84.6 667.5h0M6.7 563.2h0M34.3 659.5h0M128.6 476.5h0M203.6 428.7h0M151.8 444.9h0M333.2 551.3h0M319.1 550.8h0M199.5 518.2h0M192.5 651.3h0M149.6 601.8h0M297.3 500h0M128.2 541.3h0M320.8 648.2h0M269.4 545.2h0M119 704.6h0M204.1 530.9h0M72.3 614.9h0M138.9 520.1h0M64.5 542.6h0M212.8 415.2h0M333.7 553.8h0M178.4 443.1h0M90.7 526.9h0M197.3 566.7h0M273 651.1h0M263.7 547.2h0M137.5 537.7h0M187.3 486.6h0M165.2 651.5h0M159.1 425.7h0M294.2 570.2h0M264 693.3h0M239.7 612.5h0M201.5 695.2h0M78.4 562.4h0M149.6 491.9h0M204.2 597.4h0M97 629h0M194.2 622.5h0M94.5 615.8h0M337.3 519.9h0M328.3 563.8h0M310 496.6h0M307.6 575.7h0M166.3 501.3h0M185.5 470.8h0M160.6 692h0M307.7 644.5h0M220.1 700.1h0M84.1 434.8h0M300.3 491.5h0M124.8 580.3h0M254.8 471.1h0M33.2 525.6h0M230.5 569.8h0M249.5 474.3h0M154.6 737.8h0M121.7 484.8h0M180.8 474.6h0M38.4 533.5h0M324.8 596.1h0M203.5 732.9h0M330.1 582.1h0M324.1 574h0M307 665.9h0M19.8 572.5h0M270.8 465.1h0M275.3 631.2h0M241.6 476.4h0M251.7 700.5h0M183.7 577.2h0M200.6 677h0M307.2 516.8h0M55.3 477.4h0M272.1 531.3h0M87.2 436.6h0M336.3 606.2h0M243 715.3h0M217.7 696.8h0M164.1 434.5h0M98 702.1h0M143.7 418.1h0M33.4 666.7h0M80.6 436.3h0M130 737.8h0M246.8 667.5h0M257 489.1h0M33.2 522.2h0M88.9 633.4h0M184.7 496.4h0M145.3 411.2h0M200.8 506.7h0M285.2 484.4h0M341.2 614.7h0M149.2 434.5h0M48.8 474.5h0M133.4 608.2h0M107.3 604.2h0M150.6 679.8h0M163.9 582.9h0M170.8 535.1h0M330.5 547.9h0M244.2 705.4h0M247.8 536.7h0M137.6 413.3h0M67.8 473h0M122.2 693.1h0M31.5 532.5h0M44.1 500.1h0M295.4 513.4h0M169.9 510.7h0M22.6 648.2h0M64.2 469.6h0M161.2 730.9h0M133.4 618.8h0M239.1 709h0M35.3 653.8h0M82.4 441.6h0M286.1 708.7h0M174.9 581.4h0M333.4 510.5h0M298 602.3h0M50.2 575.2h0M46.2 568.5h0M125.8 488.7h0M197.9 458h0M187.1 748.1h0M168.7 582h0M113.5 736.1h0M330.2 596.4h0M161.1 723.4h0M287.3 563h0M87.9 718.3h0M323.7 603.3h0M5.1 574.2h0M152.6 515.2h0M172.4 653.8h0M16.3 600.8h0M279.7 701.5h0M300.4 625.4h0M47.7 580.8h0M85.9 555h0M249 723.4h0M123 682.8h0M228.9 552.6h0M224.7 518.8h0M157.3 440.5h0M14.3 592.6h0M175.5 587.7h0M211.3 425.6h0M203.3 700.4h0M254.2 459.6h0M230.8 564h0M217.5 579.3h0M250.2 462.3h0M213.3 431.2h0M81.6 532h0M155.4 474.6h0M55 539.6h0M130.2 533.1h0M249.5 493h0M148.9 574.9h0M105 711.8h0M224.4 572.6h0M86.7 452.3h0M13.7 604.9h0M73.5 680.1h0M122.9 449.8h0M56.1 602h0M272.6 588.2h0M299.3 684.3h0M105.9 625.5h0M244 728.1h0M287.5 688.5h0M220 619.1h0M281.7 464.8h0M332.9 583.9h0M266.1 660.3h0M261.5 587.9h0M166.2 705.7h0M326.7 525.2h0M96.2 560.9h0M163.6 553.8h0M296 685.7h0M11.5 612.5h0M229.5 486.6h0M253.3 491.4h0M43.9 509.1h0M183.6 560.6h0M326.6 555h0M247.4 537.3h0M239.4 722.9h0M126.7 706.1h0M196.3 431.9h0M226 558.6h0M37.9 579.7h0M163.9 528.4h0M74.7 687.4h0M204.9 697.9h0M198.7 443.7h0M211.2 411.6h0M330.8 550.4h0M272.1 558.6h0M127.2 484.5h0M201 733.1h0M137.2 715h0M167.5 643.8h0M127.6 468.2h0M28.2 574.5h0M223.9 582.5h0M212.8 547.5h0M23.3 552.9h0M136.3 464.9h0M190.2 713h0M150.8 657.7h0M246.3 559.9h0M50.1 690.8h0M134.3 568.2h0M276.3 467.5h0M231.9 692.5h0M196.5 704.6h0M279.4 713.5h0M317.5 488.2h0M238 615.3h0M142.9 601.7h0M187.5 575.4h0M94.4 563.8h0M42.1 478.7h0M146.3 420.2h0M279.5 648.5h0M307.6 646.5h0M251.6 504.4h0M100.6 470.5h0M67.3 444.6h0M312.8 472.5h0M247.2 651.3h0M87.7 694.3h0M117.5 541.6h0M331.1 605.9h0M122.1 556.8h0M238.5 432h0M161 521.3h0M181.3 521.2h0M124.6 596.3h0M127.5 642.8h0M324.8 611.5h0M28.6 505.2h0M42 647.2h0M84.7 513.9h0M46 502.8h0M275.1 507.2h0M45 476h0M75.9 687.6h0M79.6 581.9h0M275.4 437.6h0M211.4 559.8h0M259.7 698.7h0M184.6 416.3h0M226.4 683.1h0M245.1 732.9h0M129.4 609.8h0M116.1 489.7h0M28.8 513.3h0M211.5 591h0M92.1 539.7h0M115.6 526.4h0M283.9 446h0M116.5 726.1h0M41.3 676.5h0M167.6 633.2h0M159.5 666.7h0M294.3 594.5h0M165.5 722.8h0M252.6 721.5h0M125.8 703.6h0M165.7 569.3h0M229 627.9h0M66.6 619.9h0M210.1 669.8h0M46.4 638.7h0M321.7 542.8h0M113.4 662.1h0M302.3 657.7h0M246.5 555.7h0M171.3 419.5h0M316.5 514.1h0M218 417.6h0M292.9 685.7h0M41.6 503.1h0M314.5 644.7h0M266.1 526.5h0M153.3 669.7h0M327.7 607.2h0M78.3 575.8h0M144 742.1h0M243 667.6h0M281.3 461h0M248.4 707h0M77.5 710.5h0M206.4 628.1h0M202.1 577.1h0M69.8 579.6h0M31.6 503.2h0M261.6 528.7h0M104.6 730.4h0M166.6 442.1h0M287.4 506.3h0M49.6 645.8h0M280 463h0M210.2 592.5h0M317.2 621.9h0M159.9 742.8h0M36.8 645.9h0M100.2 523h0M187.2 647.6h0M276.2 447.8h0M279.5 469.6h0M119.1 586.8h0M33.6 558.6h0M40 521.9h0M62.6 571.3h0M209.2 435.4h0M72.2 440.7h0M319.5 614.9h0M47.9 553.5h0M249 591.5h0M135.1 481.2h0M193.8 623.9h0M80.9 546.1h0M313.4 564.7h0M234.9 535.4h0M172.1 635.5h0M23.2 548.4h0M91.6 583.3h0M10 617.6h0M219.1 737.5h0M214.5 714.4h0M276.2 468.2h0M68 708.1h0M226 512.2h0M141.8 625.8h0M326.5 577.2h0M99.2 690.2h0M297.3 597.8h0M343 557.3h0M168.2 594h0M157.2 435.6h0M235.8 430.9h0M231.6 566.6h0M174 540h0M280.1 686.1h0M261.2 562.6h0M234.4 709.3h0M105 551h0M266.6 713.5h0M171.6 456h0M95.4 545h0M150.7 701.3h0M51.3 553h0M60.1 670.4h0M13.1 610.9h0M210.1 724.9h0M130.3 504h0M221.3 634h0M85.4 504.7h0M100.7 526.5h0M206.8 428.8h0M209 721.2h0M250.9 470.5h0M253.2 523.7h0M200.7 546.7h0M166.6 420.9h0M275.1 473.3h0M333.9 603h0M128.9 542.8h0M347.6 574.2h0M134 509.9h0M252.8 482.5h0M102.3 625h0M163.6 427.6h0M167.6 518.2h0M199.8 464.1h0M194.2 411.6h0M234.7 447.2h0M82.2 687.9h0M222.9 436.5h0M215.4 732.5h0M66.1 572.6h0M159.9 585.9h0M252 503.8h0M177.1 608h0M271.5 438.3h0M197.6 568.7h0M219.6 568h0M141.5 586.1h0M121.4 643.9h0M193.1 407.3h0M92.2 541.7h0M42.5 636.1h0M87.4 614.9h0M233 636.6h0M16.9 545.3h0M294.2 654.1h0M108.8 568h0M168 686h0M241.3 707.8h0M208.3 530.4h0M228.3 718.8h0M174.4 485.2h0M302.1 688.8h0M234.4 713.3h0M40.4 649.4h0M176.3 457.3h0M133.9 698.8h0M215.6 595.8h0M148.8 567.6h0" stroke="#c9caef" stroke-width="2.0" stroke-linecap="round"/>
<path d="M171.4 549.4h0M291.3 492.5h0M227.9 458.7h0M308.4 546.5h0M167.6 714.4h0M314.1 488.1h0M64.4 683h0M35.8 626.5h0M218.9 415h0M170.6 629.1h0M203.9 473.2h0M122.8 607.3h0M210.4 565.1h0M57.7 567.9h0M34 529.7h0M221.4 514.7h0M109.9 508.5h0M268.6 527.5h0M281.4 702.8h0M73.9 576.6h0M90.8 553.7h0M207.9 608.6h0M46 540.9h0M218.4 580.3h0M37.7 660.5h0M249.1 426.2h0M288 701.6h0M160.8 498.2h0M112.7 687.8h0M149 465.7h0M323.1 499.6h0M218.8 554.9h0M60.5 673.1h0M120.9 491.1h0M169 743.6h0M302.2 504.1h0M148 618.8h0M248.9 505.9h0M126.1 602.3h0M110.6 721.5h0M108.9 462.4h0M143.1 431.4h0M80.9 679.9h0M151.1 425h0M234.4 695.8h0M91.1 533.9h0M227.1 547.1h0M57.9 615.8h0M324.2 514.6h0M145.3 738.6h0M216.1 567.9h0M193.2 684.8h0M312.8 632.8h0M174.7 471.6h0M173.8 735.2h0M205.7 589.1h0M287.9 618.4h0M317 522.2h0M272.2 569.2h0M228.8 616.9h0M218.9 696.2h0M124.4 659.9h0M38.1 614.2h0M248 714.1h0M153.9 663.8h0M135.1 540.1h0M261.4 667.1h0M82 666.4h0M162.3 420h0M317.6 576.2h0M49.9 672.8h0M207.9 677.6h0M260.2 470.8h0M214.1 662h0M322.5 521.2h0M336.9 627.9h0M115.4 476.9h0M297.3 687.8h0M144.9 531.8h0M168 420.2h0M231.4 691.5h0M181.1 582.8h0M78.1 614.5h0M324.7 638.7h0M313.5 494.3h0M168 652.7h0M220.6 618.3h0M269.2 635.8h0M286.4 580.1h0M166.5 422.9h0M89.6 467h0M163.3 451.3h0M137.8 739.1h0M292.9 635.3h0M16.4 562.4h0M138.2 741.5h0M54.1 532.5h0M148.7 459.4h0M188.7 448.1h0M195.5 564.8h0M134.7 475.7h0M290.4 480.2h0M127 547.2h0M323.8 654.3h0M104 528.9h0M162.6 505.8h0M108.8 513.7h0M302.9 561.9h0M229.3 707.3h0M278 595.3h0M208.4 575.5h0M319.7 549.1h0M82.1 498.6h0M163.6 664.1h0M120 427.4h0M269.5 452.5h0M156.5 470.5h0M198.9 539.5h0M277.9 509.7h0M111 431.4h0M139.2 697.5h0M164.8 501.8h0M230 636.8h0M175 732.9h0M29.1 661.8h0M266.2 593.1h0M254.6 473.6h0M185.8 507.1h0M228.7 457.3h0M94.7 716.2h0M50.8 670.3h0M53.2 526.5h0M328.6 516.8h0M61.2 573h0M5.7 591.4h0M289 643.7h0M287.5 552.1h0M302 674.4h0M105.3 426.2h0M60.5 669.8h0M227.9 625.6h0M140.9 672.7h0M235.5 419.3h0M293.4 564.9h0M246.6 590.5h0M91.3 652.9h0M171.2 445.1h0M162.6 694.7h0M258.7 524.8h0M257.2 425.1h0M124.7 672.8h0M182.1 582.2h0M179.3 528.6h0M18.7 572.7h0M35.9 479.5h0M193.4 671.4h0M114.4 623.1h0M332.9 613h0M105.2 466.8h0M44.5 619.8h0M134 699.3h0M128.1 656h0M264 712.8h0M229.2 734.4h0M169 644.8h0M133.7 483.1h0M120 427.1h0M100.2 553.4h0M228.8 599.1h0M306.5 618.1h0M129.9 517.1h0M68.1 626.7h0M337.9 576.5h0M46.5 598.7h0M20.9 517.1h0M126.7 520h0M244.5 645.9h0M137.6 626h0M167.1 559.2h0M310.5 568.6h0M261.4 658.8h0M78.2 583.8h0M186.6 673.2h0M20.7 535.6h0M199.1 499.8h0M181.2 410h0M181.9 730.1h0M279.5 664.8h0M143.7 595.8h0M126.1 439.6h0M91.3 564.3h0M318.5 511.8h0M42.2 513.2h0M14.8 632.1h0M234.5 555.2h0M122.9 662.9h0M263.1 490.4h0M170 738.1h0M227.8 596.8h0M207.1 460.9h0M223.6 543.8h0M271.5 707.3h0M219.8 581.9h0M57.5 535.9h0M310 635.5h0M276 509.8h0M200.6 702.7h0M169.3 691.3h0M186 729.9h0M196.6 593.8h0M298.5 623.1h0M143.3 578.4h0M246.8 717.3h0M112.1 585.3h0M222.2 719.2h0M80.1 454.8h0M265.8 584.9h0M67.6 625.8h0M139.6 713h0M181.6 624h0M140 508.4h0M269.5 666.8h0M257.9 436.1h0M314.6 477.9h0M145.3 649.6h0M33.5 627.9h0M272.7 696.2h0M175.7 597h0M305.6 484h0M163.8 660.6h0M173 405.6h0M67.8 630.8h0M337.9 577.9h0M207.4 504.9h0M95.8 594.4h0M285.9 498h0M124.2 611.4h0M230.4 418h0M226.9 508.1h0M91.6 585.4h0M278.3 580.1h0M224.5 699.2h0M37.8 587.7h0M229 515.5h0M43.1 671.7h0M333.4 542.9h0M196.1 659.9h0M19.6 531.7h0M70.8 650.6h0M121.7 706.4h0M310.4 469.1h0M334 577.1h0M216.8 415.8h0M268.9 446.6h0M148.2 508h0M115.9 458.5h0M200.4 684.6h0M213.5 623.3h0M261.7 672.7h0M223.7 691.3h0M260 497.8h0M228.2 432.2h0M304.7 490.2h0M263 591.7h0M253.4 493.1h0M248.2 530.5h0M329.6 561.8h0M156.8 746.1h0M269.6 501.5h0M20.6 595.9h0M205.8 481.6h0M69.6 572.5h0M143.2 739.5h0M289.4 601.2h0M118.6 564.8h0M310.6 638.6h0M247.1 732.7h0M32.8 544.6h0M142.4 431.3h0M104.6 627.4h0M64.8 495.4h0M45.3 660.7h0M145.2 481h0M240 518.8h0M221.9 720h0M264 448.1h0M302.3 610.9h0M64.8 487.2h0M288.8 481.8h0" stroke="#bfe0ba" stroke-width="1.9" stroke-linecap="round"/>
<path d="M181.7 457.1L83.1 668.4M181.7 457.1L72.0 660.0M83.1 668.4L112.5 554.5M59.0 525.6L142.7 534.8M59.0 525.6L112.5 554.5M295.0 527.5L142.7 534.8M295.0 527.5L112.5 554.5M71.7 570.5L112.5 554.5M85.9 581.2L112.5 554.5M85.9 581.2L75.0 595.0M83.1 668.4L157.1 656.5M183.3 567.9L152.2 584.3M183.3 567.9L171.8 592.7M183.3 567.9L204.9 584.4M183.3 567.9L190.9 612.4M152.2 584.3L162.0 632.8M171.8 592.7L162.0 632.8M204.9 584.4L223.0 575.5M223.0 575.5L244.0 591.0M211.0 623.0L223.0 575.5M211.0 623.0L204.9 584.4M190.9 612.4L171.8 592.7M271.3 664.6L272.1 614.6M271.3 664.6L225.4 651.7M271.3 664.6L248.0 633.0M272.1 614.6L262.0 596.0M272.1 614.6L275.0 594.0M272.1 614.6L286.0 597.0M225.4 651.7L217.0 636.0M271.3 664.6L246.0 628.0" stroke="#a6a6a6" stroke-width="2.6" fill="none" stroke-linecap="round"/>
<path d="M181.7 457.1L207.6 493.4M59.0 525.6L207.6 493.4M295.0 527.5L207.6 493.4M183.3 567.9L223.0 575.5M204.9 584.4L190.9 612.4M162.0 632.8L211.0 623.0M192.7 519.0L181.0 517.0" stroke="#a3d38a" stroke-width="2.2" fill="none" stroke-linecap="round"/>
<path d="M205.0 489.7L201.9 488.0L204.3 486.3ZM203.2 494.4L200.4 496.5L199.8 493.6ZM211.8 495.0L215.3 494.8L214.2 497.6ZM85.0 664.3L85.0 660.8L87.7 662.1ZM111.4 558.9L112.0 562.3L109.1 561.6ZM138.2 534.3L134.9 535.4L135.2 532.5ZM108.5 552.4L105.0 552.2L106.4 549.5ZM147.2 534.6L150.3 532.9L150.5 535.9ZM117.0 553.8L119.9 551.9L120.3 554.9ZM152.7 657.2L149.7 659.2L149.3 656.2ZM272.0 619.1L273.5 622.3L270.5 622.3ZM229.7 652.9L233.2 652.3L232.4 655.2ZM250.7 636.6L253.8 638.3L251.4 640.1Z" fill="#1f8a84"/>
<circle cx="292.1" cy="462.3" r="4.5" fill="#f39130"/>
<circle cx="325.1" cy="497.3" r="4.5" fill="#f39130"/>
<circle cx="295" cy="527.5" r="5.9" fill="#f39130"/>
<circle cx="339.4" cy="547" r="4.5" fill="#f39130"/>
<circle cx="19" cy="534.5" r="4.5" fill="#f39130"/>
<circle cx="14.5" cy="591.6" r="4.5" fill="#f39130"/>
<circle cx="342.8" cy="590.7" r="4.5" fill="#f39130"/>
<circle cx="248" cy="633" r="3.6" fill="#f39130"/>
<circle cx="328.5" cy="638" r="4.5" fill="#f39130"/>
<circle cx="25.9" cy="644.2" r="4.5" fill="#f39130"/>
<circle cx="83.1" cy="668.4" r="6" fill="#f39130"/>
<circle cx="53.4" cy="684.2" r="4.5" fill="#f39130"/>
<circle cx="300.5" cy="679.8" r="4.5" fill="#f39130"/>
<circle cx="264" cy="716" r="4.5" fill="#f39130"/>
<circle cx="103.7" cy="722.6" r="4.5" fill="#f39130"/>
<circle cx="209.5" cy="736.2" r="4.5" fill="#f39130"/>
<circle cx="158.1" cy="738.3" r="4.5" fill="#f39130"/>
<circle cx="208.5" cy="416.3" r="4.2" fill="#969b1e"/>
<circle cx="157.6" cy="418.3" r="4.2" fill="#969b1e"/>
<circle cx="113.1" cy="428" r="4.2" fill="#969b1e"/>
<circle cx="255.2" cy="434.4" r="4.2" fill="#969b1e"/>
<circle cx="67.4" cy="459.8" r="4.2" fill="#969b1e"/>
<circle cx="271.3" cy="664.6" r="5.6" fill="#969b1e"/>
<circle cx="181.7" cy="457.1" r="5.6" fill="#9297de"/>
<circle cx="35.6" cy="493.8" r="4" fill="#9297de"/>
<circle cx="207.6" cy="493.4" r="4" fill="#9297de"/>
<circle cx="192.7" cy="519" r="4" fill="#9297de"/>
<circle cx="59" cy="525.6" r="5.6" fill="#9297de"/>
<circle cx="142.7" cy="534.8" r="4" fill="#9297de"/>
<circle cx="112.5" cy="554.5" r="4" fill="#9297de"/>
<circle cx="71.7" cy="570.5" r="4" fill="#9297de"/>
<circle cx="85.9" cy="581.2" r="4" fill="#9297de"/>
<circle cx="183.3" cy="567.9" r="4" fill="#9297de"/>
<circle cx="223" cy="575.5" r="4" fill="#9297de"/>
<circle cx="204.9" cy="584.4" r="4" fill="#9297de"/>
<circle cx="152.2" cy="584.3" r="4" fill="#9297de"/>
<circle cx="171.8" cy="592.7" r="4" fill="#9297de"/>
<circle cx="190.9" cy="612.4" r="4" fill="#9297de"/>
<circle cx="162" cy="632.8" r="4" fill="#9297de"/>
<circle cx="157.1" cy="656.5" r="4" fill="#9297de"/>
<circle cx="272.1" cy="614.6" r="4" fill="#9297de"/>
<circle cx="225.4" cy="651.7" r="4" fill="#9297de"/>
<g font-style="italic" font-weight="bold" font-size="9.3" fill="#111">
<text x="190.8" y="412.9">TaPHYC-5A</text>
<text x="129" y="415.9">ODDSOC2-3A</text>
<text x="96.6" y="424.3">TaPHYC-5B</text>
<text x="216.3" y="431.1">ODDSOC2-4D</text>
<text x="167.5" y="453.9">TaSTK-D1</text>
<text x="50.9" y="456.5">TaPHYC-5D</text>
<text x="254.5" y="459.2">TaAP2-2A</text>
<text x="22.4" y="490.4">Ppd1-2D</text>
<text x="196" y="493.7">ZNF10-7B</text>
<text x="287.5" y="493.4">TaAP2-2B</text>
<text x="177.8" y="515.8">ZNF10-5A</text>
<text x="280.4" y="523.6">WAG1-1D</text>
<text x="45.3" y="521.6">WAG2-3A</text>
<text x="2.5" y="531">TaGRP2-4D</text>
<text x="130.2" y="532.9">ZNF7-5B</text>
<text x="299.4" y="543.6">TaGRP2-4B</text>
<text x="99.7" y="550.8">ZNF18-5D</text>
<text x="165.8" y="564.9">ZNF18-5B_1</text>
<text x="56.4" y="567.6">ZNF18-5D</text>
<text x="205" y="572.6">ZNF18-5B_3</text>
<text x="70.7" y="577.7">ZNF12-5D</text>
<text x="138.8" y="580.7">ZNF8-5B</text>
<text x="191.2" y="584.5">ZNF7-5B</text>
<text x="304.6" y="586.3">TaAP2-2D</text>
<text x="1.3" y="588.4">VRT2-7D</text>
<text x="154.8" y="592.9">ZNF18-U</text>
<text x="176.4" y="609.2">ZNF12-5B</text>
<text x="257" y="611">ZNF10-5B</text>
<text x="234.4" y="629.7">ZNF1-2A</text>
<text x="145" y="629.4">ZNF11-5B_2</text>
<text x="288.2" y="634.4">TaGRP2-4A</text>
<text x="12.7" y="640.8">VRN1-D</text>
<text x="210.3" y="648.6">ZNF10-5D</text>
<text x="139.3" y="653.2">ZNF11-5B_1</text>
<text x="255.8" y="660.9">TaFDL2-1B</text>
<text x="69.9" y="664.9">VRT2-7A</text>
<text x="259.7" y="676.4">TaAGL42-3A</text>
<text x="40.7" y="680.7">VRN1-B</text>
<text x="250" y="712.3">PPD1-2A</text>
<text x="90.3" y="719.4">PPD1-1A</text>
<text x="196" y="732.6">VRN1-A</text>
<text x="145" y="735.4">PPD1-1D</text>
</g>
<text x="5.5" y="401" font-size="29.5" font-weight="bold">f</text>
<text x="31.5" y="420.8" font-size="14.3" fill="#231815" font-weight="bold">V0</text>
<g font-size="9.5" fill="#111" stroke="#111" stroke-width="0.2">
<text x="3.8" y="709.8">9324 links;</text>
<text x="3.8" y="721.0">6779 nodes</text>
<text x="3.8" y="732.2">(4396 genes,</text>
<text x="3.8" y="743.4">2383 distal regulator)</text>
</g>
<circle cx="532" cy="578" r="173" fill="url(#gg)"/>
<path d="M559 480L579 640M632 578L490 702M477 634L498 447M518 472L648 538M580 705L457 599M578 446L597 633M645 653L442 614M630 643L537 659M600 557L549 697M438 691L533 473M448 471L681 537M644 598L543 659M410 502L498 478M594 634L471 613M460 585L422 488M490 452L542 528M474 679L514 498M487 622L398 496M654 621L518 669M685 560L623 691M485 493L665 618M561 482L651 615M423 648L454 570M464 583L557 532M595 640L470 623M459 601L583 499M589 524L584 664M443 590L467 527M573 465L685 571M633 525L590 639M424 658L437 462M507 673L493 618M592 590L446 671M441 686L534 522M573 686L452 528M553 478L599 652M585 616L495 689M440 505L526 518M610 639L413 663M489 532L662 530M659 652L432 685M629 501L628 672M628 689L437 559M546 500L658 584M674 638L464 621M663 526L608 601M677 547L552 627M633 638L433 619M619 596L558 626M683 571L473 688M461 685L473 597M434 548L543 522M579 602L483 672M571 631L482 677M476 625L426 549M589 542L589 639M540 712L422 570M566 662L463 646M445 643L577 466M504 445L621 584M498 520L637 628M492 614L402 591M577 618L451 615M663 605L512 649M458 546L628 549M521 511L633 644M645 684L536 633M639 519L532 706M475 499L565 515M617 474L555 647M420 504L538 449M655 574L482 701M576 607L470 642M571 613L384 565M663 533L558 627M568 622L541 627M585 479L605 548M578 629L440 702M450 651L471 479M468 586L447 461" stroke="#eaeaf0" stroke-width="0.35" fill="none"/>
<path d="M488.6 517.2h0M690.8 536.7h0M499.6 557.6h0M458.6 563.1h0M365.6 559.8h0M394.2 677.2h0M374.4 530.4h0M568 671h0M455.3 476.4h0M457.6 484.2h0M516.4 560.4h0M466 606.9h0M647.8 684.2h0M569.1 657.6h0M546.3 630.4h0M696.8 618.4h0M523.1 664.4h0M499 552.9h0M544.4 457.2h0M521.4 565.2h0M384.2 528.5h0M592.5 726.4h0M447.3 452h0M481.1 626h0M547 444.2h0M464.5 718.3h0M607.9 539.8h0M432.8 592.6h0M618.4 668h0M466 682.5h0M636.3 584.7h0M544.1 510.7h0M449.9 491.1h0M477.2 735.7h0M404.7 533.1h0M518.1 517.6h0M494.8 527.4h0M537.9 562.8h0M621.9 720.8h0M579.7 672.6h0M551.7 722h0M647.3 690.7h0M520.9 477.8h0M682.5 618.8h0M370.8 538.7h0M412.3 683.7h0M427.1 666h0M597.8 697.3h0M588.8 450.7h0M612.3 714.9h0M428.5 598.5h0M524.7 486.1h0M602.8 675.3h0M650.9 686.8h0M497.2 624.6h0M544 457.9h0M507.5 662.7h0M492 434.3h0M575.3 642.5h0M411.4 563.9h0M478.2 690.5h0M465 560.3h0M545.8 707h0M544.2 470h0M467.1 653.2h0M622.1 566h0M639.5 643.6h0M388.5 481.7h0M381.5 507.2h0M471 439.2h0M541.7 616h0M638.6 644.8h0M365.3 562.4h0M637.6 455.7h0M401.1 509.2h0M466.5 658.3h0M544.9 667.8h0M399.2 624.9h0M532 546h0M415 531.7h0M466.1 690.6h0M413.3 692.6h0M361.5 600h0M418 576.3h0M361.9 596.7h0M414.1 476.6h0M541.5 544.3h0M567.5 539.6h0M507.5 695.9h0M599.9 474.6h0M500.6 430.1h0M473.7 645.6h0M542.5 510.3h0M495.1 604h0M608.2 461.4h0M519.3 540.8h0M493.8 420.3h0M438.1 610h0M574 523.2h0M548.8 665.6h0M541 553.4h0M509.7 650.5h0M688.2 576.2h0M516.5 492.9h0M483.1 543.1h0M542.4 456.3h0M483.2 627.1h0M550.8 533.7h0M523.4 439.8h0M386.3 662.3h0M496.9 741.4h0M488.3 416.3h0M476.2 708.6h0M400.1 564.3h0M406.8 691.8h0M457.7 440.1h0M624 684h0M659.6 690.6h0M485.5 621.4h0M520.7 687.5h0M598.1 539.1h0M440.4 519h0M443.8 539.1h0M662.4 624.3h0M563.7 585.9h0M500.1 440.6h0M501.8 626.3h0M598.9 576h0M667.6 563.6h0M631.2 603.2h0M512.6 517.4h0M368.9 617.6h0M586.2 580.3h0M466.9 448h0M560.1 565.2h0M460 726.3h0M684.6 655.4h0M660.3 499.6h0M510.5 457.3h0M645.4 492.3h0M590.4 606.1h0M432.3 514.8h0M591.9 740.4h0M597.4 557.6h0M565.2 555.1h0M585.1 623.7h0M611.8 554.7h0M459.1 443.7h0M529.1 737.3h0M596.7 616.4h0M461 579.9h0M554.9 639h0M519.2 553.3h0M476 558.4h0M571.3 477.6h0M384.2 573.4h0M641.6 456.2h0M449.7 508.8h0M606.8 517.6h0M430.2 649.8h0M433.2 487.9h0M504.3 639h0M407.9 649.3h0M584.2 532h0M575.5 512.5h0M362.7 572.8h0M545.9 607.8h0M442.9 709.5h0M509 580.1h0M642.6 564.6h0M460.8 482.8h0M507.8 681.7h0M558.7 549.8h0M661.4 497.5h0M388.8 627.9h0M405.1 584.4h0M537.5 653.7h0M591.9 447.5h0M418.3 629h0M470.4 435.9h0M578 732.1h0M396.5 639.6h0M624.7 449h0M649.1 671.7h0M491.6 521.7h0M507.5 702.6h0M608.5 520.5h0M419.1 668.1h0M593.5 535.6h0M564.9 497.2h0M609.3 710.7h0M555.4 505.9h0M561.6 500.3h0M414.1 486.3h0M456.9 638.8h0M610.2 510.5h0M564.6 615.6h0M621.3 463.6h0M511 654.8h0M440 590.2h0M526.7 534.4h0M654.5 579.3h0M418.7 631.3h0M544.6 548.4h0M607.2 596.5h0M679.6 626.7h0M423.4 473.9h0M632.2 661.6h0M546.3 461.6h0M509.6 676.1h0M577.1 698.2h0M405.5 608.2h0M495.5 639.9h0M616.6 517.3h0M630.9 572.5h0M393 660.1h0M508.4 604.5h0M491 510h0M368 612.8h0M409.5 538.5h0M640.6 484.1h0M404.7 575.2h0M595.8 723.4h0M432.2 464.7h0M541 516.8h0M584.4 476.6h0M426.5 642.3h0M552.5 706.8h0M595 503.9h0M674.7 564h0M624.5 479.9h0M661.2 490.9h0M555.2 633.1h0M701.3 600.4h0M514.7 448h0M427.2 702.1h0M433 712.2h0M692.3 634.8h0M464.7 728h0M526.8 465.6h0M667.3 519.2h0M607.5 618.5h0M629.4 479h0M493.9 455.8h0M390.4 537.8h0M430 585.5h0M522.9 706.3h0M645.2 618.2h0M544.4 527.3h0M413.9 611.7h0M635.1 660.5h0M589.8 583.6h0M609.2 690.1h0M423.8 672.4h0M508.6 412.9h0M510.2 738.4h0M582.7 722.7h0M474.6 679.8h0M469.7 496.2h0M466.6 425.5h0M427.3 622.5h0M492.6 475.2h0M680.8 542.2h0M536.1 420.7h0M549.5 410.1h0M547.9 416.2h0M484.7 585.4h0M522.5 648.8h0M415 608.8h0M485.7 602.8h0M610.3 479.8h0M496.6 734h0M426.8 557.5h0M440.9 624.4h0M695.2 572.5h0M543.7 732.8h0M403.9 628.7h0M484.8 413h0M420.4 567.6h0M379 655.6h0M439.3 443h0M406.6 531.4h0M607 668.3h0M553 471.5h0M517.7 445h0M702.6 600.3h0M484.9 619.7h0M607.1 479.4h0M388.8 630.8h0M479.3 626.1h0M447.8 713h0M380.3 613.9h0M442.8 718.7h0M400.5 597h0M676.2 538h0M580.3 657.5h0M552.2 618h0M500.4 507.1h0M634.5 611.7h0M530.1 653.3h0M396.1 662.5h0M528.9 502.2h0M477.9 628.7h0M479 574.1h0M640.5 693.9h0M465.5 498.4h0M548.4 717.1h0M453.8 566.2h0M571.7 622h0M459.4 644.9h0M460.5 457.3h0M383.1 564.5h0M418.4 546.4h0M413.2 485.5h0M507.5 748.6h0M660.7 638.9h0M493.8 742.2h0M606.9 593.8h0M669.7 477.2h0M560.1 486.4h0M640.4 466.4h0M454.1 669.3h0M414.5 459h0M679.8 503.4h0M570.3 419.5h0M584.2 731.3h0M632.2 588.3h0M609.6 717.3h0M616.4 540.1h0M536 723.9h0M522.5 665.3h0M539.7 728h0M481.7 469.4h0M625.9 657.3h0M646.6 671.9h0M379.8 620h0M533.6 527.7h0M400.1 512.5h0M696 606.7h0M427.4 670.4h0M580.4 446h0M624.1 455.7h0M459.3 528.5h0M599.7 725.7h0M537.4 675.9h0M544.7 542.8h0M600.9 442.8h0M441.1 721.3h0M582.9 554.5h0M519.7 407.9h0M413.9 704.5h0M603.9 733.8h0M634.1 556.2h0M583.3 608.5h0M418.6 569.1h0M401.5 666.2h0M440.5 525.4h0M550.2 514.1h0M407.4 481.5h0M549.8 742.2h0M496.7 429.3h0M508.5 496.3h0M594.7 629.3h0M466.1 548h0M481.4 728.7h0M588.7 587.3h0M452 610.8h0M688.4 587.3h0M528.5 564h0M563.2 720.3h0M589.2 730.2h0M555.4 729h0M554.6 513.2h0M593 440.7h0M467.6 626.1h0M537.5 726.9h0M628.1 617.8h0M436.3 432.9h0M507.7 746.2h0M512.3 748.2h0M544 741.2h0M525.1 734.9h0M544.5 418.9h0M500.9 453.2h0M438.7 641h0M676.4 665.7h0M535.7 607.7h0M536.6 621.1h0M496.1 635.5h0M458.4 504.4h0M524.3 592.1h0M697.8 596.1h0M477.5 437.4h0M533.9 462.8h0M446.8 490.2h0M385.7 526.6h0M524.7 628.9h0M460.4 725.8h0M523.3 496.1h0M612.2 513.4h0M661.1 519.1h0M512.1 676.1h0M557.8 474.2h0M413.2 464.8h0M549.7 640.6h0M519.1 481.4h0M421 628.3h0M455.2 547.6h0M451 641h0M412.3 704.1h0M370.8 600.4h0M688.6 514.2h0M576.8 739.9h0M440.6 548.6h0M618.5 713.1h0M588.8 718.2h0M424.7 606.8h0M668.9 668.6h0M533.9 597h0M405 495.4h0M473.1 486.2h0M639.2 458.2h0M439.7 477h0M473.8 700.8h0M409.2 673.7h0M638.4 684.3h0M460.4 735.5h0M531.4 440.5h0M598 725.4h0M655.1 489h0M461.6 687.9h0M503.7 412.6h0M436.7 439.8h0M509.5 429.2h0M618.9 623.2h0M527.8 415.8h0M413.6 684.6h0M458 582.4h0M654.2 687.7h0M680.3 558.6h0M647.8 625.9h0M394.3 634.9h0M546.7 421.7h0M584 434.2h0M669.3 491.6h0M516.3 545.9h0M634.7 509.7h0M394.6 636.9h0M428.8 458h0M494.3 513.6h0M583.8 619.2h0M536.9 659.7h0M452.2 574.7h0M626.1 568.6h0M634.1 691.1h0M502.9 425.8h0M426.7 691.8h0M467 603.9h0M625 458.9h0M534.2 475.1h0M444.3 661.4h0M464.7 625.1h0M657.2 665.8h0M362 581.4h0M520.6 626.3h0M519.2 709.2h0M573.7 705.9h0M525.4 483.4h0M656.6 623.6h0M648.4 508.2h0M460.7 521.4h0M612.5 582.3h0M624.3 441.8h0M487.8 420.1h0M538.7 596.2h0M520.6 561.3h0M508.2 509.8h0M525.8 612h0M637.2 498.6h0M638.2 703.8h0M687.8 600.9h0M624.9 637.8h0M543.8 660.4h0M513 449.2h0M474.5 521.8h0M374.3 529.5h0M617.7 593.6h0M366.4 613.2h0M457.6 550.2h0M367.8 573.1h0M567.8 599.3h0M675 522.7h0M368.9 550h0M397.2 679.5h0M627 458.8h0M570 735.6h0M476.2 529.1h0M362.1 564.2h0M395.8 643.3h0M401.4 569.7h0M417.1 618.3h0M696.5 549.9h0M403.4 600.5h0M399.4 662.7h0M617.9 513.1h0M393.6 621.1h0M385.6 530.3h0M459.6 589.5h0M543.3 711h0M524.2 486.4h0M401.4 525.4h0M404.4 554.7h0M501.7 599.1h0M684.2 561.2h0M502.1 617.2h0M485.5 481.9h0M471 523.3h0M518.8 625h0M483.4 620.3h0M670.7 674.8h0M466.5 681.8h0M493.8 569.4h0M397.8 656.8h0M627.9 693.5h0M470.1 642.4h0M480.6 532.7h0M426.6 440.3h0M521.1 614h0M623.8 434.4h0M545.3 509.9h0M523.5 407.7h0M635.2 506.9h0M382.7 536.6h0M570.4 709.6h0M518.1 734.5h0M683.8 615.8h0M492.4 648.3h0M513.6 674.7h0M552.6 711.2h0M606.1 708.3h0M661.1 685.5h0M454.7 440.2h0M412.2 618.7h0M685.7 610.9h0M593.5 440.7h0M643 607.7h0M632.7 688.2h0M665.3 666.9h0M441.7 641.1h0M573.6 564h0M665.7 481.8h0M628.9 545.3h0M434.7 524.5h0M437.5 653.1h0M591.1 590.9h0M425.3 681.4h0M584.3 431.5h0M482.6 583.5h0M622.1 478.6h0M639.8 680.7h0M574.8 692.1h0M403.5 655.2h0M533.1 596.9h0M493.7 527.6h0M452 506.9h0M550.9 468.9h0M390.4 514.4h0M594 607.4h0M453.6 692.8h0M509.3 662h0M392.2 492.1h0M536.4 602.8h0M591.3 535.7h0M638.2 577.4h0M637.1 587.3h0M374.6 586.5h0M450.7 637.9h0M489.1 703.6h0M491.2 554.1h0M455.3 708.6h0M596.3 453.9h0M541.6 662.3h0M584.6 718.7h0M460.8 559.9h0M595.6 480.2h0M590.9 691.9h0M535.7 486.9h0M576.6 409.9h0M528 725.7h0M380 605.5h0M385.4 495.1h0M656 661h0M530.3 572.7h0M466.1 436h0M431.4 542.9h0M417 514.4h0M492.1 584.2h0M626.2 706.4h0M446.8 623.8h0M647.6 587.9h0M641.3 704h0M430.1 717h0M411 521.8h0M390.6 674.3h0M626.9 507.1h0M653.8 493.9h0M696.7 539h0M538.8 605.3h0M432.1 714.6h0M596.2 507.6h0M413.7 657.2h0M591.3 619.6h0M569 436.3h0M643 524.8h0M607.1 571.2h0M613.4 492.6h0M407.3 483.4h0M438.6 464.3h0M625.8 612.1h0M613.7 516.5h0M421.4 687h0M651.5 597.8h0M508.6 588.6h0M570.7 538.1h0M438.5 596.6h0M682.6 574.4h0M604.5 444.4h0M470.4 733.7h0M519.3 667.7h0M668.5 492h0M626.1 701.6h0M561.7 484.6h0M422.3 459.4h0M658.7 619.6h0M574.4 635.1h0M587.2 697h0M478.5 416.4h0M424.6 700h0M624.5 720h0M692.5 561.9h0M412.4 589.9h0M467.2 601h0M481.6 482h0M485.6 543.4h0M498.6 598h0M635 452.8h0M405.7 645.4h0M557.9 651.4h0M500.7 515.8h0M422.5 709.1h0M428.4 497.9h0M540.8 569.4h0M478.7 739.1h0M635.8 447.8h0M669.3 511h0M642.2 457.6h0M507.7 523.4h0M688.2 590.7h0M429 629.1h0M536.7 449.3h0M585.6 696.4h0M366.4 628.6h0M468.6 485.1h0M456.6 426h0M445 622.3h0M504.1 604.4h0M560.8 531.1h0M572.4 439.3h0M409.4 536.8h0M602.9 486.5h0M374.8 537.8h0M680.8 531.3h0M567.3 653.5h0M426 577.7h0M568.6 707.6h0M621.8 438.4h0M556.6 407.4h0M486 557.9h0M591 676.3h0M650.4 503.2h0M491.2 458h0M568.3 721.3h0M380.5 550h0M599.7 658h0M451.9 464.4h0M449.9 704.3h0M618.7 636.5h0M366.7 607.2h0M647.1 675.6h0M458.8 487.5h0M444.2 443.1h0M644.3 695.4h0M424.3 700.9h0M668.8 548h0M444.1 442h0M568.5 705.4h0M361 576.5h0M609.3 609.9h0M447.1 640.3h0M517.8 500.9h0M562.1 424.4h0M446.3 544.5h0M618.1 665.2h0M422.9 457.6h0M438.6 671.7h0M597.3 667.8h0M662.9 535.9h0M415.4 478h0M640.3 583.7h0M510.8 471.7h0M677.7 542.2h0M461.4 545.7h0M563 454.4h0M609 471.8h0M652.9 634.6h0M435 653.6h0M507.4 427.6h0M658.3 557.7h0M661.6 657.7h0M621.7 679.2h0M414 678.6h0M412.8 575.6h0M590.1 418.1h0M668.5 536.9h0M405.5 629.8h0M401.7 511.4h0M562.9 740.7h0M569.4 707.6h0M552 548.2h0M679.1 522.1h0M689.8 529.7h0M701.4 604h0M497.5 502.4h0M651.5 476.9h0M530.9 643.7h0M514.6 727.6h0M649.8 607.7h0M499.7 739h0M531 635.7h0M614.7 566.4h0M423 535.4h0M422.2 647.3h0M608.4 512.1h0M544 620.5h0M516.2 640.2h0M683.9 627.7h0M541.6 419.2h0M513.1 544.2h0M612.4 545h0M491.5 515h0M542.9 638.6h0M472.2 628.8h0M528.3 538.2h0M455.9 673.5h0M658.7 475h0M539.8 706.6h0M504.3 476.8h0M668 503h0M491.8 614.2h0M466.5 468.2h0M580.2 738.2h0M647.1 501.9h0M693.7 641.8h0M369.6 582.5h0M648 695.4h0M651.8 622.6h0M491.8 595.6h0M653.2 653.4h0M419.3 629.1h0M641 494.8h0M560.5 669.4h0M595.1 740.1h0M462.4 654.8h0M688.6 521.2h0M526.7 659h0M531.5 462.4h0M495.2 522.6h0M648 528.5h0M395.1 534.2h0M447.6 694.2h0M559.9 731h0M413.1 461.5h0M471.5 723.8h0M510.7 737.6h0M638.1 513.7h0M653 596.3h0M519.3 538.1h0M567.7 735.6h0M486.1 606.7h0M449.2 652.5h0M621.3 516.6h0M497.1 604.8h0M394.5 506.9h0M664.3 529.1h0M503.8 741.3h0M628.6 562.5h0M653 513h0M559.6 739h0M462.7 728.4h0M559.6 443.4h0M541.2 432.5h0M548.6 710.4h0M484.4 521.8h0M652.5 660.3h0M642.5 687.3h0M508.6 731.4h0M435.7 703.5h0M395.2 520.6h0M603.2 425.5h0M568.9 465.8h0M401 579.8h0M581.6 655.2h0M547.5 627.8h0M360.3 585h0M392.1 624.6h0M703.9 604.7h0M567 643.4h0M574.8 552.6h0M597.4 655.4h0M626.5 624.5h0M569.3 693.9h0M612.9 675.2h0M535 420.5h0M636.2 565.9h0M411.7 642.1h0M541.4 694.3h0M608.9 541.7h0M603.2 467.2h0M519.8 727h0M624.6 685.3h0M664.3 508.3h0M516.8 635.8h0M478.2 679.4h0M685.5 522.5h0M501.3 640.4h0M433.9 482.8h0M464.4 715.1h0M478.7 545.3h0M632.6 474.9h0M574.6 678h0M482.7 476.9h0M519 746.3h0M637.8 480.1h0M666.7 560.4h0M597.7 680.7h0M388.5 557.8h0M398.7 635.9h0M512.4 480.2h0M540.6 477.5h0M515.2 698h0M433.7 715h0M593 718.8h0M423.6 455.9h0M387.4 655.2h0M383.1 505.7h0M507.2 555.6h0M601.1 606.7h0M480 718h0M427.7 458.5h0M371 642.2h0M683 630.6h0M491.2 504.3h0M377.8 511.1h0M574.7 435.9h0M482.5 581.2h0M472.5 513h0M512.2 520.9h0M399.3 540.2h0M627.2 688.7h0M491.8 730.3h0M443.9 546.7h0M473.7 653.5h0M457.2 515.9h0M485.9 616.8h0M455 714.4h0M499 703.4h0M399.7 688.9h0M463.3 687.3h0M579.1 523.4h0M421.8 467.2h0M617.8 446.7h0M456 567.2h0M514.2 535.2h0M674.1 509.4h0M510.1 469.8h0M584.8 679.3h0M550 447.2h0M399.2 559.9h0M371.5 533.3h0M552.8 641.4h0M622.3 623.3h0M501.6 477.3h0M497.8 571h0M594 614.7h0M684.9 636h0M576.6 546.8h0M585.4 697.6h0M512.4 733.8h0M516.3 519.7h0M443.7 615.7h0M411.7 500.1h0M539.5 455.9h0M416.7 603.1h0M627.9 465.8h0M554.1 683.5h0M451.9 697.2h0M666.2 515.6h0M601.7 621.8h0M401.3 669.7h0M427.5 716.5h0M425.2 605.8h0M414.4 518.5h0M612.5 592.2h0M487.3 522.2h0M467.2 691.3h0M587.6 459.3h0M500.5 719.9h0M593.8 449.1h0M466.7 443.9h0M403.5 647.3h0M409.1 684.2h0M532.5 666.5h0M471.3 444.5h0M655.7 678.3h0M385.7 617.7h0M607.9 712h0M503.3 475.3h0M487 648.8h0M533.7 665.8h0M482.6 451.9h0M540.9 641.5h0M508.2 496.8h0M518.1 601.9h0M457.7 734.5h0M449 555h0M467.4 738.2h0M645.6 495.7h0M468.5 637.2h0M405.4 469.4h0M680.6 515h0M537.6 594.8h0M494.8 604.4h0M548.2 537.9h0M680.2 547.4h0M555.8 729h0M447.8 671.3h0M629.2 645.5h0M695.1 548.6h0M596.4 688.1h0M582.6 475.6h0M443.3 645.7h0M681.3 611h0M485.8 506.8h0M699.8 561h0M476.4 736.4h0M514.1 493.1h0M562.7 573.2h0M568.8 723.1h0M562.4 467.7h0M576.9 623.3h0M412.6 497h0M521.1 535.4h0M599.4 548h0M627.1 587.7h0M416 561.1h0M608.6 680.7h0M557.6 661.3h0M552.1 523.7h0M607.1 710.9h0M545.1 529.1h0M540.8 530.1h0M693.5 531h0M517.5 533.6h0M663 685h0M506.9 483.5h0M475.9 492.4h0M461.8 508.8h0M676.3 650.2h0M413.5 458.3h0M389.5 638.4h0M409.2 468h0M432.8 699.5h0M429.1 579.5h0M580.3 491.4h0M382.7 494.3h0M662.8 685.1h0M445.3 524.9h0M651.6 472.5h0M584.4 523.5h0M674.5 553.6h0M653.2 473.1h0M597.9 463.3h0M390.6 608.3h0M557.1 531.6h0M394.9 590.2h0M647.9 677.7h0M686.1 610.5h0M577.3 488.2h0M591.7 577.6h0M683.2 580.7h0M426.1 492.8h0M514.7 431.5h0M549.2 648.9h0M597.6 438h0M583.1 492.4h0M471.7 678.2h0M502.6 728.2h0M441.6 545.3h0M551.3 622.6h0M534.1 617.6h0M489.2 529.6h0M479.4 544.3h0M548.6 459.1h0M581.2 571.3h0M460.7 459.4h0M495.7 496.5h0M576.3 723.6h0M492.9 558.2h0M603.9 503.5h0M473.3 446h0M674.9 520.7h0M422 681.2h0M664.7 654.1h0M487.5 719.6h0M369.9 602.4h0M419 478.8h0M430.1 611.1h0M630.7 448.9h0M667.3 548.3h0M401.4 488.6h0M503.2 520h0M564.8 746.5h0M498.5 444.3h0M427 597.3h0M426.1 660h0M375.5 588h0M659.5 683h0M695 526.4h0M402.7 530.9h0M388.8 645h0M414.5 560.4h0M639.4 696.7h0M630.3 593.3h0M383.1 592.3h0M595 620.5h0M435.8 655h0M488.6 525.6h0M539 570.3h0M501.3 671h0M682.9 592.4h0M587.4 695.7h0M565.9 725.4h0M474.9 679.9h0M479.6 459.4h0M386.2 484.4h0M650.4 694.7h0M629 513h0M692.4 587.1h0M576.9 639.3h0M543.7 664.3h0M416.9 662.1h0M569.6 630h0M526.6 700.7h0M626 470.7h0M637.5 707.6h0M391.2 594.3h0M658.6 671h0M460.6 422.4h0M448.8 525h0M547.3 597.2h0M489.8 480.4h0M561.4 729.9h0M696.8 592.1h0M490.5 537.4h0M439.5 462.1h0M596.2 419h0M490.7 578.5h0M552.3 586.7h0M519.9 566.8h0M588.6 739.5h0M611.9 491.2h0M512.9 569.3h0M508.1 580h0M487.7 713.2h0M651 503.8h0M510 555.4h0M527.3 651.3h0M526.4 429.8h0M636.4 522.8h0M602.7 653.7h0M640.4 497.6h0M578.9 559.3h0M672.5 628h0M385.7 602.4h0M566.8 573.3h0M594.3 633.5h0M610.9 557h0M493.2 418.1h0M428.2 469.5h0M656.3 467.3h0M589.1 552.3h0M576.2 554.8h0M467.3 519.7h0M672.3 595.4h0M590.6 726.3h0M682.7 648.5h0M664.6 506.9h0M557.3 414h0M518.4 741.2h0M466.1 653.1h0M448.8 457.8h0M413.9 454.5h0M608.9 612h0M547 493.1h0M660.2 489.4h0M532.3 509.7h0M450.2 441.6h0M414.8 666.6h0M614.4 529.1h0M615.5 476.7h0M527.1 422.2h0M667.7 579.9h0M552.6 483.1h0M561.5 440.7h0M504.1 619.6h0M392.3 477h0M637.4 480.5h0M441.9 619h0M439 489h0M590.2 557.2h0M609.4 491.3h0M387.6 530.2h0M450.6 547.2h0M651.6 472.9h0M499.3 473.1h0M375.4 506.5h0M447.6 549.4h0M553.7 420.4h0M426 659.3h0M537.4 643.6h0M384.9 503.2h0M456.2 587.4h0M626.8 471.2h0M574 499.5h0M549.6 539.3h0M514.4 680.5h0M447.3 667.7h0M557.7 415.2h0M536.9 533h0M616.6 497.6h0M661.2 525.7h0M627.7 707.9h0M371.5 635.1h0M629.3 477.1h0M520.6 411.3h0M566.7 636.6h0M419.2 528.3h0M470.2 603.4h0M616.1 523.2h0M650.6 458.9h0M601 432.1h0M529.2 434.2h0M385.2 489.4h0M598.1 513.3h0M557.1 701.3h0M363.3 558.3h0M517.3 460h0M458.3 611.6h0M555.1 563h0M541.8 628.9h0M564.2 668.8h0M535.6 654.3h0M425.3 603.4h0M448.1 434h0M386.4 645.8h0M470.1 682.6h0M563.1 473h0M623.8 592.2h0M401.7 593.3h0M544.5 482.4h0M559.5 740.7h0M506.5 582.6h0M578.4 491.3h0M522.8 661.2h0M573.4 613.7h0M615.6 446.2h0M405.4 627.6h0M592.4 582.7h0M397 489.7h0M573.6 574.8h0M588.9 432h0M428.4 490.6h0M510.6 467.4h0M391.2 575.9h0M447.2 572.4h0M606.7 691.8h0M656.6 632h0M535.5 684.9h0M640.3 493h0M429 664.9h0M482.9 424.7h0M668 540h0M421.5 682.7h0M577.5 712.1h0M648.1 634.9h0M366.6 539.4h0M643.3 697.8h0M515.1 537.2h0M439.8 606.4h0M463.8 596.7h0M665.2 647h0M507.6 607.2h0M584.1 555h0M609.6 528.4h0M652.5 541.9h0M428.3 517.1h0M510.6 629.9h0M566.2 737h0M688.5 540.8h0M489.3 742.5h0M646.7 504.2h0M634.2 600.1h0M696.9 591.5h0M613.6 495.3h0M702.2 574h0M407.2 591.9h0M559 596.9h0M393.9 641.3h0M391.5 491.8h0M661.9 604.2h0M598.7 734.6h0M615.2 698.2h0M432 541.3h0M635.7 683.5h0M640.1 644.6h0M538.2 427h0M531.7 666.7h0M479.5 527.1h0M424.5 620.3h0M401.5 500.8h0M579.7 581.8h0M666.2 580.3h0M499 616.6h0M396.5 574.1h0M439.8 459.2h0M361.6 550.6h0M703.2 564h0M642 652.4h0M450.2 680.2h0M396.8 474.6h0M578.8 490.8h0M489.7 465.6h0M554.6 714.3h0M542.1 710.1h0M581.6 645.6h0M630.8 716.3h0M563.2 702.7h0M422.7 690.5h0M602.5 622.1h0M560.1 607.8h0M649 657h0M561.1 454.1h0M385.5 649.5h0M546.9 595.7h0M532.2 587.1h0M523 743.3h0M623 575h0M703.4 564.4h0M618.9 721h0M465 440.5h0M473 643.2h0M429.5 511.1h0M574.9 580h0M510.4 448.9h0M635.8 633.5h0M415.6 575.5h0M471.6 543.5h0M605.5 565.7h0M597 448.6h0M576.2 706.9h0M534.4 724.4h0M583.1 621.4h0M379.4 625.5h0M659.5 512.8h0M658.8 554.7h0M428.9 489.9h0M361.2 599.9h0M474.3 431.5h0M569.4 583.6h0M656.2 505.1h0M568 562.8h0M624.3 661.3h0M602.2 539.5h0M519.4 478.9h0M414.5 651.1h0M410.4 457.3h0M589.6 434.5h0M639.3 491.4h0M596.9 530.3h0M627 722.3h0M418 699.3h0M594.9 565.7h0M667.4 582h0M559.2 512.8h0M671.1 529.5h0M542.2 422.4h0M384.1 579.7h0M609.9 726h0M498.6 585.7h0M423.6 650.5h0M391.4 643.6h0M423.1 511.1h0M648 626.6h0M599 736h0M589.8 530.4h0M648 531.8h0M478.9 437.8h0M535.5 660.9h0M459.9 490h0M607.7 713.2h0M486.3 647.3h0M524.4 542.8h0M373.8 562.5h0M659.3 500.7h0M501.3 594.2h0M429.5 716.8h0M578.4 724.4h0M589 705.4h0M521.1 578.7h0M674.3 648h0M397 623.2h0M552 634.6h0M452.7 444.1h0M414.2 674.2h0M491.6 471.1h0M368.6 522.9h0M639 595.8h0M451.3 631.3h0M568.3 437.6h0M452.8 466.9h0M484.6 549.7h0M619.8 457.1h0M479.9 549.9h0M497.8 665.8h0M541.9 431.9h0M443.5 592.1h0M550.4 638.2h0M690.8 628.3h0M396 491.1h0M600.9 460.7h0M404.8 683.6h0M569.3 535.2h0M385.1 658.4h0M552.6 447.4h0M558.1 439.8h0M533.6 603.9h0M634.2 705.6h0M632.2 458.2h0M486.2 724.5h0M630.5 602.1h0M651.7 463.3h0M486.7 653.9h0M567.2 536.7h0M414.6 585.7h0M614.4 718.5h0M685.7 556.7h0M675 514.8h0M577.9 589.5h0M489.2 693.3h0M418.2 641.6h0M633.6 486.4h0M573.2 535.7h0M375.1 583.3h0M636.5 548.8h0M417.3 530.6h0M518.2 663.5h0M560.2 423.7h0M478.4 567.3h0M486.6 670.1h0M677.4 616.1h0M567.4 492.5h0M657.9 499.3h0M520.7 492.4h0M698.2 590.1h0M512.4 410.7h0M486.4 488.4h0M683.6 634.4h0M699.3 533h0M506.1 455.8h0M395.2 502.4h0M455.2 544.4h0M539.4 406.8h0M496.8 584.8h0M517.6 548.9h0M406.3 555.6h0M663.8 484.6h0M607.4 563.7h0M373.5 542h0M603.5 426.6h0M512.6 454.2h0M620 505.9h0M640.6 517.6h0M379.7 599.6h0M566.9 428.6h0M627.1 496h0M493.3 619.8h0M438.7 642.5h0M581.6 456.5h0M429.4 565.1h0M622.6 538.9h0M542.8 581.9h0M462.6 474.8h0M476 418.6h0M650.4 564.9h0M522.6 475.7h0M556.7 543.9h0M623.6 461.9h0M533.5 439.1h0M588.1 640.6h0M370.6 642.1h0M566.1 485.2h0M563.3 635.3h0M584.4 455.4h0M498.7 669.4h0M387.3 541.9h0M699.2 622.5h0M596.5 425.1h0M465.6 564.9h0M636.4 564.7h0M593.6 712.5h0M463.7 612.9h0M552.7 513.2h0M472.7 611.7h0M437.4 630.6h0M510.8 692.3h0M497.1 428.4h0M592.9 710.7h0M532.9 415.7h0M451.9 711.5h0M538.5 512.7h0M637.6 702.9h0M457.3 613h0M555 605.8h0M363.9 583.6h0M548.2 661.5h0M583.4 693.3h0M679.4 625.9h0M536.7 679h0M380.8 496.7h0M526.9 694.5h0M403.8 556.7h0M615.4 704.3h0M545.5 741h0M617.9 629.4h0M652.6 484h0M449.8 441.9h0M685.8 565.1h0M427.7 681.8h0M568 602.6h0M598.5 550.2h0M701.8 608.1h0M426.1 498.8h0M515.1 594h0M438.2 690.2h0M457.7 541.6h0M690.7 549.8h0M573.9 507.6h0M616.7 616.3h0M516 454.8h0M559.2 500.7h0M511.9 704.8h0M553 478.3h0M441.7 603.5h0M562.4 523.8h0M443.6 501.9h0M473.5 673.7h0M462.2 594.9h0M647.1 456.1h0M493.9 558.2h0M410 577.4h0M507.7 548.1h0M509.5 749.7h0M426 467.7h0M442.9 532.2h0M506.3 633h0M492.6 446.3h0M612.8 621.2h0M538.3 570.7h0M477.5 720.9h0M526.9 558.6h0M428.9 445.2h0M565.8 506.1h0M404.6 626.8h0M378.6 637.1h0M360.5 593.7h0M630 517.9h0M416 482.8h0M552.7 556.2h0M677.9 641.7h0M571 735.7h0M658.8 477.7h0M574.6 486.2h0M573.7 645.7h0M509.1 417.4h0M469.2 579h0M446.4 706.9h0M672 550.2h0M429.1 635.1h0M360.4 588.7h0M572.4 579.1h0M539.8 749.8h0M451.7 574h0M390.4 606.5h0M459.9 442.7h0M504.6 565.3h0M434.8 478.6h0M603.5 638.2h0M496.9 676h0M421.4 538.7h0M645 658h0M577.9 739.2h0M443.9 645.3h0M506.6 603.9h0M520 550.4h0M459.6 430.5h0M616.6 437.4h0M497.6 683.3h0M531.1 604.6h0M473 552.8h0M501.2 522.6h0M599.2 444.1h0M496.5 419.4h0M615.4 725.1h0M441.1 644.5h0M596.6 663.8h0M386.2 526.9h0M688.7 531.4h0M623.5 601.3h0M645.9 638.7h0M576.7 622.8h0M391.6 578.9h0M540.6 631.8h0M646.2 581h0M631.7 707.4h0M468.9 597.3h0M678.9 653.2h0M516.6 621.7h0M537.6 417.9h0M577.4 697.8h0M690.2 623.3h0M560.7 521h0M681.4 502.4h0M541.8 533.3h0M468.7 721.7h0M396.2 554.3h0M690 549h0M555.2 612h0M629.9 564.3h0M407.8 593.8h0M434.6 574.5h0M582.5 414.2h0M675.2 507.8h0M609.8 602.2h0M419.3 646.5h0M402.9 478.1h0M591.3 611.6h0M663.8 507.9h0M655.9 524.2h0M363.4 599.3h0M439.6 595.7h0M551 524.1h0M535.4 705.3h0M450.5 578h0M546.7 445.5h0M505.6 431.3h0M639.2 546.6h0M591 461.8h0M524 419.4h0M607.4 703.1h0M655.1 514.8h0M498.1 534.8h0M612.8 539.6h0M522.6 597.7h0M489.2 445.2h0M536.1 523.3h0M620.9 547.9h0M601.6 495.5h0M631.2 567.8h0M629.2 458.7h0M469.7 615.7h0M410.7 565.6h0M634.6 593.5h0M487.9 416.3h0M457.9 541.6h0M410.7 485.5h0M694.8 629.7h0M430.9 448.6h0M542.9 670.7h0M678.7 663.1h0M666 535.6h0M546.8 437.8h0M597.5 543.7h0M506.2 709.1h0M694.8 619.2h0M635.4 542.1h0M554.1 449.4h0M473.2 487.2h0M652.5 688.1h0M537.6 530.5h0M554.5 511.1h0M432.1 575.6h0M564 493.6h0M425.3 601.1h0M420.2 669.9h0M381.8 632.5h0M434.4 630.6h0M388.1 601.6h0M377.2 610.7h0M697.7 610.7h0M545.1 692.1h0M442.5 555.6h0M379.1 623.5h0M430.8 673.5h0M667.4 602.3h0M425.2 572.5h0M540.3 645.8h0M492.6 525.8h0M424.8 652.5h0M401.3 642.9h0M644.3 492.7h0M462 539.5h0M383.7 545.8h0M534.9 532.7h0M679.2 640.3h0M468.5 643.1h0M629.3 573.5h0M365.3 624.7h0M492.7 599.5h0M425 484.4h0M407.4 557.4h0M570.6 735.5h0M523.4 539.5h0M504.1 676.2h0M422.1 706.1h0M407.1 656.4h0M643.1 463.4h0M570.3 663.5h0M679.9 622.9h0M530.1 749.7h0M443.9 684.9h0M485.2 498.1h0M416 671.5h0M684.9 564h0M458.8 733.6h0M585 438.4h0M506.8 652h0M533.8 684.5h0M496.8 495.1h0M501.6 662.9h0M671.2 613.6h0M468 674.6h0M566.1 434.6h0M604.4 674.9h0M639.1 600.1h0M449.1 438.7h0M541.2 416.2h0M662.5 632.4h0M418.7 685h0M497 491h0M663.7 633.4h0M437.5 535.3h0M567.1 551.1h0M541.5 497.4h0M472.7 703h0M627.7 701h0M656.5 681.8h0M384.5 603h0M422.3 712.3h0M398.5 679h0M659.4 515.3h0M461.9 577.2h0M468.8 700.9h0M493.1 479.2h0M401.7 471h0M472.7 738.4h0M442 434.8h0M641.1 690.3h0M425.5 666.9h0M411.5 634.8h0M578.5 421.9h0M481.7 682.3h0M436.4 589.5h0M498.1 584.5h0M447.5 712h0M477.1 451.4h0M528.6 739.1h0M601.5 695.4h0M522.8 580.7h0M421 705.1h0M629.3 710.4h0M662.4 623.7h0M420 683.5h0M640.4 638.5h0M668.9 565.8h0M447.1 514.4h0M664.5 689.7h0M566.6 465.7h0M421.5 606.2h0M688.9 639.6h0M701.6 593.2h0M438.3 489.1h0M673.1 657.2h0M674.8 651.2h0M648.3 669.4h0M405.5 641.9h0M364.9 586.1h0M597.7 439.7h0M568.1 745h0M656.1 594.7h0M543 461.9h0M609.4 660.8h0M436.1 631.8h0M501.2 443.3h0M558.2 475.6h0M518.9 443.3h0M378.1 600.1h0M688.5 554.3h0M385.9 575.7h0M590.7 447.7h0M613.9 507.1h0M490.1 723.9h0M413.5 613.8h0M546.5 674.5h0M452.9 521.8h0M576.3 412.2h0M669.9 536.6h0M587 477.8h0M487.6 421h0M398 589.7h0M489.6 692.4h0M486.7 582h0M482.6 585h0M479.8 560.6h0M407.7 569.5h0M379.5 520.7h0M678.2 562.1h0M442 659.2h0M621.7 554.4h0M611.7 442.2h0M399.3 491h0M530.7 412.2h0M470.3 558.9h0M598.3 591.9h0M624.1 430.8h0M485.6 492.5h0M399 536.6h0M440.7 528.4h0M517.2 582.4h0M486.6 463.8h0M430.7 598.1h0M406.4 687.9h0M633.7 439.8h0M555.4 650h0M525.9 481.8h0M472.1 630.8h0M489.3 671.2h0M440.8 471.6h0M436.5 683.5h0M544.2 633.8h0M377.1 603.5h0M372.2 575.1h0M605.2 448.8h0M608 535.7h0M492.4 714.1h0M481.8 719h0M479.6 490h0M522.3 466.2h0M585.2 655.1h0M667.4 635.5h0M579.1 515h0M523.8 424.8h0M437.3 713.3h0M391.8 644h0M416.5 462h0M577.9 734.6h0M665.4 654.1h0M452.1 709.8h0M637.2 714.6h0M518.1 524.3h0M591.2 619.1h0M450.1 585.3h0M454.8 482.3h0M696 604.5h0M516.7 408.1h0M557.1 597.5h0M578.7 546.7h0M532.5 604h0M498.1 703.6h0M534.8 737.7h0M563.7 653.1h0M471.7 434.4h0M632.1 688.3h0M647.9 707.6h0M394 487.1h0M446.2 494.4h0M629.3 527h0M527.3 612.8h0M401.8 564.1h0M491.2 498.9h0M398.9 647.6h0M448.5 620h0M436.5 690h0M444.7 713h0M471.4 620.1h0M503.6 679.5h0M449.4 482.4h0M694.1 635.3h0M619.2 603.1h0M557.5 488h0M627.9 456.9h0M499.1 461.1h0M373.9 613.6h0M530.6 543.8h0M534 692.4h0M417.7 623h0M547 624.9h0M412.6 522.6h0M599.6 719.4h0M566.9 675.7h0M567.2 451.7h0M572.3 481.1h0M494.9 485.3h0M455.7 447.7h0M650.6 529.5h0M543.7 481.2h0M613.7 640.5h0M613.1 517.9h0M545.2 551.7h0M580 719.5h0M482 529.3h0M524.5 490.4h0M682 627.9h0M579.8 624h0M605.3 439.9h0M404.4 563.1h0M423.8 593.5h0M700.7 616.7h0M549.5 630h0M523.3 515.1h0M404.5 483.9h0M498.9 684h0M459.9 501.8h0M429.5 531.6h0M504 508.3h0M596.3 565.8h0M620.6 452.9h0M458.6 447.1h0M599.6 628h0M468 658h0M447.4 441.5h0M632.9 568.3h0M510.2 521.1h0M611.3 719.8h0M396.8 574.3h0M515.9 464.8h0M577.2 713.4h0M378.9 520.8h0M620.8 711.3h0M593.1 612.4h0M444.2 576.9h0M568 722.7h0M415.3 452.4h0M458.7 497.3h0M628 612.2h0M494.7 704h0M646.4 517.3h0M597.7 652.6h0M585.3 428.5h0M478.1 423.3h0M395.4 623.7h0M502.7 726h0M563 559.7h0M624.2 674.5h0M582 659.3h0M436 665.8h0M405.1 497.3h0M482.5 685.7h0M667.6 497.4h0M422.5 704.2h0M474 672.6h0M473.6 580.6h0M453.3 529h0M538.6 456.7h0M565.3 576.5h0M502.3 412h0M521.5 656h0M564.5 611.6h0M427.8 488.1h0M433.8 716.6h0M427.3 581h0M452.8 662.3h0M649.8 485.1h0M405.1 696.3h0M545.1 633h0M378.8 649.6h0M605 431.9h0M549.7 736.3h0M555.3 408h0M430.7 671h0M578.4 465.3h0M426.3 558.6h0M395.2 592.9h0M593.6 726.4h0M516.2 657h0M380.7 502.8h0M425.1 715h0M595.5 558.4h0M628.4 550.1h0M646.5 700.9h0M484 540.5h0M452.6 509.7h0M400.5 565.3h0M466.8 712.1h0M638 619.1h0M682.1 576.9h0M371.3 551.5h0M624.9 711.2h0M617.5 688.6h0M529.8 407.1h0M485.7 724.3h0M517.5 617h0M614.8 437.6h0M362.1 575.3h0M612.8 661.1h0M685.3 649.8h0M408.2 641.9h0M689.8 625.6h0M495.2 547.6h0M683.7 554.7h0M538.1 415.5h0M392 580.2h0M424.5 637.4h0M543.4 436.1h0M515.6 629h0M519.5 694.8h0M398.8 649.5h0M376.9 582.8h0M526.5 405.2h0M570.5 536.7h0M440.9 514.9h0M595.2 550.1h0M503.2 432.3h0M608.2 610.2h0M586.2 491.1h0M418.6 487h0M408.3 457.1h0M403.6 555.1h0M591.5 484.3h0M653.5 624.5h0M512.7 721h0M673 671h0M556.4 740.8h0M467.9 573h0M442 432.4h0M617.9 600.5h0M459 565h0M648 595.7h0M477.7 443h0M531.3 675.4h0M442.6 712.5h0M416.9 631.5h0M510.8 587.5h0M618.1 470.7h0M479.2 691.9h0M413.4 576.6h0M501.7 434.3h0M618.8 658h0M545.1 433.9h0M664.3 472.7h0M498.5 549.7h0M591.8 432h0M634.5 478.8h0M496 512h0M492.7 624.3h0M633.3 520.2h0M507.4 450.7h0M621.3 699.9h0" stroke="#f3c9a0" stroke-width="2.0" stroke-linecap="round"/>
<path d="M480.2 423.8h0M595.9 453h0M422.6 689.1h0M440.6 552.6h0M627.2 440.8h0M578.5 731.4h0M510.6 472.5h0M641.1 487.1h0M549.8 747.1h0M462.7 573.7h0M555.8 627.2h0M553.4 594.2h0M495.8 675h0M371.1 620.4h0M545.7 542.1h0M406.3 671.6h0M595.2 542h0M497.7 502.8h0M686.1 558h0M416.3 620.2h0M672.4 505.1h0M678.4 625.4h0M482.8 453h0M547.8 745.5h0M553.3 530.6h0M469.2 435.5h0M442.3 639h0M668.5 649.5h0M375.5 562.3h0M556.7 507.5h0M415.2 658.8h0M657.4 660.8h0M385.6 492.8h0M544.4 524.1h0M461.2 704.9h0M602.1 734.6h0M377.4 655.1h0M495 694.1h0M617.1 460.1h0M666.6 662.2h0M425.2 573.3h0M630.3 503.3h0M534 637.6h0M477 463.3h0M393.5 643.8h0M478.9 475.1h0M673.9 542.1h0M409.1 517.8h0M671.2 654h0M539.6 592.9h0M570.6 691.7h0M488.7 726.2h0M628.5 566.1h0M433.3 662.8h0M371.4 543.5h0M461.9 488h0M488 506h0M698.4 588.3h0M591.9 446.3h0M505.9 674.4h0M522.5 572.8h0M536.6 727.1h0M553.5 567.7h0M425.1 454.6h0M633.8 703.7h0M386.5 550.6h0M642.1 463.1h0M446.6 576.2h0M640 457.4h0M536 577.2h0M467.9 718.9h0M454.1 629.4h0M400.7 547.3h0M701.9 590.5h0M464.1 550.3h0M646.7 469.5h0M379 646h0M564.3 616h0M495.7 714.3h0M672.5 548.3h0M515.1 734.3h0M428.2 714.3h0M451.5 578.2h0M584.1 535.2h0M515.5 698.7h0M653 508.3h0M467.1 453.4h0M604.4 602.3h0M653 471.7h0M673.6 571.6h0M613.8 602h0M562.4 507.4h0M574.8 614h0M503.4 413.7h0M443.7 647.1h0M410.2 482.8h0M494.1 545.3h0M652.9 587.1h0M514.4 741.8h0M560.9 432.1h0M623.8 676h0M589.1 676h0M659.6 608.3h0M650 486.4h0M378.2 620.8h0M466.8 418h0M489.4 495h0M514.4 709.3h0M492 560.4h0M589.2 438.4h0M656.2 628.9h0M679.5 625.3h0M475.5 727.5h0M470.8 732.3h0M451 440h0M472.9 720.8h0M561.4 699.6h0M567.8 642.3h0M562.3 678.2h0M575 452.4h0M519.2 739.6h0M405.1 508.9h0M506.6 512.2h0M673.4 567.6h0M396.2 568.5h0M502.3 478h0M581.6 642.3h0M447.1 503.3h0M564.2 556.5h0M446.5 729.2h0M569.7 461.6h0M456.4 647.7h0M624.3 629.7h0M440.3 577.5h0M492.7 508.7h0M576.6 519.6h0M567.2 500.6h0M646.4 683.8h0M579.3 557.7h0M429.1 500.2h0M402.9 540.7h0M498.8 419.8h0M431.6 655.2h0M408.9 593.5h0M513.2 636.4h0M618 651.5h0M427 441h0M406.6 595.9h0M552.8 645.2h0M555.8 544.1h0M545.7 410.7h0M670.6 678.5h0M420.2 699.2h0M627.1 436h0M416.7 609.2h0M666.4 671.7h0M581.7 481.6h0M501.4 412.3h0M679.1 632h0M570 728.9h0M444.6 606.3h0M428.4 489.5h0M676.3 530.1h0M475.9 583h0M633.4 462.2h0M682 507.5h0M442 684.6h0M595.4 566h0M644.5 482h0M503.4 448h0M584.9 570.9h0M549.5 661.8h0M601.2 702.1h0M528.4 589.3h0M484 519.6h0M678.4 570.8h0M473.9 543.4h0M462.4 715.3h0M640.4 689.8h0M653.4 675h0M467.5 597.5h0M628.3 605.9h0M583.5 660.8h0M517 420.7h0M670.1 679.3h0M516.3 605.8h0M670.5 619.8h0M601.9 498.3h0M420.6 677h0M488 463.5h0M430.9 487.6h0M394.9 473.8h0M549.2 572h0M491.4 656.1h0M484.6 651.8h0M560.2 524h0M677.3 487h0M482.6 427.9h0M487.7 495.8h0M434.4 624.9h0M516.1 549.2h0M372.6 608.6h0M554.7 622.5h0M543.2 542.7h0M649.6 628.7h0M604.8 471.6h0M526.3 439.7h0M570.5 587.6h0M635.3 610.5h0M457.7 431.6h0M689.7 571.3h0M667.8 515.9h0M453.5 483.2h0M435 705.5h0M638.4 680.4h0M378.3 505.4h0M459.5 672.9h0M692.2 643h0M619.1 604.9h0M596.6 628.3h0M443.9 577.8h0M492.7 744.9h0M462.4 624.3h0M585.5 635.7h0M678.3 656.8h0M367.4 532.2h0M549 538.9h0M669.6 567.7h0M509.3 453.5h0M507.6 409.8h0M682.5 568.3h0M591.8 703.7h0M513.7 508.1h0M534.9 587.1h0M630.9 676.8h0M398.3 661.4h0M530.3 521.7h0M491.1 415.3h0M670.8 679.7h0M490.8 426.2h0M463.4 624.1h0M682.6 575.7h0M543.9 639.8h0M650.7 557.1h0M578.2 736.9h0M655.2 540.2h0M431.9 635.9h0M514.9 467.9h0M511 676.3h0M553.5 720.2h0M418.7 503h0M396 674.8h0M460.5 564.2h0M508.8 654.3h0M526.8 428.6h0M493 416.7h0M528 507.6h0M493.3 593.5h0M505.8 421.2h0M374.6 554.7h0M494.9 581.8h0M569.4 667.7h0M531.1 521h0M383.8 661.2h0M502.9 542.5h0M593.2 644.2h0M609.7 653h0M450.9 529.9h0M521.2 584.1h0M518.4 410h0M646.7 510.1h0M493 413.4h0M611.3 514.4h0M525.8 450.6h0M531.2 726.4h0M486 507.9h0M539.7 647.1h0M623.1 716.8h0M664.2 566.3h0M593.5 489.2h0M386.1 611.2h0M571.7 711.9h0M479.8 657.7h0M620.6 572.1h0M628.5 577.5h0M383.7 495h0M375.2 639.4h0M535.1 472.8h0M530.6 624.6h0M438.7 582.8h0M432.5 585.4h0M485.8 503.9h0M588.7 578.2h0M464.8 420.5h0M638.8 569.9h0M482.2 524.8h0M630 537.2h0M580.7 542.5h0M434.9 594.7h0M585.2 542.7h0M388.7 670.8h0M412.4 499.2h0M514 573.5h0M428.4 584.1h0M553 477.7h0M419.5 456.8h0M678.6 584.8h0M537.1 484.5h0M573.4 431.2h0M455.4 574.6h0M603.2 513h0M616.4 479.5h0M604.7 629.1h0M408.8 644.9h0M529.6 684h0M560.1 477.2h0M369.6 573h0M679.3 507.8h0M521.5 426.9h0M490.5 576.7h0M463.4 535.1h0M623.3 510.5h0M511.2 633.6h0M649.7 608.3h0M554.7 657.8h0M537.9 472.7h0M697.7 591.5h0M630.2 666.3h0M412 481.5h0M451.8 634.5h0M592.3 462.1h0M666.2 593.1h0M494.6 668.4h0M368.9 612.8h0M466.8 616.4h0M573.2 571.5h0M680.3 561.2h0M588.9 455.6h0M476 452.3h0M449.4 641h0M554.8 726.6h0M521.4 526h0M467.4 474.1h0M701 575.8h0M632.1 598.4h0M687.9 538.4h0M382.5 515.3h0M659.8 462.3h0M421.9 694.5h0M447 573.3h0M594.7 437.1h0M586.5 599h0M675.4 619h0M451 584.4h0M422.4 602.6h0M426.9 589.6h0M589.7 436.5h0M654.7 463.9h0M674.7 660h0M612.2 655.1h0M655.8 607.2h0M523 747.1h0M394.6 628.5h0M395.5 491.7h0M549.1 566.8h0M557.2 622.3h0M490 444.2h0M492.6 417.3h0M511.3 719.7h0M574.9 553h0M597.6 718h0M626.3 509.3h0M554.4 405.6h0M408.2 572.4h0M430.7 595.6h0M659.7 479.8h0M395.7 530.6h0M393 592.3h0M590.2 549.3h0M638.4 662.3h0M671.2 491.3h0M403 465.2h0M602.5 616.3h0M378.1 521.7h0M402.4 482.4h0M523 574.5h0M594 550.7h0M673.5 506.1h0M557.2 431.9h0M698.5 564.1h0M500.5 610.5h0M435 552.1h0M467 739.1h0M573.2 736.3h0M408.8 649.4h0M560.5 712.8h0M483.3 719h0M694.9 607.4h0M510.6 547.8h0M627 480h0M663.5 671h0M450.9 524.3h0M394.9 663.2h0M593.2 703.7h0M470.1 459h0M642.6 592.4h0M591.8 461.3h0M644.7 498.3h0M479.8 652h0M398.5 649.6h0M506.7 451.4h0M392.9 672.8h0M537.1 741.7h0M686.9 638.3h0M599.5 538.4h0M460.8 702h0M635.6 657.6h0M402.4 474.7h0M559.3 467.2h0M481.3 717.3h0M427 704.8h0M429 550.1h0M591.6 474.7h0M698.1 527.7h0M639.3 672.8h0M536.8 525.1h0M533.3 671.8h0M686.9 518.7h0M484.2 672.8h0M414.1 474.2h0M665.3 523.1h0M405.1 630.9h0M588.5 658.8h0M574.9 443.6h0M364.7 540.7h0M649.2 672.2h0M405.3 684.5h0M414.2 459.1h0M394.2 505.6h0M505.6 545.7h0M381.2 570.8h0M567 512.9h0M400.3 643.4h0M643.3 611.6h0M617.5 538.5h0M540.6 465.6h0M491.8 419.8h0M577.2 671.6h0M382 553.8h0M431.8 546.7h0M642.7 517.8h0M606.8 593.2h0M394 514.4h0M692.2 530.6h0M682.2 532.9h0M598.7 696.7h0M644 618.8h0M526.9 433.1h0M614.9 520.9h0M624.6 438.7h0M612.1 698.9h0M519.9 546.7h0M462 714.4h0M563.4 630.8h0M580.1 562.3h0M523.6 410h0M505.9 426.9h0M656.9 481.5h0M397.1 651.1h0M387.6 559h0M553.7 743.1h0M398.4 490h0M375.3 625.6h0M426 477.1h0M545.7 595.6h0M495.4 665h0M489.1 696.8h0M499.6 732.9h0M536.9 429.6h0M607.6 731.4h0M572 528h0M625.9 493h0M517 514.7h0M460.1 599.9h0M544.3 727.5h0M564.6 661.7h0M486.4 571.3h0M360.3 556.3h0M557.6 430.6h0M652.9 529.6h0M457.1 485.1h0M671.3 576.5h0M527.9 682.5h0M448.7 496.6h0M508 697.4h0M556.4 506.4h0M472.8 485.2h0M682.7 645.7h0M501.1 670.7h0M375.5 560.3h0M646.7 508.5h0M474.5 420h0M687.8 567.9h0M663.9 487.6h0M517.4 551.2h0M512.2 522h0M522.9 436.8h0M462.8 616.3h0M453.9 630.9h0M494.6 477.5h0M496.4 424.9h0M390.4 598.4h0M668.2 609.5h0M581.4 555.9h0M568.4 553.1h0M540.4 504.6h0M678.5 603.8h0M520.5 539h0M408.4 577.8h0M496.7 723.1h0M618 453.4h0M362.4 572.9h0M437.3 519.3h0M551.4 585.3h0M534.8 748.3h0M591.8 673.3h0M612.7 643.9h0M550.6 488.6h0M522.3 566.5h0M630.6 444.2h0M618.6 723.7h0M586.6 434h0M493.2 484.6h0M514.6 423h0M602 722.5h0M585.6 650h0M609.4 471.3h0M509.7 422.7h0M483.7 699h0M440.6 555.3h0M606.6 712.6h0M549 694.2h0M651.5 520.3h0M375.4 639.1h0M405.6 459.4h0M404.6 653.2h0M465.2 633.7h0M644.3 696.3h0M678 629.8h0M643.1 647h0M537.5 504.7h0M613.8 468.3h0M469.3 645.4h0M556.5 499.4h0M533.6 658.7h0M582.7 415h0M462.8 591.5h0M378.1 630.9h0M358.3 574.7h0M671.3 626.6h0M466.1 724.8h0M561.8 570.1h0M554.1 743.8h0M417.5 695.6h0M624.3 665.7h0M431.4 517.7h0M543.2 712.6h0M585.4 722.7h0M393.3 639.9h0M659.2 508.4h0M444.2 531.4h0M469.2 423.8h0M644.2 508.7h0M407.1 664.6h0M484.7 743.8h0M676.3 669.5h0M516 417.7h0M457.6 706.7h0M458.2 422.7h0M589.9 471.7h0M598.1 497h0M422.7 656h0M586 436.3h0M458.2 510.8h0M378.7 606.6h0M513.7 750.4h0M620.8 719.9h0M630.7 553.8h0M551.7 687.3h0M634.9 717.7h0M539.5 737.5h0M552.7 500.3h0M470.1 693.7h0M451 549.9h0M440.4 660.6h0M635.6 691h0M629.4 661.1h0M667.1 550.5h0M699.4 550.5h0M380.1 520.1h0M573.8 579.3h0M470.9 497.5h0M533.3 609h0M687.3 627.6h0M603.4 731.8h0M569 485.6h0M501.4 509.3h0M664.9 506.5h0M481.3 443.4h0M620.4 452.7h0M595 737.6h0M491.6 518h0M411.4 471.1h0M578.4 430h0M444.2 616.2h0M654 597.2h0M576.8 497.9h0M560.2 411.7h0M421.2 533.5h0M504.3 467.3h0M658.7 639.6h0M533.2 600.1h0M695.1 596.2h0M475.8 506.1h0M479.6 657.9h0M560.5 477.3h0M409.5 456.6h0M675.1 505.3h0M584.3 490.8h0M633.5 505.6h0M550.4 560.7h0M559.9 531.7h0M621.4 649h0M485.4 436.6h0M689.1 598.4h0M383 627.6h0M575.9 494.8h0M482.9 561.2h0M646.5 613.6h0M703.4 596.5h0M669 565.4h0M643.5 493h0M418.1 502.2h0M563.3 716.4h0M612.6 434.2h0M467.7 699.5h0M475.9 701.5h0M536 544.7h0M636.5 639.1h0M621.2 678.7h0M645.4 571.7h0M448.3 470.1h0M437 696h0M688.9 528.8h0M386.6 604.3h0M613.4 552h0M379.2 640.6h0M674 583.4h0M558.8 528.2h0M404.6 673.2h0M515.6 709.8h0M527.9 621.5h0M446.2 574.5h0M634 670.6h0M438.3 439.7h0M689.5 632.2h0M423.9 568.8h0M449.7 626.8h0M390.8 593.3h0M502.8 677.5h0M631.1 617h0M682.8 541.1h0M551.6 593.8h0M576.2 595.2h0M650.1 513.8h0M480.6 461.8h0M669.3 672.9h0M669.4 551.4h0M551.9 430.5h0M387.5 665.4h0M606.6 648.3h0M458 631.3h0M578.4 684h0M459.6 571.2h0M536.5 579.8h0M558.7 514.4h0M691.1 618.9h0M435.8 489.4h0M369.9 641.1h0M664.5 673.4h0M520 706.4h0M599.3 692.7h0M553.3 539.3h0M442.7 600.7h0M664.9 631.2h0M424.1 462h0M501 421.9h0M536.9 534.8h0M535.9 748.5h0M642.3 693.5h0M420.4 550.5h0M494.1 508.5h0M582.3 468.9h0M592.5 723.1h0M550.1 445.4h0M619.1 490.9h0M416.6 535.3h0M692.5 525.5h0M616.9 630.5h0M670.4 535.8h0M479.5 550.2h0M477.5 714h0M563.2 648.4h0M487.3 524.1h0M601.3 472.5h0M449.5 517.1h0M581.5 681.3h0M433.4 597.3h0M543.3 683.5h0M606.3 450.9h0M420 454.7h0M590.9 441.4h0M445.8 583.5h0M637.7 686.7h0M414.2 696.7h0M449 663.2h0M585.5 487.5h0M440.1 533.1h0M457.3 724.1h0M373.3 560.4h0M382.8 647.1h0M392.3 529.8h0M477.7 701.7h0M680.2 664.3h0M529.9 673.3h0M598.9 450.4h0M396.8 675.4h0M447.7 662.2h0M601.5 605.5h0M387.6 641.1h0M677.4 492.2h0M487.5 585.6h0M472.3 434.8h0M591.1 493.7h0M517.8 476.8h0M476.9 413.4h0M530.4 620.8h0M467.1 606.9h0M684.5 623.4h0M493.1 502.9h0M638.9 463.7h0M520.5 431.2h0M384 487.2h0M634.3 451.2h0M481.2 632.9h0M595.9 444.4h0M666.7 612.2h0M552.1 555.9h0M549.3 596.3h0M452.9 623.5h0M437.3 450.2h0M599.3 462.6h0M482.4 512.3h0M559.6 423.1h0M395.5 481.4h0M541.3 679h0M486.3 740.1h0M505.9 566.5h0M433.8 668.1h0M654.5 686.1h0M671.1 542.9h0M385.9 519.9h0M414.9 583.6h0M555.3 575.3h0M572.4 739.4h0M460.4 432.4h0M489.1 639.3h0M460.7 635.1h0M555.7 634.4h0M550.2 538h0M574.4 460.4h0M539.9 702.2h0M379 608h0M507.7 509.2h0M552.5 731.7h0M581.9 591h0M459.8 572.2h0M402.1 595.7h0M673 630.7h0M515.2 426.6h0M426.6 595.6h0M522.3 643.7h0M554.7 604.4h0M596.7 722.7h0M505.9 519.9h0M654.5 667.3h0M434.1 476h0M507.8 443.7h0M560.6 647.5h0M397.9 653.3h0M587.3 432.2h0M551.4 461.2h0M495.1 662.6h0M576.4 611.6h0M490.5 529.7h0M595 451h0M518.8 451.6h0M399.4 495.2h0M497.9 706.2h0M569.1 502h0M676.8 577.4h0M630.9 501.6h0M536.7 683.7h0M566.4 631.4h0M609 602.7h0M519.5 749.3h0M455 566.2h0M467 631.4h0M536.2 456.6h0M662.9 482.9h0M622 471.1h0M397 516.1h0M649.8 574.8h0M457.9 722.9h0M530.2 684h0M423.5 662.3h0M648.5 579.5h0M619.3 596.1h0M629.9 524.4h0M635.4 473.8h0M566.5 536h0M613 552.5h0M507.9 447.5h0M685.9 515.2h0M513.7 493.1h0M696.5 625.4h0M387.7 663h0M600.9 494.6h0M602.8 469.3h0M487.6 497.6h0M563.9 416.6h0M659.8 615.8h0M506.4 420.2h0M444.8 680.8h0M601.9 577.1h0M586.1 643h0M377.8 550.7h0M562.9 426.1h0M405.2 686.7h0M494.4 637.8h0M598.7 427.8h0M590.1 505.2h0M580 624.4h0M526.4 596.8h0M590.7 709.1h0M679.3 605.1h0M383.9 578.4h0M544.1 717.6h0M486.3 712.7h0M454.8 444.2h0M400.2 654h0M489.4 597.3h0M636 460.2h0M473.1 511.1h0M549.1 630.5h0M498.3 449.8h0M613.6 645.1h0M568.4 505.6h0M674.3 506.9h0M538.3 632.3h0M534.1 747.5h0M502.4 412.4h0M445.9 652.6h0M441.6 487.5h0M411.6 553.2h0M372.4 533.3h0M556 703.5h0M534.7 457.6h0M653.7 579.7h0M597 735.9h0M462.9 646.3h0M437 504.3h0M482.6 584.8h0M537.4 499.8h0M682.9 517.7h0M629.5 568h0M693.1 533.5h0M638.8 468.7h0M626.8 576.8h0M545.2 496h0M411.2 582.5h0M436.3 486.9h0M599 710.8h0M394 514.1h0M471.2 667h0M412.1 649.9h0M595 430.4h0M574.7 718.9h0M490.2 544.3h0M491.5 703.8h0M624.9 550h0M595.8 497.5h0M428.8 693.6h0M445 507.4h0M534.5 606h0M512.5 473.4h0M589.6 667.3h0M399.3 503h0M582.3 741.4h0M599.7 467.4h0M547.9 689.9h0M424.2 458.2h0M585 629.5h0M454.1 726.8h0M613.1 557.8h0M436.8 465.8h0M500.3 545.9h0M460.5 578.2h0M682.2 505.9h0M529.7 509.9h0M428.6 646.1h0M383.8 614.1h0M550.2 738.4h0M650.5 665h0M497 511.2h0M696.7 539.4h0M638.8 705.1h0M470 631.4h0M647.1 663.3h0M689.3 506.1h0M390.4 492.7h0M495.5 692h0M468.6 442.4h0M562.6 683.8h0M461.5 484.4h0M609.7 569.3h0M473 433.4h0M505.2 721.7h0M566.7 630.6h0M435.2 482.9h0M525.8 620.5h0M563.2 414.7h0M687 570.6h0M568.1 510.6h0M427.5 709.4h0M430.4 550.8h0M661.4 518.6h0M633.8 597.3h0M494.4 569.3h0M618.5 560.6h0M602.1 681.5h0M655.3 655h0M497.8 720.1h0M434.6 602.7h0M460 734h0M642.8 568.5h0M410.3 690.2h0M410.5 548.9h0M498.3 549.1h0M488.1 608h0M628.2 637.5h0M545.9 496.9h0M461.2 563.7h0M561.3 496.3h0M519.8 431.4h0M401.7 528.2h0M597.1 651.1h0M575.5 697h0M497.7 588.1h0M427.4 585.9h0M363.6 575.6h0M460.6 439.7h0M574.6 504.2h0M410.1 689.7h0M575 565h0M619.8 670.5h0M588.1 582.7h0M642.9 455h0M637.5 680.6h0M677 604.6h0M429.5 549.9h0M523.5 526.5h0M482.1 600.5h0M412.6 647.6h0M469.9 539.9h0M534.3 699.1h0M446.6 710.5h0M440.6 542.3h0M606.2 735.1h0M533.7 722h0M687.9 591.8h0M505.4 622h0M494.9 720.3h0M499 462.4h0M452.4 700.8h0M593.5 597h0M655.7 613.2h0M496.3 471.3h0M492.1 745.8h0M415.7 611.2h0M595 429.6h0M513.7 433.5h0M368.5 523.7h0M630.3 506.6h0M533 409.5h0M496.9 452.3h0M605.8 468.2h0M489.4 483.1h0M550.5 584.7h0M460 660.6h0M576.7 447.1h0M588.5 556.4h0M666.4 581.3h0M621.4 590.7h0M570.8 698.9h0M588.7 672.6h0M595.8 714.3h0M470.4 496.1h0M444.2 675.5h0M593.2 516.7h0M589 497.7h0M483.5 729.4h0M610.2 604.1h0M439.4 668.8h0M497.7 748.5h0M536.5 495.5h0M527.9 417.2h0M377.2 644.1h0M607.8 633.6h0M526.4 429.3h0M611.6 730.4h0M475.8 720.6h0M557.3 420.4h0M366.9 552.2h0M415.1 583.3h0M561.1 707.9h0M603 682.6h0M529.2 671.7h0M675.5 607.3h0M541.4 538.5h0M535.2 726.7h0M523.9 497.6h0M646.1 570.2h0M490.4 497.9h0M521.6 684.3h0M637.7 649.8h0M459.2 700.5h0M685.3 559.7h0M566.9 722.3h0M510.3 555.7h0M492.7 719.7h0M470.4 569.1h0M641 450.6h0M400.6 573.7h0M561.1 637.5h0M421.6 451.8h0M602.2 602.9h0M698.3 564.5h0M446.9 450.2h0M435.1 501.1h0M534.2 499.3h0M567 689.5h0M381.1 514h0M543.3 476h0M406 631.3h0M666.7 585.5h0M658.9 479.4h0M446.3 542.4h0M388.9 494.6h0M687.7 651.2h0M389.4 568.1h0M656.5 458h0M538.3 477.1h0M438.5 629.9h0M685.5 574.2h0M658.7 655.4h0M376.1 619.1h0M465.5 726.2h0M454 454h0M598.7 614.2h0M629.5 704.6h0M438.1 556.6h0M492.4 683.9h0M594.8 430.5h0M530.6 724.7h0M509.3 582h0M522 561h0M623.8 446.7h0M618 715.8h0M664 504.9h0M408.8 660h0M572.8 515.2h0M524.4 719.3h0M495.1 439.3h0M577.8 436.2h0M486 607h0M629.2 618.6h0M437.6 602.8h0M679.2 653.4h0M645 554.8h0M631.5 582.4h0M572.2 678.8h0M386.2 633.4h0M548.7 592.2h0M688.2 603.4h0M601.7 651h0M479 518.4h0M384.9 536.7h0M549.4 650h0M497.9 522.3h0M639 691.1h0M559.6 723h0M595.9 571h0M598.6 515.8h0M523.3 532.4h0M605.6 447.9h0M669.6 483.3h0M636.3 602.1h0M651.2 657.7h0M575.5 724h0M463.7 445.8h0M490.9 533.3h0M590.6 534.6h0M651.5 633.6h0M553.9 670.1h0M570.4 607.6h0M568.5 668.9h0M497.3 679.2h0M431.9 652.9h0M655.7 614h0M420.9 617.6h0M438.7 675.3h0M623.9 688.6h0M601.8 620.6h0M605.4 523.7h0M475.1 558h0M553.2 630.5h0M519.3 728.4h0M396.3 485.5h0M490.9 519.1h0M484.7 554.4h0M532.5 425.4h0M594 512.4h0M559.3 510.4h0M657.8 682.1h0M627.7 499.7h0M567 619.7h0M480.4 590.5h0M532.1 418.1h0M520.7 729.1h0M611.3 683.3h0M686.5 548.2h0M454.1 706.2h0M451.6 649.1h0M482.8 514.4h0M406 676.8h0M492.4 607h0M657.6 662.6h0M456.5 684.1h0M669.7 475.2h0M538.5 540.9h0M530.9 627.4h0M460.2 495h0M451.4 604.9h0M440.7 659.2h0M542.6 635.1h0M667.2 473.2h0M631.3 532h0M622.5 656.1h0M463 592.1h0M548.5 569.5h0M484.9 689.5h0M497.9 603h0M634.5 520.8h0M421.1 701.8h0M604.8 706.4h0M595.6 609.3h0M524.7 666.8h0M430.5 515.5h0M508.8 716.2h0M614.3 557h0M642.5 553.7h0M648.9 610.3h0M512 743.1h0M653 698.7h0M456.5 604.4h0M513.7 662.4h0M633 500.7h0M369.4 575.8h0M420.5 591.7h0M504.6 482.8h0M507.8 697.6h0M602.8 615.1h0M651.5 528.1h0M426.6 691h0M655.4 528.4h0M634.6 518.2h0M508.1 517.6h0M426.8 671.7h0M521.1 490h0M392.9 530.3h0M447.9 635.8h0M602 503.9h0M463.8 599.5h0M426.9 603.4h0M519.4 542.6h0M370.4 633.8h0M525.4 482.3h0M619.4 722.1h0M493.5 722.3h0M380.2 662.8h0M518.5 429.4h0M380.3 552.5h0M583 518.2h0M549.7 726.6h0M696.8 609.5h0M450.3 592.2h0M532.1 475.2h0M608.7 674.5h0M488.6 442.4h0M473.4 573.2h0M402.1 479.3h0M530.2 532.9h0M635.8 717.3h0M601.4 421.6h0M472.5 603.1h0M408.6 639.9h0M523.4 565.7h0M576.2 715.2h0M699.4 552.5h0M700.6 562h0M483 481h0M407 500.4h0M633.3 479.7h0M609 522.4h0M432.5 623.9h0M464 629.2h0M472 461.2h0M552.8 714.4h0M583.7 738.4h0M434.4 534.6h0M486.1 578.3h0M676.4 673.4h0M602 462.4h0M431.1 690.3h0M434.7 584.2h0M643.4 542.4h0M453.5 721.3h0M497.5 539.2h0M464.6 672.4h0M524.4 501.7h0M567.5 515.3h0M392.9 608.3h0M481.7 514.2h0M634.1 650h0M630.5 589.7h0M685.4 579.7h0M501.3 564.2h0M380.8 499.8h0M617.8 695.3h0M666.9 485.1h0M511.1 655.3h0M634.3 537h0M572.5 648.2h0M428.1 624.1h0M452.5 729h0M475.5 647.4h0M452 490h0M432.6 588.3h0M599.5 619.3h0M688.9 649.2h0M370 563.6h0M390.6 513.6h0M442.1 681h0M598.9 582.4h0M393.2 661.2h0M459.2 482.6h0M503.6 586.5h0M608 462h0M602.8 582.5h0M604.2 430.1h0M484.7 461.7h0M485.1 491.7h0M612.8 480.7h0M421.8 628.3h0M598.6 667.1h0M636.8 478.9h0M493.8 579.6h0M626.6 510.2h0M456.6 447.4h0M470.8 689.8h0M574.4 730.6h0M516.2 406.6h0M534.6 605.3h0M485.5 552.7h0M438.7 694.2h0M566.8 744h0M475.3 645.9h0M360.2 602.2h0M530.4 455.8h0M567.5 614.1h0M586.5 719.1h0M671.3 526.1h0M398.9 485.5h0M487.2 720.2h0M591.4 437.6h0M474.8 603.8h0M631.8 707.5h0M523.6 473.2h0M500.8 518.9h0M386.6 493h0M404 484.7h0M690 631h0M428.2 463.1h0M637.2 523.4h0M513.4 625.9h0M397.8 650h0M667.3 480.9h0M417.3 684.2h0M394.3 512.8h0M619.1 712.5h0M570.3 414.3h0M489.9 589h0M464.3 498.2h0M631.5 457.4h0M533.7 706.5h0M494.2 515.7h0M405 591.3h0M489.9 463.9h0M584.9 559.8h0M594.1 690.6h0M666.8 576.7h0M422.5 504.5h0M593.7 650.2h0M407.4 693.8h0M624.3 530.7h0M582.7 676h0M428.2 594.8h0M610.1 461.6h0M582.6 417.5h0M440.7 686.5h0M587 465.8h0M454.1 619h0M493.9 423.1h0M473.3 483.6h0M424.5 560.7h0M522.9 741.7h0M509.9 717.4h0M683.3 554.8h0M643.6 577.6h0M583.2 682h0M424 549.8h0M593.2 497.6h0M501 544.5h0M497.8 410.6h0M546.1 499.9h0M693.8 603.3h0M667.6 552.1h0M457.5 707.2h0M589.4 628h0M571.5 481.7h0M476.2 694.1h0M452.3 529.1h0" stroke="#cdcea2" stroke-width="2.0" stroke-linecap="round"/>
<path d="M679.2 501.7h0M466.2 540.3h0M447 637.5h0M409.3 655.1h0M657.8 571.1h0M412.3 481h0M574.7 528.9h0M405.2 663.4h0M390 524.1h0M591.1 419.2h0M418 467.7h0M507.1 407.3h0M375.6 597h0M639.1 462.1h0M589.6 637.8h0M518.7 612.8h0M639.9 505.1h0M534.8 519.5h0M460.9 459.4h0M599.4 612.2h0M369.1 551.8h0M535.3 645.3h0M496.1 606.7h0M416.2 643.5h0M529.5 572.2h0M486 702.3h0M438.1 629h0M477.5 578.6h0M587.3 501.3h0M577.8 568.1h0M539.4 466.5h0M483.8 467h0M453.4 658.7h0M532.2 554.6h0M432.1 476h0M514 627.6h0M490.5 444.6h0M575.5 446.7h0M605 461.6h0M416.2 567h0M668.3 487.6h0M463.5 457.9h0M609.9 529h0M567.1 699.5h0M529.5 459h0M624.5 715.9h0M533.2 410.2h0M582.2 533.6h0M542.8 538.9h0M676.2 544.7h0M560.8 482.7h0M505.1 522.2h0M678.4 593h0M397.2 485.8h0M423 534.1h0M489.6 535.7h0M451.2 555.7h0M379.7 519.7h0M398.7 536.9h0M537.5 430.6h0M489.8 632.9h0M367.6 554.9h0M621.6 574.4h0M382.8 650.2h0M678.3 603.5h0M450.1 666.1h0M520.7 561h0M687.7 578.7h0M561.4 490.9h0M381.2 519.1h0M516.4 529.2h0M644.9 556.8h0M462.7 468.5h0M527.2 600.6h0M546.7 430.1h0M426.5 505h0M408.8 694.1h0M610.2 438.7h0M564.8 748.6h0M667.2 537.5h0M676.5 632.2h0M670.4 483.6h0M366.8 600.1h0M434.6 515.1h0M644.3 633h0M555.7 608.5h0M678.5 637.6h0M590.8 632.7h0M482.9 427.7h0M546.8 495.5h0M456.4 640.9h0M616.2 597h0M410.7 457.5h0M573.7 578.7h0M451.8 529.5h0M587.8 557h0M671.5 678.1h0M438.5 712.3h0M671.5 610.5h0M546 593.2h0M498.7 601h0M410.1 671.7h0M587.3 439.3h0M599.4 456h0M497.2 657.3h0M566.7 691.3h0M634.6 453.1h0M414.6 664.6h0M526.5 745.1h0M440.3 710.3h0M428.1 585.4h0M508.9 530.7h0M536.9 561.7h0M489.3 722.9h0M528 703.1h0M417.6 646.5h0M606.5 537.2h0M458.7 637.9h0M700.9 536.8h0M397.3 504.1h0M572.1 530.6h0M418.9 693.9h0M496.6 743.6h0M577.2 730.1h0M542.4 413.8h0M527.4 415.2h0M419.2 456.6h0M664.1 594.5h0M583.7 629.1h0M572.6 707.3h0M634.6 550.3h0M625.5 644.6h0M389 639.4h0M576.2 423.7h0M575 600.4h0M405 575h0M605.1 519.8h0M517.2 728.8h0M401.8 520.8h0M534.7 697.9h0M439.7 446.4h0M655 601.1h0M420.5 504.9h0M535 568.4h0M692.6 520.6h0M404 655.8h0M630.2 687.1h0M596.7 424h0M425.4 574.2h0M361.1 575.6h0M636.5 472h0M637.3 575.5h0M477.8 550h0M507.4 653.2h0M579.1 668.7h0M645.6 547.7h0M664.6 477.8h0M438.3 533.4h0M438.7 609.4h0M499.1 728h0M584.7 554.5h0M500.8 590.7h0M473.6 741.7h0M515.6 599.2h0M661.7 491.5h0M446.8 446.8h0M525.2 520.5h0M473 543.8h0M399.1 598.8h0M519.6 435.8h0M519.7 610.8h0M449.8 588h0M560.9 456.2h0M576.1 478.9h0M651 645.7h0M458.9 692h0M480 487.3h0M686.2 500.1h0M635.8 439.8h0M654.9 495.7h0M518 434.5h0M688.8 596.9h0M540.4 736.2h0M407.2 607.4h0M406.7 545.5h0M503.9 638.1h0M454.7 466h0M534.6 627h0M540.6 681.8h0M461 533.6h0M594.4 545.9h0M422.9 548.4h0M447.2 672h0M397.4 499.1h0M477.9 640.9h0M472 579.3h0M652.1 667.6h0M565.1 673.7h0M565.9 484h0M555.5 684.6h0M474.4 651h0M589.7 733h0M541.3 694h0M466.8 652.1h0M547.5 585.7h0M388.6 492.7h0M487.5 616h0M596.1 736.1h0M484.7 423.5h0M448.6 480.7h0M474.3 527h0M671.9 549.7h0M475.7 433.6h0M485.6 504.4h0M581.5 534.9h0M431.7 664.2h0M476 690.5h0M518.4 725.9h0M547.3 442h0M531.8 540.1h0M459.7 733.1h0M439.2 526.5h0M699.8 546.4h0M411.7 595.5h0M609.7 535.7h0M624.2 546.3h0M542.3 479.4h0M556 740.5h0M550.5 539.7h0M422.7 454.5h0M533.6 567.4h0M647.7 648.1h0M467.3 490.9h0M539.6 498.5h0M391.3 531.8h0M582.5 670.5h0M612 710.8h0M532 596.6h0M436.9 565.7h0M362.7 603.7h0M490.1 541.7h0M600.8 721.6h0M414.3 515.2h0M407.9 468.2h0M650 589.8h0M593.7 473.1h0M443.5 686.8h0M579.1 583.8h0M546.2 579.5h0M542.8 576.8h0M551.2 678.2h0M538.5 728.7h0M536.7 456.5h0M541.3 506.3h0M537.3 406.3h0M456.6 559.3h0M398.3 560.8h0M632.4 710.1h0M419.8 678.5h0M506.2 608.8h0M609.4 711.3h0M583.7 443.7h0M469.6 536.7h0M518.3 659.3h0M623.2 576h0M532.5 425.2h0M603.5 566.5h0M410.3 641.4h0M605.8 627.7h0M435.5 722.7h0M642.5 651.5h0M549.7 685h0M401.4 466.2h0M699.2 537.3h0M495.8 542.1h0M574.8 586.2h0M534.6 413.9h0M588.5 436.9h0M660.6 677.8h0M550.9 624.4h0M415.6 517.5h0M509.7 532.8h0M672.7 526.1h0M486.7 505h0M380.9 591.8h0M363.7 602.9h0M600.2 634.7h0M434 626.7h0M544.9 488.8h0M556 550.1h0M417.3 637.6h0M406.1 463.6h0M636.1 500.5h0M413.8 664.1h0M541.4 699.2h0M632.4 456.6h0M691 645h0M403.4 693h0M500.6 639.8h0M674 642h0M624.2 707.2h0M531.9 543.8h0M451.2 614.6h0M533.3 655.6h0M619.8 720.2h0M513.8 542.6h0M501.7 536.3h0M496.5 724.8h0M400.6 507.5h0M455.1 436h0M413.4 566.3h0M371.4 595.1h0M393.9 625.6h0M436.4 676.3h0M437.6 531.8h0M493.5 500.4h0M670.6 488.4h0M521.6 440.5h0M537.6 730.8h0M565.4 697.8h0M454.3 433.6h0M640.3 694.3h0M411.2 508.7h0M417.5 678.6h0M605.2 508.8h0M620.4 720.1h0M458 567.2h0M664.4 639.5h0M462.7 525.4h0M406.8 516h0M503.2 428.4h0M637.7 471.4h0M398.6 604.3h0M541.5 646.6h0M361.7 544.9h0M578 744.9h0M555.9 688.3h0M539.2 484.6h0M394.4 672.4h0M589.1 490.7h0M438.4 527.3h0M594 692.1h0M594.8 540h0M591.1 641.1h0M365.6 602.8h0M435.1 622.9h0M556.6 614.2h0M578 733.6h0M630.9 539.5h0M544.1 733.4h0M553.7 415h0M453.2 523.3h0M478.4 440.2h0M441.9 674.8h0M480.9 596.5h0M681.9 639.9h0M534.7 718.4h0M583.4 412.1h0M599.3 604h0M398.3 591.5h0M444.7 674.9h0M451.1 578.7h0M675.7 648.4h0M528.4 590.9h0M517.9 500.3h0M409.3 666.1h0M549.6 748.6h0M503.2 415.7h0M391.6 661.4h0M514.9 678.5h0M546.9 635.4h0M523.9 743.4h0M476.5 600.3h0M614.1 717.3h0M564.4 429h0M606.1 695h0M450.2 557.1h0M416.5 702.7h0M642.3 557.6h0M424.6 531.9h0M485.2 641.3h0M539.9 518.1h0M525.9 458.4h0M464.5 635.7h0M493.3 616.6h0M603.2 434.3h0M408.3 585.1h0M475.8 494.3h0M675.2 512.6h0M660.4 489.9h0M537.8 474.1h0M541 470.7h0M583.6 481.6h0M524.5 562.5h0M617.7 667.1h0M414.3 607.1h0M555.2 623.6h0M427.2 444.9h0M440.3 562.2h0M535.6 717.5h0M597.5 537.4h0M590.4 438.7h0M553.6 742.6h0M542.8 412.9h0M468 572.9h0M513 553h0M591 456.5h0M494.6 428.6h0M484.2 666.5h0M557.6 531.2h0M467.6 535.3h0M618.1 475.3h0M521.5 609.3h0M499 411.9h0M443.5 497.4h0M543.3 678.6h0M448.5 577.6h0M645.4 694.6h0M684.8 544.5h0M417.5 707.8h0M433.1 694.5h0M461.1 437.6h0M575.7 459h0M520.9 709.3h0M469 663.1h0M577.2 667.6h0M530.8 615.8h0M415.2 467.7h0M629.6 566.8h0M563 629h0M467.4 489.5h0M411.5 654.2h0M551.6 725.8h0M431.8 467.4h0M380.2 581.4h0M652.6 504.7h0M502.5 679.8h0M523 711.4h0M482 445.1h0M557.7 739.6h0M453.9 527.9h0M462.2 672.4h0M581.3 421.8h0M608.4 470.3h0M620.3 432.8h0M553.4 443.8h0M601.8 426.3h0M563.6 659.5h0M416.4 609.7h0M610 572.4h0M456 559.5h0M593.7 501.6h0M626.3 673.8h0M596.8 738.2h0M651 463.8h0M614.8 552.2h0M703.8 570.9h0M516.9 453.2h0M548.6 596.4h0M530.4 416.8h0M624.3 686.6h0M644.8 633.3h0M379.1 504.6h0M667.2 629.1h0M429.8 692.2h0M393.6 679.4h0M639.9 447.3h0M370.3 636.1h0M685.4 531.3h0M544.2 408h0M649.5 687.9h0M621.3 693.5h0M479.3 413.2h0M564.4 445.5h0M641.6 561.8h0M533.6 610.4h0M495 490.9h0M424 706h0M463.7 564.9h0M638.1 588.9h0M662.2 626.2h0M678.9 550.9h0M468.9 486.3h0M555 738.2h0M554.6 684.7h0M573.2 462.5h0M432.5 574.6h0M525.5 431.2h0M546.2 678.6h0M390.9 656.2h0M688.7 595.2h0M530.6 416.8h0M550.2 454h0M483.5 509.2h0M544.9 584.7h0M492.3 645.7h0M562.5 487.8h0M648.3 482.7h0M453.7 622.6h0M457.1 727.6h0M569.4 648.2h0M401.3 589.3h0M434.4 719.4h0M401.1 667.8h0M522.7 739.5h0M400.5 670.6h0M668.6 514.6h0M614.6 500.2h0M634.9 604.8h0M593 639h0M373.2 590.4h0M675.2 638h0M370 528.9h0M377.4 499.7h0M667.7 674.2h0M599.5 503.5h0M615.5 502.4h0M669.1 657.8h0M417.7 568h0M468.3 483.8h0M435.5 672.7h0M460.5 457.7h0M490.6 425h0M596 692.1h0M381.5 568.8h0M431.6 534.1h0M367.2 598.5h0M587.4 424.6h0M427.6 511.4h0M531.3 464.2h0M607.5 568.1h0M550.5 701.8h0M631.7 718.3h0M597.3 533h0M457.1 458.3h0M485.7 607.7h0M386.3 567.4h0M462.4 609.5h0M465.9 732.4h0M436.4 709.5h0M592.2 728.1h0M442.1 543.5h0M433.4 480.6h0M667.1 611.9h0M530 690.8h0M517.4 631.1h0M553.8 435.3h0M594.4 673.3h0M496.3 481.2h0M576.5 744.2h0M690.4 616.8h0M451.8 692.1h0M380.3 512.2h0M402.6 677.5h0M504.6 742.5h0M496 609.7h0M604.8 439.8h0M536.3 657.4h0M610.9 548.1h0M630.2 500.8h0M362.7 571.3h0M431 695.3h0M375.3 615.8h0M432 483.7h0M407.7 657.8h0M566 647.1h0M630.5 487.3h0M636.8 625.5h0M453.1 520.9h0M685.9 552.5h0M438.8 703.6h0M393.2 659h0M530.6 626.5h0M572.2 518.6h0M612.2 531.2h0M448.8 610.1h0M686 592h0M362.9 554.8h0M651.5 621.2h0M432 620.4h0M472.4 495.5h0M569.7 484.3h0M571.7 434.3h0M690.4 508.4h0M629.7 706.4h0M609 607h0M679.9 559.2h0M658.7 588.9h0M449.8 482h0M494.9 451.8h0M519.5 489.2h0M415.9 543.5h0M677.9 577.4h0M673 609.2h0M533.8 521.1h0M579 677.3h0M558 429h0M450.1 600.5h0M686.4 519.3h0M507.5 737h0M510.7 543.3h0M654.1 509.9h0M500.4 661.1h0M455.4 711.7h0M466.2 521.3h0M690 605.5h0M580.8 507.9h0M502.6 431.9h0M365 547.9h0M432.7 445h0M458.5 637.9h0M425.7 558.7h0M518.3 467.1h0M458.1 540.8h0M543.4 659.4h0M666.3 678.1h0M535.8 547.2h0M482.7 706.1h0M374.6 570.6h0M687.7 627h0M437.1 542.9h0M634.5 588.5h0M423.3 604.8h0M454.3 728.4h0M474.2 550.2h0M536.5 677.4h0M655 514h0M439.1 467.5h0M465 524.6h0M500.3 468h0M398.3 529.3h0M604.9 618.9h0M400.1 681.2h0M396.3 593.5h0M532.6 657.8h0M586.8 416.5h0M645.8 541.8h0M398.9 492.2h0M644.7 559.7h0M456 692.1h0M520.1 452.1h0M546 420.8h0M450.8 643.6h0M653.3 570.9h0M563.7 544.8h0M437.7 449.9h0M527 435.9h0M543 406.8h0M648.2 498.5h0M564.8 607.5h0M381.5 617.2h0M649.2 640.9h0M604.3 587.8h0M553.6 411.2h0M664.6 497.6h0M449.2 505.7h0M460.5 717.1h0M590.6 603.3h0M498.6 468.4h0M679.2 629h0M564.6 442.4h0M595.9 652.4h0M534.9 575.6h0M693.6 561.8h0M437.4 479.6h0M522.4 573.9h0M532.3 742.1h0M526.1 570.3h0M656.7 486h0M538.3 672.1h0M546.3 699.2h0M580.7 722.6h0M369.4 573.4h0M569.3 492.9h0M429.2 600.3h0M512.8 430.8h0M623.2 685.7h0M501.2 653.9h0M693.4 568.1h0M660.6 636.9h0M501.3 673h0M617.7 520.8h0M401.9 465.2h0M505 592.2h0M431.3 509.4h0M466.8 735.8h0M516.6 632.7h0M649.4 461.2h0M414.8 452.7h0M689.1 611.7h0M548 484.6h0M376.8 605.7h0M440.6 578.2h0M650.8 674.5h0M512.9 725.4h0M570.8 531.2h0M511.7 423.8h0M541.9 451.3h0M698.5 579.1h0M414.8 570.7h0M399 611.8h0M371.7 613.2h0M641 693.8h0M634.4 632.5h0M546.2 452h0M403.5 666.6h0M543.3 425h0M644.5 562.9h0M660.9 507.9h0M564 443h0M625.2 720.6h0M592.3 541.5h0M377.5 528.6h0M574.9 671.4h0M564.4 691.7h0M508.9 417.9h0M495.2 707.2h0M657.6 607.6h0M449.8 563.3h0M563.5 509.9h0M366.2 630.4h0M629.8 604.6h0M528.1 650.7h0M655.7 570.9h0M536.6 725.1h0M483.2 439.4h0M581.5 600h0M480.7 439.2h0M566 447.7h0M528.9 425h0M539.4 414.8h0M575.5 742.3h0M605.7 723.9h0M521.3 575.3h0M615.9 692.5h0M511.7 610h0M533.9 465.6h0M602.7 576.3h0M624.2 570.8h0M412.9 669.6h0M563.7 668.5h0M488.2 430.9h0M503.8 675.7h0M447 593.3h0M651.5 506.8h0M581.3 588.3h0M665.5 560.4h0M552.6 740.4h0M602.5 622.9h0M625.9 453.5h0M585.5 440h0M417.4 508h0M589.7 578.2h0M441.9 681.8h0M658.8 538h0M543.9 714.4h0M407 509.6h0M584.4 727.8h0M627.4 449.2h0M567 461.4h0M559.7 639.2h0M373.2 558.6h0M646.7 624.4h0M384.9 616.4h0M477.7 513.1h0M535.6 530.8h0M626.4 550.4h0M516.2 589.5h0M538.3 584.2h0M429.9 670.7h0M523.1 522.8h0M393 620.3h0M655.8 613.2h0M551.3 511.2h0M573.9 489.2h0M409.8 493.7h0M540.9 567.5h0M456.3 481.6h0M427.8 471.5h0M449.3 520.3h0M514.2 487.9h0M411.4 592.5h0M642.9 474h0M698.7 568.7h0M583 587.5h0M621.5 514.4h0M380 573.3h0M542 410.8h0M554.6 709.7h0M458 487.6h0M554.3 716.8h0M481.8 671h0M576.2 695.3h0M486.2 508.4h0M394.1 630.8h0M575 739h0M538.4 523.1h0M659.5 501.7h0M611.9 609.7h0M545.2 746h0M480.3 723.3h0M491.1 606.8h0M651 455.4h0M657.9 509.1h0M491.4 645.8h0M629.6 436.8h0M558.6 582h0M456.5 640.5h0M629.9 439.7h0M497.1 641.4h0M504.7 702.2h0M533.9 725.3h0M672.6 633.6h0M562.4 469.7h0M627.1 551.5h0M479.1 453.5h0M472.1 510.6h0M590 534h0M572.7 452.1h0M612.9 596.5h0M472.5 649.8h0M473.2 696.5h0M637.2 705.8h0M665.2 685.1h0M595.3 433.3h0M472.6 466.5h0M550.9 533.7h0M472.7 557.2h0M582 694.5h0M456.8 553.2h0M428.1 463.6h0M513.1 463.8h0M553 711.3h0M611.8 725.4h0M604.5 565.3h0M491.5 729.8h0M656 616.8h0M626.3 521h0M387.4 503.4h0M364.7 542h0M688.4 611.5h0M499.3 572.8h0M487.9 714.9h0M507.3 675.2h0M403.6 691.3h0M474.3 417.9h0M648.7 681.8h0M556.1 539.2h0M476.3 601.8h0M557.2 476.2h0M598.6 715.7h0M522.2 640.1h0M582.6 736.9h0M566.6 570.3h0M446.1 438.6h0M699.5 618.5h0M425.1 692.8h0M549.4 534.9h0M551.9 435.1h0M583.1 738.5h0M513.5 541.5h0M606.4 634.1h0M512.6 738.1h0M421.3 493.8h0M445.4 441.2h0M606.6 733.4h0M588.8 540.8h0M632.2 691.2h0M688.1 589.8h0M501.5 642h0M558.5 586.3h0M368 563.5h0M551.5 421.7h0M544.8 502h0M502.3 429.8h0M406.9 671h0M526.5 439.5h0M556.5 697.9h0M434.5 488.8h0M429.5 554.8h0M626.8 438.1h0M503.8 627.2h0M387.2 649.3h0M369.7 598.3h0M514.1 662.1h0M396.4 639.2h0M611.4 710.9h0M687.3 512.5h0M630.5 551h0M438.3 602.3h0M431.9 453.3h0M680.5 648.1h0M575.4 597.5h0M443.4 481.6h0M620.4 469.2h0M524.9 589.1h0M469.1 517.7h0M432.2 509.3h0M613 500h0M579.5 621.4h0M578.8 728.5h0M464.8 670h0M622.6 710.2h0M428.2 624.1h0M430.9 582.9h0M427.2 500.1h0M594.7 496h0M584.6 518h0M498.1 493.1h0M500.1 615.5h0M410.3 687.7h0M418 625.4h0M501.8 572.3h0M527.9 515.1h0M522.5 594.2h0M485.7 555.1h0M588.7 429.2h0M428.5 501.1h0M376.8 517.8h0M610.2 665.7h0M554.3 750.2h0M670.6 550.1h0M653.2 648.2h0M430.4 708h0M549.7 748h0M623.1 651.2h0M493.1 601.5h0M645.1 455.5h0M509.9 477.5h0M435.8 705.2h0M662.2 586.6h0M416.7 522.3h0M644.8 683.3h0M538.4 666h0M482.2 468.8h0M492.4 413.1h0M383.6 570.9h0M646.5 699.3h0M416.5 465.5h0M388.1 590.5h0M531 605.2h0M616.8 725.7h0M677.8 547.7h0M498.7 507.5h0M624.6 598.8h0M406.4 554.4h0M651.1 528h0M581.1 484.6h0M412.8 538.7h0M437.7 719.5h0M555.6 686h0M528.6 426.5h0M421.4 566.1h0M415.4 539.4h0M511.8 526.6h0M507 697.2h0M625.6 530.7h0M467.3 667.4h0M448.1 719.6h0M530.1 750h0M579 711.2h0M616.4 542.2h0M609 422.7h0M660.7 464.8h0M432.8 465.6h0M408.3 677.7h0M413.1 666.8h0M526.6 569.1h0M436.7 685.8h0M506.9 541.5h0M554.9 631.7h0M537 628.1h0M562 745.4h0M505.9 422.4h0M604 621.9h0M460.1 628.3h0M433.2 503.4h0M398.9 545.9h0M384.7 519h0M645.7 517.3h0M405.7 666.6h0M672.9 642.2h0M669.5 656.6h0M535.3 647.6h0M663.4 628h0M421.6 673h0M681.2 552h0M440.8 634.7h0M667.5 669.1h0M698.4 532.9h0M373.3 551.4h0M368.4 589.8h0M427.6 515.4h0M384.6 635.4h0M671.5 599.8h0M388.5 545.3h0M541.3 516.6h0M524.5 748.3h0M469.7 550.3h0M673.4 640.4h0M537.2 733h0M479.6 717.5h0M534.8 671.4h0M372.9 552.9h0M609.4 728.3h0M471.9 711.8h0M457.9 476.2h0M433 719.1h0M571.1 518.2h0M555.5 741h0M687.7 638.7h0M478.8 585.9h0M479.8 450.7h0M567.8 674.8h0M464.5 427.3h0M394.6 651h0M615.1 635.1h0M639.6 511.4h0M518.7 640.5h0M407.5 543.8h0M549.6 520.7h0M388.2 505.6h0M642.2 553.1h0M636.3 441.5h0M560.1 549.3h0M492.5 596.7h0M589.3 649.7h0M499.5 699.3h0M579 661h0M526.9 681.6h0M546.8 672.2h0M579.2 595.8h0M599.5 617.5h0M567.5 722.6h0M390.1 678.7h0M639.2 532.7h0M483.4 645.1h0M520.7 493.8h0M585.8 415h0M616.4 430.5h0M628 682.9h0M617.3 659.3h0M604.8 424.2h0M537.4 740.5h0M681.4 652.9h0M418.1 457.8h0M627.9 461.7h0M549 655.7h0M651.8 478.6h0M617.9 702.4h0M541.3 653.5h0M468 578h0M605.8 689.2h0M422.1 642.4h0M637.5 701.9h0M507.8 709.3h0M591.8 470.5h0M373.5 544.9h0M525.8 735.2h0M404.3 664.9h0M702.5 607.1h0M566.9 451.6h0M687.7 599.4h0M613 595.4h0M583.1 493.5h0M585.5 711.7h0M442.5 698.8h0M682.1 535.9h0M445.6 439.4h0M573.6 643h0M631.1 535.7h0M432.2 595h0M585.7 578.4h0M496.7 491.3h0M598.3 439.6h0M377.9 627.8h0M547.5 527.2h0M379.7 604.2h0M614.4 514h0M660.6 658.3h0M540.8 459.8h0M438.3 458.6h0M620 432h0M567.8 506.6h0M593.5 721.2h0M456 702.2h0M558.1 421.3h0M644.1 645.6h0M623.3 660h0M612.2 716.3h0M456.3 669.1h0M553 746.3h0M574 645.3h0M657.9 602h0M508 461.3h0M545.6 456.6h0M469.2 583h0M548.7 546.8h0M650.7 490.9h0M611.3 626.7h0M387.1 569.9h0M540.1 547.7h0M686.1 532.1h0M417.9 558.8h0M541.7 410.8h0M653.2 695.4h0M524.9 418.2h0M432.6 519.4h0M561.9 679.4h0M614.9 561.2h0M385.6 636.7h0M547.8 461.2h0M659.9 480.5h0M489.6 633.9h0M459.3 639h0M407.2 633.5h0M532.6 747.5h0M533.3 621.5h0M511 640.2h0M514.1 569.8h0M620.8 565.3h0M427.1 603.8h0M527.2 653h0M422.1 640.4h0M482.1 537.8h0M496.8 660h0M601.3 732.8h0M678 515.8h0M490.5 628.4h0M516.3 570.3h0M699.4 589.1h0M480.6 427.6h0M402.3 500.4h0M627.6 664.7h0M602.8 426.5h0M644 627.4h0M649.3 545.1h0M464.8 615.5h0M556.1 647.8h0M483 447.3h0M522.3 750.1h0M394.9 488.1h0M476.2 493.4h0M630.1 576.1h0M434.7 638h0M425.5 631h0M607.5 666h0M568.6 743.5h0M469.3 448.8h0M509.8 526.8h0M535.7 475.9h0M689.3 596h0M515.8 733.8h0M446 514.3h0M390.6 631.4h0M464.7 728.8h0M530.9 552.1h0M420.7 676h0M527.9 473.7h0M483.3 625.4h0M490.2 447.8h0M495.9 433.7h0M517.6 572.2h0M678.8 647.5h0M447.8 670.6h0M578.3 673.7h0M559.2 494.3h0M550.9 622.6h0M486.9 427.2h0M574.2 744.6h0M585.5 728h0M483.9 531.6h0M683.7 620.4h0M418 447.8h0M460.1 492.5h0M647.2 475.1h0M404.6 595.9h0M483.3 705.4h0M691.1 539.1h0M444.9 433.5h0M647.8 515.3h0M644 478.2h0M447.4 453.6h0M590.3 735.6h0M471.7 642.4h0M497.8 550.5h0M534.4 515.1h0M552.2 517.6h0M460.2 677.7h0M549.5 684.7h0M478.6 608.7h0M577.1 642.5h0M603.3 487.3h0M541.5 471.4h0M471.3 675.7h0M540 548.6h0M462.9 440.6h0M457.5 621.2h0M384.1 639.2h0M442.2 701.9h0M569.1 432.7h0M558.1 651h0M441.3 685.8h0M452.1 567.5h0M580.7 501.7h0" stroke="#c9caef" stroke-width="2.0" stroke-linecap="round"/>
<path d="M700.5 603.2h0M562.3 424.9h0M653.4 653.1h0M684.6 617.7h0M624.4 607.4h0M645.1 449.6h0M450.1 634.3h0M396.6 510.1h0M532.7 572.8h0M626 458.3h0M511.8 569.7h0M613.2 511.8h0M457 512.8h0M446.7 618.3h0M442.5 690.3h0M575.6 544.9h0M613.9 703.4h0M462.2 444.7h0M615.6 431.5h0M552 728.2h0M571.7 451.3h0M391.6 578h0M446.7 698.6h0M615.5 519.7h0M514.8 414.3h0M511.6 412.3h0M526.8 661.6h0M543.9 712.8h0M502.5 653.9h0M406.5 471.7h0M507.3 677.2h0M561.4 528h0M594 555.5h0M539.2 616h0M623.6 604.4h0M456.3 717h0M681.8 590.6h0M625.3 466.3h0M597.7 528.8h0M506.5 598.9h0M603.5 455.4h0M406.9 627.2h0M649.9 548h0M579 459.3h0M552.3 734.8h0M483.4 563.1h0M690.6 521.8h0M551.5 649h0M431.2 694.2h0M384.3 529.1h0M500.7 432.2h0M619.7 617h0M629.1 448.7h0M520.8 717.1h0M495 584.1h0M596.7 522.3h0M585.4 503.4h0M477 540.7h0M382.1 579.6h0M696 556.7h0M688 511.7h0M577.4 622.5h0M672.9 679.7h0M515.5 654.8h0M431.5 635.2h0M579.8 717h0M610.3 529.1h0M619.7 621h0M588.1 444.5h0M403.6 655.9h0M557.9 699.5h0M468.1 619.3h0M683.1 599.1h0M652.1 675.4h0M551.7 559.8h0M394.4 557.3h0M427.1 454.6h0M467.7 609.3h0M582.8 512.9h0M653.4 544.1h0M473.7 735.7h0M690.5 515h0M565.1 514.4h0M631.7 645.3h0M516.9 489.1h0M360.1 587.9h0M581.4 512.5h0M688.1 544h0M471.1 489.5h0M528.5 660.8h0M646.3 615.5h0M642.9 537.7h0M434.3 484.7h0M687.7 640.1h0M378.4 590.4h0M560.8 557.3h0M601.4 506.3h0M435.6 444.7h0M578.7 531.1h0M679.3 648.8h0M488.4 591.2h0M633.5 675.3h0M465.2 719.8h0M657.9 617h0M360.6 607.1h0M632.1 515.4h0M633.5 705.7h0M367.6 599.9h0M636.3 698.3h0M475.1 528.2h0M388 496.8h0M481.5 699.4h0M518.9 675h0M546.9 618.8h0M535.4 440.6h0M665.5 472.1h0M580.9 416.8h0M648.5 474.2h0M596.3 555h0M615.6 573.8h0M583.6 577.8h0M439.2 654.2h0M583.8 528.8h0M605.7 447.4h0M684.8 540.9h0M465.6 659.9h0M602.7 624.2h0M450.8 582.9h0M561 465.8h0M589.6 525.2h0M650.2 533.1h0M468.8 494.6h0M490.5 697.8h0M468.2 644.7h0M501.1 540.4h0M555.2 465h0M587.3 668h0M665.1 494.7h0M603.9 435h0M613.3 570.4h0M476.4 615h0M421.3 463.1h0M552.3 743.3h0M526.7 407.6h0M386.2 574.6h0M364.5 605h0M510.6 458.1h0M538.2 671.2h0M538.4 613.6h0M511.4 558h0M517 497h0M466.7 494.1h0M647.7 585.4h0M397.8 665.2h0M553.9 488.6h0M371.5 541.1h0M374.6 570.7h0M547.3 496.5h0M606 651.2h0M388.4 482h0M649.5 700.5h0M583.9 501.3h0M405.9 665.4h0M459.8 536.9h0M373 582.1h0M475.7 673.3h0M514 588.2h0M514.7 532.5h0M384.3 497.4h0M543 419.6h0M477.1 728.7h0M576.7 451.8h0M580.9 690.9h0M653.2 570.3h0M573.2 441.4h0M391.6 508.8h0M515.7 446.9h0M635.9 640.4h0M551.2 602.1h0M418.8 487h0M499.2 581.4h0M565.5 569.1h0M553.3 719.9h0M664 601.8h0M382.8 641.4h0M521 621.4h0M371.6 584h0M513.6 649.9h0M523.1 494.5h0M427.1 462.4h0M408.8 515.2h0M435.2 534h0M584.8 618.1h0M601.7 653.4h0M445.3 440.1h0M394.4 473.6h0M423.1 658.1h0M574.3 456h0M620.4 670.6h0M392.5 500.1h0M402 502.1h0M587.9 512.2h0M454.9 582.4h0M580.3 734.2h0M499.6 653.8h0M644 652.2h0M640.8 687.5h0M675.7 526.2h0M656.4 597.7h0M447.1 708.1h0M471.3 709.7h0M504.9 743.4h0M591.4 421.3h0M695.2 621.7h0M378.7 626.8h0M641.5 694.1h0M429 619.8h0M399.9 550.3h0M448.8 547.5h0M546.3 451h0M464 682.1h0M606.6 641h0M607.1 425.2h0M532.9 653.4h0M648.3 524.5h0M667.2 580.7h0M472.9 703.9h0M565.5 579.5h0M443 551.8h0M582.3 446.4h0M646 706h0M415.5 531.5h0M565.9 661.8h0M639.2 691.2h0M478.9 439.5h0M599.7 679.5h0M601.4 626.8h0M628.8 513.8h0M472.6 677.2h0M495.2 636.3h0M463.6 451h0M637.4 687.6h0M445.8 630.2h0M556.1 600h0M497.3 728.8h0" stroke="#bfe0ba" stroke-width="1.9" stroke-linecap="round"/>
<path d="M515.0 443.6L554.7 469.0M515.0 443.6L563.6 628.5M515.0 443.6L507.8 637.9M442.2 482.2L509.6 533.3M442.2 482.2L447.6 673.5M617.0 475.3L509.6 533.3M617.0 475.3L434.1 544.7M659.7 535.6L509.6 533.3M659.7 535.6L430.3 621.4M661.5 602.3L470.0 611.0M661.5 602.3L548.8 648.1M398.5 590.3L434.1 544.7M398.5 590.3L535.6 562.9M447.6 673.5L434.1 544.7M447.6 673.5L470.0 611.0M447.6 673.5L430.3 621.4M538.6 708.5L588.3 665.9M538.6 708.5L465.9 578.6M629.7 618.8L563.6 628.5M629.7 618.8L594.6 640.0M629.7 618.8L588.3 665.9M623.3 659.0L594.6 640.0M594.6 640.0L556.5 664.1M434.1 544.7L439.2 583.2M434.1 544.7L465.9 578.6M434.1 544.7L470.0 611.0M439.2 583.2L430.3 621.4M440.4 633.6L430.3 621.4" stroke="#a6a6a6" stroke-width="2.6" fill="none" stroke-linecap="round"/>
<path d="M538.6 708.5L509.6 533.3M538.6 708.5L515.0 443.6" stroke="#a6a6a6" stroke-width="4" fill="none" stroke-linecap="round"/>
<path d="M515.0 443.6L498.4 494.4M515.0 443.6L509.6 533.3M515.0 443.6L434.1 544.7M515.0 443.6L573.8 528.7M515.0 443.6L661.5 602.3M515.0 443.6L554.7 593.4M515.0 443.6L548.8 648.1M442.2 482.2L498.4 494.4M442.2 482.2L554.7 469.0M442.2 482.2L434.1 544.7M442.2 482.2L535.6 562.9M442.2 482.2L507.8 637.9M617.0 475.3L498.4 494.4M617.0 475.3L554.7 469.0M617.0 475.3L554.7 593.4M617.0 475.3L661.5 602.3M617.0 475.3L477.3 560.8M617.0 475.3L573.8 528.7M659.7 535.6L573.8 528.7M659.7 535.6L535.6 562.9M659.7 535.6L498.4 494.4M659.7 535.6L477.3 560.8M659.7 535.6L554.7 469.0M659.7 535.6L507.8 637.9M659.7 535.6L554.7 593.4M661.5 602.3L554.7 593.4M661.5 602.3L477.3 560.8M661.5 602.3L535.6 562.9M661.5 602.3L509.6 533.3M661.5 602.3L440.4 633.6M661.5 602.3L498.4 494.4M398.5 590.3L498.4 494.4M398.5 590.3L477.3 560.8M398.5 590.3L509.6 533.3M398.5 590.3L554.7 593.4M398.5 590.3L470.0 611.0M447.6 673.5L498.4 494.4M447.6 673.5L509.6 533.3M447.6 673.5L554.7 593.4M447.6 673.5L477.3 560.8M447.6 673.5L535.6 562.9M538.6 708.5L485.5 678.6M538.6 708.5L493.3 664.6M538.6 708.5L502.0 653.1M538.6 708.5L507.8 637.9M538.6 708.5L548.8 648.1M538.6 708.5L556.5 664.1M538.6 708.5L563.6 628.5M538.6 708.5L554.7 593.4M538.6 708.5L594.6 640.0M538.6 708.5L530.0 634.0M629.7 618.8L637.3 640.0M601.7 619.3L623.3 659.0M601.7 619.3L563.6 628.5M637.3 640.0L563.6 628.5M637.3 640.0L588.3 665.9M623.3 659.0L563.6 628.5M637.3 640.0L548.8 648.1M629.7 618.8L548.8 648.1M623.3 659.0L548.8 648.1" stroke="#bc95d0" stroke-width="2.2" fill="none" stroke-linecap="round"/>
<path d="M500.0 489.6L499.5 486.1L502.4 487.1ZM550.5 466.3L547.0 465.8L548.6 463.3ZM509.9 528.3L508.6 525.0L511.6 525.2ZM437.2 540.8L438.1 537.4L440.4 539.2ZM571.0 524.6L567.9 522.8L570.4 521.1ZM658.1 598.6L654.8 597.3L657.0 595.3ZM562.3 623.7L560.1 621.0L563.0 620.2ZM553.4 588.6L551.1 585.9L554.0 585.1ZM548.0 643.2L546.0 640.3L548.9 639.8ZM508.0 632.9L506.6 629.7L509.6 629.8ZM493.5 493.3L490.1 494.1L490.7 491.2ZM549.7 469.6L546.7 471.4L546.4 468.5ZM505.6 530.3L502.2 529.5L504.0 527.2ZM434.7 539.7L433.7 536.4L436.6 536.8ZM447.5 668.5L445.9 665.3L448.9 665.3ZM531.8 559.6L528.4 558.7L530.4 556.4ZM505.9 633.3L503.2 630.9L506.0 629.8ZM503.3 493.6L506.3 491.6L506.7 494.6ZM559.7 469.5L563.0 468.3L562.7 471.3ZM514.0 530.9L516.1 528.1L517.5 530.7ZM438.8 542.9L441.2 540.4L442.3 543.2ZM557.0 589.0L557.2 585.4L559.9 586.8ZM659.8 597.6L657.4 595.1L660.2 594.1ZM481.6 558.2L483.5 555.2L485.1 557.8ZM576.9 524.8L577.8 521.4L580.1 523.3ZM578.8 529.1L582.1 527.9L581.9 530.9ZM514.6 533.4L517.8 531.9L517.8 534.9ZM540.5 561.8L543.3 559.7L543.9 562.6ZM503.2 495.6L506.7 495.0L506.0 497.9ZM482.3 560.1L485.2 558.2L485.6 561.2ZM558.9 471.7L562.4 472.1L560.8 474.7ZM511.9 635.1L513.8 632.1L515.4 634.6ZM435.0 619.6L437.5 617.1L438.5 619.9ZM559.1 591.0L561.2 588.1L562.6 590.8ZM559.7 593.8L563.0 592.6L562.7 595.6ZM475.0 610.8L478.1 609.1L478.3 612.1ZM482.2 561.9L485.6 561.1L485.0 564.1ZM540.4 564.4L543.9 563.9L543.0 566.8ZM514.2 535.4L517.7 535.3L516.4 538.1ZM553.4 646.2L555.8 643.6L557.0 646.4ZM445.4 632.9L448.3 631.0L448.7 633.9ZM502.6 497.2L506.1 497.7L504.4 500.2ZM494.8 497.9L493.5 501.2L491.4 499.0ZM431.0 548.6L430.2 552.1L427.9 550.2ZM472.6 562.6L470.1 565.1L469.1 562.3ZM505.2 535.6L503.0 538.4L501.6 535.7ZM549.7 593.3L546.5 594.7L546.5 591.7ZM530.7 563.9L527.9 566.0L527.3 563.0ZM465.2 609.6L461.7 610.2L462.5 607.3ZM497.0 499.2L497.6 502.7L494.7 501.9ZM507.6 537.9L507.7 541.4L504.9 540.2ZM434.6 549.7L436.4 552.7L433.5 553.0ZM468.3 615.7L468.6 619.2L465.8 618.2ZM550.7 596.4L549.0 599.5L547.2 597.1ZM476.0 565.6L476.7 569.1L473.8 568.3ZM431.9 626.1L434.3 628.7L431.5 629.7ZM532.5 566.8L531.7 570.3L529.3 568.4ZM489.9 681.1L493.4 681.3L491.9 683.9ZM496.9 668.1L500.2 669.2L498.1 671.4ZM504.8 657.3L507.8 659.1L505.3 660.8ZM509.8 642.5L512.5 644.8L509.7 646.0ZM548.0 653.0L548.9 656.4L546.0 655.9ZM554.6 668.7L554.8 672.3L552.0 671.1ZM584.5 669.2L583.1 672.4L581.1 670.1ZM510.4 538.2L512.4 541.1L509.5 541.6ZM515.4 448.6L517.2 451.6L514.2 451.9ZM468.3 583.0L471.2 585.0L468.6 586.5ZM562.1 633.3L562.6 636.8L559.7 635.9ZM554.0 598.4L555.0 601.7L552.1 601.3ZM591.4 643.9L590.6 647.3L588.2 645.4ZM530.6 639.0L532.4 642.0L529.5 642.3Z" fill="#1f8a84"/>
<circle cx="481.1" cy="423.7" r="4.5" fill="#f39130"/>
<circle cx="535.1" cy="412.5" r="4.5" fill="#f39130"/>
<circle cx="584.4" cy="420.2" r="4.5" fill="#f39130"/>
<circle cx="628.4" cy="440.5" r="4.5" fill="#f39130"/>
<circle cx="436.6" cy="448.1" r="4.5" fill="#f39130"/>
<circle cx="659.7" cy="470.8" r="4.5" fill="#f39130"/>
<circle cx="442.2" cy="482.2" r="6" fill="#f39130"/>
<circle cx="683.1" cy="503.8" r="4.5" fill="#f39130"/>
<circle cx="697.1" cy="545.5" r="4.5" fill="#f39130"/>
<circle cx="698.9" cy="592.1" r="4.5" fill="#f39130"/>
<circle cx="447.6" cy="673.5" r="6" fill="#f39130"/>
<circle cx="538.6" cy="708.5" r="6" fill="#f39130"/>
<circle cx="515" cy="443.6" r="6" fill="#969b1e"/>
<circle cx="377.4" cy="621.4" r="4.2" fill="#969b1e"/>
<circle cx="399.3" cy="660.8" r="4.2" fill="#969b1e"/>
<circle cx="685.1" cy="636.1" r="4.2" fill="#969b1e"/>
<circle cx="663.5" cy="672.7" r="4.2" fill="#969b1e"/>
<circle cx="428" cy="701" r="4.2" fill="#969b1e"/>
<circle cx="628.2" cy="704.5" r="4.2" fill="#969b1e"/>
<circle cx="477" cy="730" r="4.2" fill="#969b1e"/>
<circle cx="585.5" cy="728.5" r="4.2" fill="#969b1e"/>
<circle cx="541" cy="741.5" r="4.2" fill="#969b1e"/>
<circle cx="400.5" cy="485.5" r="4.2" fill="#9297de"/>
<circle cx="498.4" cy="494.4" r="4.2" fill="#9297de"/>
<circle cx="554.7" cy="469" r="4.2" fill="#9297de"/>
<circle cx="617" cy="475.3" r="6" fill="#9297de"/>
<circle cx="380.7" cy="524.4" r="4.2" fill="#9297de"/>
<circle cx="573.8" cy="528.7" r="4.2" fill="#9297de"/>
<circle cx="509.6" cy="533.3" r="4.2" fill="#9297de"/>
<circle cx="659.7" cy="535.6" r="6" fill="#9297de"/>
<circle cx="434.1" cy="544.7" r="4.2" fill="#9297de"/>
<circle cx="477.3" cy="560.8" r="4.2" fill="#9297de"/>
<circle cx="535.6" cy="562.9" r="4.2" fill="#9297de"/>
<circle cx="370.5" cy="570.5" r="4.2" fill="#9297de"/>
<circle cx="465.9" cy="578.6" r="4.2" fill="#9297de"/>
<circle cx="439.2" cy="583.2" r="3.6" fill="#9297de"/>
<circle cx="398.5" cy="590.3" r="6" fill="#9297de"/>
<circle cx="554.7" cy="593.4" r="4.2" fill="#9297de"/>
<circle cx="661.5" cy="602.3" r="6" fill="#9297de"/>
<circle cx="470" cy="611" r="3.6" fill="#9297de"/>
<circle cx="430.3" cy="621.4" r="3.6" fill="#9297de"/>
<circle cx="601.7" cy="619.3" r="4.2" fill="#9297de"/>
<circle cx="629.7" cy="618.8" r="3.6" fill="#9297de"/>
<circle cx="563.6" cy="628.5" r="4.2" fill="#9297de"/>
<circle cx="440.4" cy="633.6" r="4.2" fill="#9297de"/>
<circle cx="530" cy="634" r="4.2" fill="#9297de"/>
<circle cx="507.8" cy="637.9" r="4.2" fill="#9297de"/>
<circle cx="594.6" cy="640" r="4.2" fill="#9297de"/>
<circle cx="637.3" cy="640" r="4.2" fill="#9297de"/>
<circle cx="548.8" cy="648.1" r="4.2" fill="#9297de"/>
<circle cx="502" cy="653.1" r="4.2" fill="#9297de"/>
<circle cx="623.3" cy="659" r="4.2" fill="#9297de"/>
<circle cx="556.5" cy="664.1" r="4.2" fill="#9297de"/>
<circle cx="493.3" cy="664.6" r="4.2" fill="#9297de"/>
<circle cx="588.3" cy="665.9" r="4.2" fill="#9297de"/>
<circle cx="485.5" cy="678.6" r="4.2" fill="#9297de"/>
<g font-style="italic" font-weight="bold" font-size="9.3" fill="#111">
<text x="515.5" y="408.8">WPCL1-3A</text>
<text x="558" y="416.4">ODDSOC2-3D</text>
<text x="465.4" y="421">WPCL1-3D</text>
<text x="612.4" y="437.3">VRN1-B</text>
<text x="496.4" y="439.8">TaFDL2-1B</text>
<text x="422.6" y="444.9">TaAP2-2B</text>
<text x="540.2" y="466.8">ZNF10-5B</text>
<text x="643.7" y="467.8">VRN1-D</text>
<text x="599.7" y="472.4">TaSTK-D1</text>
<text x="426" y="479.5">WAG1-1D</text>
<text x="386.5" y="482.1">WCO1-1D</text>
<text x="484.2" y="490.9">ZNF10-7D</text>
<text x="637.8" y="500.4">ODDSOC2-3B</text>
<text x="366.7" y="521.2">WCO1-1A</text>
<text x="559" y="525.3">ZNF10-5A</text>
<text x="495.9" y="530.4">ZNF7-5B</text>
<text x="638.6" y="531.4">TaAGL17-B3</text>
<text x="416.3" y="541.5">ZNF18-5A_1</text>
<text x="672.4" y="542.3">TaGI-3D</text>
<text x="459.5" y="557.8">ZNF18-5A_3</text>
<text x="520.5" y="559.2">ZNF10-7B</text>
<text x="356.5" y="567.6">WCO1-1B</text>
<text x="444.3" y="577.2">ZNF18-5A_2</text>
<text x="376.4" y="587.9">WAG2-3A</text>
<text x="426.5" y="589.2">ZNF12-5A_1</text>
<text x="673.4" y="589.2">TaGI-3B</text>
<text x="540.2" y="589.7">ZNF10-5D</text>
<text x="641.1" y="598.8">TaAGL17-B1</text>
<text x="438.4" y="610.8">ZNF18-5D</text>
<text x="586.5" y="617.1">ZNF8-5B</text>
<text x="361.1" y="617.6">TaPHYC-5B</text>
<text x="625.9" y="617.9">ZNF18-5B_1</text>
<text x="416.3" y="619.7">ZNF12-5D</text>
<text x="547.1" y="624.3">ZNF18-5B_3</text>
<text x="656.4" y="628.6">TaPHYC-5D</text>
<text x="425.7" y="629.8">ZNF18-5D</text>
<text x="506.6" y="629.8">ZNF11-5D</text>
<text x="576.3" y="637">ZNF18-U</text>
<text x="622.6" y="637">ZNF12-5B</text>
<text x="469.7" y="637.5">ZNF18-5D_1</text>
<text x="534.4" y="645.1">ZNF11-5D</text>
<text x="488.8" y="650.2">ZNF7-5D</text>
<text x="611.4" y="655.3">ZNF11-5B_2</text>
<text x="380.7" y="657.1">ODDSOC2-3A</text>
<text x="480.4" y="661.6">ZNF8-5A</text>
<text x="529.3" y="662.4">ZNF18-5D</text>
<text x="576.3" y="662.4">ZNF7-5B</text>
<text x="623.3" y="668.5">TaHd1/TaCO-7D</text>
<text x="431.5" y="669.8">VRT2-7A</text>
<text x="467.9" y="675.6">ZNF11-5B_1</text>
<text x="413.8" y="697.2">TaTOE-1D</text>
<text x="609.4" y="701">ODDSOC2-3D</text>
<text x="522.3" y="704.9">VRN1-A</text>
<text x="570.5" y="724.9">TaTOE-1A</text>
<text x="460" y="726.9">TaPHYC-5A</text>
<text x="521.5" y="736.9">ODDSOC2-3D</text>
</g>
<text x="358" y="401" font-size="29.5" font-weight="bold">g</text>
<text x="389" y="420.8" font-size="14.3" fill="#231815" font-weight="bold">V28N6</text>
<g font-size="9.5" fill="#111" stroke="#111" stroke-width="0.2">
<text x="362.0" y="708.4">9871 links;</text>
<text x="365.0" y="720.1">6248 nodes</text>
<text x="362.0" y="731.8">(4797 genes,</text>
<text x="362.0" y="743.5">1451 distal regulator)</text>
</g>
<circle cx="89.8" cy="757.7" r="3.5" fill="#f39130"/>
<circle cx="89.8" cy="772.4" r="3.5" fill="#969b1e"/>
<circle cx="89.8" cy="786.5" r="3.5" fill="#9297de"/>
<circle cx="89.8" cy="800.6" r="1.1" fill="#9fd49a"/>
<g font-size="9.6" fill="#111" stroke="#111" stroke-width="0.2">
<text x="98.8" y="761.1">Cluster 1 or cluster 2 DEGs</text>
<text x="98.8" y="775.8">Cluster 3, cluster 4 or cluster 5 DEGs</text>
<text x="98.8" y="789.9">Cluster 6 or cluster 7 DEGs</text>
<text x="98.8" y="804.0">Distal regulater elements</text>
<text x="301.3" y="768.4">V0-specific PPI or PDI</text>
<text x="301.3" y="782.4">V28N6-specific PPI or PDI</text>
<text x="301.3" y="796.7">V0 and V28N6 common PPI or PDI</text>
<text x="506.2" y="767.7">V0-specific TF footprint</text>
<text x="506.2" y="782.4">V28N6-specific TF footprint</text>
<text x="506.2" y="796.4">V0 and V28N6 common TF footprint</text>
</g>
<line x1="274.4" y1="765.2" x2="298.1" y2="765.2" stroke="#a3d38a" stroke-width="2.6"/>
<line x1="274.4" y1="778.9" x2="298.1" y2="778.9" stroke="#bc95d0" stroke-width="2.6"/>
<line x1="274.4" y1="793.5" x2="298.1" y2="793.5" stroke="#a6a6a6" stroke-width="2.6"/>
<line x1="474.7" y1="764.3" x2="498" y2="764.3" stroke="#a3d38a" stroke-width="2.6"/>
<path d="M503.5 764.3L497.5 762.1L497.5 766.5Z" fill="#1f8a84"/>
<line x1="474.7" y1="779" x2="498" y2="779" stroke="#bc95d0" stroke-width="2.6"/>
<path d="M503.5 779.0L497.5 776.8L497.5 781.2Z" fill="#1f8a84"/>
<line x1="474.7" y1="793" x2="498" y2="793" stroke="#a6a6a6" stroke-width="2.6"/>
<path d="M503.5 793.0L497.5 790.8L497.5 795.2Z" fill="#1f8a84"/>
<text x="3.5" y="822.4" font-size="28" font-weight="bold">h</text>
<defs><filter id="spk" color-interpolation-filters="sRGB" x="0" y="0" width="1" height="1" filterUnits="objectBoundingBox"><feTurbulence type="fractalNoise" baseFrequency="0.5" numOctaves="1" seed="7"/><feColorMatrix type="matrix" values="0 0 0 0 0  0 0 0 0 0  0 0 0 0 0  1.7 0 0 0 -0.66"/></filter><filter id="spk2" color-interpolation-filters="sRGB" x="0" y="0" width="1" height="1" filterUnits="objectBoundingBox"><feTurbulence type="fractalNoise" baseFrequency="0.16" numOctaves="2" seed="3"/><feColorMatrix type="matrix" values="0 0 0 0 0  0 0 0 0 0  0 0 0 0 0  3.4 0 0 0 -1.35"/></filter><filter id="spk3" color-interpolation-filters="sRGB" x="0" y="0" width="1" height="1" filterUnits="objectBoundingBox"><feTurbulence type="fractalNoise" baseFrequency="0.7" numOctaves="1" seed="5"/><feColorMatrix type="matrix" values="0 0 0 0 0  0 0 0 0 0  0 0 0 0 0  2 0 0 0 -0.8"/></filter><filter id="blr" color-interpolation-filters="sRGB" x="-0.5" y="-0.5" width="2" height="2"><feGaussianBlur stdDeviation="9"/></filter><filter id="blr2" color-interpolation-filters="sRGB" x="-0.5" y="-0.5" width="2" height="2"><feGaussianBlur stdDeviation="14"/></filter><radialGradient id="h1g" cx="0.4" cy="0.56" r="0.68"><stop offset="0" stop-color="#0a0ad8"/><stop offset="0.45" stop-color="#0808c2"/><stop offset="0.72" stop-color="#06068e"/><stop offset="0.9" stop-color="#03035a"/><stop offset="1" stop-color="#020230"/></radialGradient><radialGradient id="h3g" cx="0.5" cy="0.5" r="0.5"><stop offset="0" stop-color="#1d1de8"/><stop offset="0.6" stop-color="#1515c8"/><stop offset="0.85" stop-color="#0c0c8a" stop-opacity="0.8"/><stop offset="1" stop-color="#000" stop-opacity="0"/></radialGradient><radialGradient id="h4g" cx="0.52" cy="0.86" r="0.92"><stop offset="0" stop-color="#1010f0"/><stop offset="0.3" stop-color="#0c0cd0"/><stop offset="0.55" stop-color="#0909a8"/><stop offset="0.8" stop-color="#050570"/><stop offset="1" stop-color="#010120"/></radialGradient><radialGradient id="blob" cx="0.45" cy="0.5" r="0.5"><stop offset="0" stop-color="#0c0cd0"/><stop offset="0.35" stop-color="#0a0ab8"/><stop offset="0.65" stop-color="#07079a" stop-opacity="0.8"/><stop offset="0.85" stop-color="#050570" stop-opacity="0.4"/><stop offset="1" stop-color="#03035a" stop-opacity="0"/></radialGradient><clipPath id="c1"><rect x="21.5" y="829" width="161" height="161"/></clipPath><clipPath id="c2"><rect x="187" y="829" width="161" height="161"/></clipPath><clipPath id="c3"><rect x="368.6" y="829" width="160" height="161"/></clipPath><clipPath id="c4"><rect x="534.8" y="829" width="161" height="161"/></clipPath></defs>
<g clip-path="url(#c1)">
<rect x="21.5" y="829" width="161" height="161" fill="url(#h1g)"/>
<ellipse cx="26" cy="832" rx="45" ry="32" fill="#000" filter="url(#blr)" opacity="0.85"/>
<rect x="21.5" y="829" width="161" height="161" filter="url(#spk)" opacity="0.85"/>
</g>
<g clip-path="url(#c2)">
<rect x="187" y="829" width="161" height="161" fill="#000"/>
<g filter="url(#blr2)" fill="#0808aa">
<ellipse cx="270" cy="866" rx="40" ry="36"/>
<ellipse cx="262" cy="910" rx="50" ry="32"/>
<ellipse cx="300" cy="958" rx="50" ry="40"/>
<ellipse cx="282" cy="932" rx="34" ry="22"/>
</g>
<ellipse cx="272" cy="915" rx="26" ry="34" fill="#0a0ac4" filter="url(#blr2)"/>
<rect x="187" y="829" width="161" height="161" filter="url(#spk)" opacity="0.85"/>
</g>
<g clip-path="url(#c3)">
<rect x="368.6" y="829" width="160" height="161" fill="#000"/>
<ellipse cx="0" cy="0" rx="96" ry="90" fill="url(#blob)" transform="translate(432 912) rotate(-20)"/>
<rect x="368.6" y="829" width="160" height="161" filter="url(#spk)" opacity="0.85"/>
</g>
<g clip-path="url(#c4)">
<rect x="534.8" y="829" width="161" height="161" fill="url(#h4g)"/>
<ellipse cx="660" cy="915" rx="50" ry="10" fill="#08086a" filter="url(#blr)" opacity="0.6"/>
<rect x="534.8" y="829" width="161" height="161" filter="url(#spk3)" opacity="0.5"/>
</g>
<g clip-path="url(#c2)">
<rect x="188.8" y="941.6" width="72.8" height="44.8" fill="#0808b0"/>
<rect x="188.8" y="941.6" width="72.8" height="44.8" filter="url(#spk2)" opacity="0.8"/>
</g>
<g fill="none" stroke="#fff" stroke-width="0.9" stroke-dasharray="2 1.2"><rect x="188.8" y="941.6" width="72.8" height="44.8"/><rect x="250.2" y="841.5" width="43.2" height="30.7"/><rect x="536.6" y="941.8" width="72.8" height="45.6"/><rect x="558.1" y="874.3" width="43.5" height="31.4"/></g>
<g clip-path="url(#c4)">
<rect x="536.6" y="941.8" width="72.8" height="45.6" fill="#0606a8"/>
<rect x="536.6" y="941.8" width="72.8" height="45.6" filter="url(#spk2)" opacity="0.6"/>
</g>
<rect x="536.6" y="941.8" width="72.8" height="45.6" fill="none" stroke="#fff" stroke-width="1.1" stroke-dasharray="2 1"/>
<circle cx="130.2" cy="857.6" r="0.9" fill="#3de05a"/>
<circle cx="148.5" cy="894.9" r="1" fill="#ff2cd8"/>
<line x1="262.0" y1="853.6" x2="267.9" y2="856.5" stroke="#fff" stroke-width="1.3"/>
<path d="M271.0 858.0L266.8 858.5L268.9 854.4Z" fill="#fff"/>
<ellipse cx="277.5" cy="860.4" rx="1.6" ry="2.6" fill="#fff" stroke="#ff30d8" stroke-width="0.6" transform="rotate(-25 277.5 860.4)"/>
<line x1="197.5" y1="951.8" x2="206.7" y2="957.1" stroke="#fff" stroke-width="2.4"/>
<path d="M211.5 959.8L204.9 960.2L208.5 953.9Z" fill="#fff"/>
<ellipse cx="0" cy="0" rx="5.5" ry="8.5" fill="#ff3ee0" transform="translate(228 966.5) rotate(-25)"/>
<ellipse cx="0" cy="0" rx="4.6" ry="7.6" fill="#fff" transform="translate(229.2 967.2) rotate(-25)"/>
<path d="M232 962 Q235.5 968 232 975" stroke="#36d06a" stroke-width="1" fill="none"/>
<circle cx="486.5" cy="928.5" r="1.9" fill="#ff30d8"/>
<circle cx="490.3" cy="941" r="1.6" fill="#2ed050"/>
<line x1="571.4" y1="885.0" x2="578.4" y2="888.9" stroke="#fff" stroke-width="1.5"/>
<path d="M581.7 890.8L577.2 891.0L579.6 886.8Z" fill="#fff"/>
<circle cx="585.6" cy="893.8" r="2.1" fill="#2ee060"/>
<circle cx="586.2" cy="893.4" r="1.2" fill="#fff"/>
<path d="M585.4 891.8a2 2 0 0 1 2.4 1.2z" fill="#ff30d8"/>
<line x1="545.8" y1="953.7" x2="557.5" y2="959.0" stroke="#fff" stroke-width="2.6"/>
<path d="M563.4 961.7L555.7 962.8L559.2 955.2Z" fill="#fff"/>
<circle cx="573.7" cy="969" r="6.9" fill="#2ee060"/>
<circle cx="575.4" cy="969.6" r="5.2" fill="#fff"/>
<path d="M572.5 963.2 A6.9 6.9 0 0 1 580.4 968 L576 966.5Z" fill="#ff30d8"/>
<rect x="111.9" y="982.2" width="65.9" height="3.4" fill="#fff"/>
<rect x="275.2" y="982.2" width="66.5" height="3.4" fill="#fff"/>
<rect x="457.6" y="982.2" width="67.0" height="3.4" fill="#fff"/>
<text x="104" y="825.4" font-size="13.5" fill="#231815" font-weight="bold" text-anchor="middle">V0</text>
<text x="265.6" y="824.6" font-size="13.8" fill="#231815" font-weight="bold" text-anchor="middle">V28N6</text>
<text x="444.7" y="825.4" font-size="13.5" fill="#231815" font-weight="bold" text-anchor="middle">V0</text>
<text x="616.4" y="824.6" font-size="13.8" fill="#231815" font-weight="bold" text-anchor="middle">V28N6</text>
<text x="185.4" y="1005.2" font-size="12.2" text-anchor="middle" stroke-width="0.35"><tspan fill="#f01ce6" stroke="#f01ce6" font-style="italic">ZNF10-5A</tspan> <tspan font-weight="bold">&amp;</tspan> <tspan fill="#1ea048" stroke="#1ea048">Chr 5A:593761121</tspan></text>
<text x="530.7" y="1005.2" font-size="12.2" text-anchor="middle" stroke-width="0.35"><tspan fill="#f01ce6" stroke="#f01ce6" font-style="italic">ZNF10-5B</tspan> <tspan font-weight="bold">&amp;</tspan> <tspan fill="#1ea048" stroke="#1ea048">Chr 5B:581709899</tspan></text>
</svg>
</body></html>
